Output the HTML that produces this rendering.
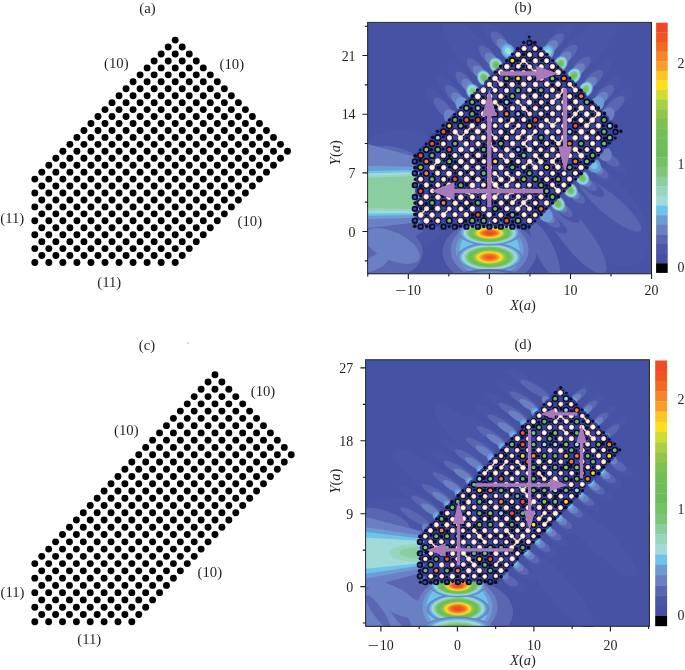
<!DOCTYPE html>
<html lang="en"><head><meta charset="utf-8"><title>Figure</title>
<style>
html,body{margin:0;padding:0;background:#fff;}
body{width:685px;height:670px;overflow:hidden;font-family:"Liberation Serif","Times New Roman",serif;}
svg{display:block;}
</style></head><body>
<svg width="685" height="670" viewBox="0 0 685 670" font-family="'Liberation Serif', 'Times New Roman', serif" fill="#231f20">
<defs>
<filter id="b1" x="-20%" y="-20%" width="140%" height="140%"><feGaussianBlur stdDeviation="0.7"/></filter>
<filter id="b2" x="-20%" y="-20%" width="140%" height="140%"><feGaussianBlur stdDeviation="1.6"/></filter>
<clipPath id="cb"><rect x="368" y="23" width="283.5" height="250.8"/></clipPath>
<clipPath id="cd"><rect x="366" y="360" width="283.4" height="266.3"/></clipPath>
</defs>
<rect width="685" height="670" fill="#fff"/>
<g fill="#000"><circle cx="175.2" cy="40.1" r="3.45"/><circle cx="168.18" cy="47.05" r="3.45"/><circle cx="182.22" cy="47.05" r="3.45"/><circle cx="161.16" cy="54" r="3.45"/><circle cx="175.2" cy="54" r="3.45"/><circle cx="189.24" cy="54" r="3.45"/><circle cx="154.14" cy="60.95" r="3.45"/><circle cx="168.18" cy="60.95" r="3.45"/><circle cx="182.22" cy="60.95" r="3.45"/><circle cx="196.26" cy="60.95" r="3.45"/><circle cx="147.12" cy="67.9" r="3.45"/><circle cx="161.16" cy="67.9" r="3.45"/><circle cx="175.2" cy="67.9" r="3.45"/><circle cx="189.24" cy="67.9" r="3.45"/><circle cx="203.28" cy="67.9" r="3.45"/><circle cx="140.1" cy="74.85" r="3.45"/><circle cx="154.14" cy="74.85" r="3.45"/><circle cx="168.18" cy="74.85" r="3.45"/><circle cx="182.22" cy="74.85" r="3.45"/><circle cx="196.26" cy="74.85" r="3.45"/><circle cx="210.3" cy="74.85" r="3.45"/><circle cx="133.08" cy="81.8" r="3.45"/><circle cx="147.12" cy="81.8" r="3.45"/><circle cx="161.16" cy="81.8" r="3.45"/><circle cx="175.2" cy="81.8" r="3.45"/><circle cx="189.24" cy="81.8" r="3.45"/><circle cx="203.28" cy="81.8" r="3.45"/><circle cx="217.32" cy="81.8" r="3.45"/><circle cx="126.06" cy="88.75" r="3.45"/><circle cx="140.1" cy="88.75" r="3.45"/><circle cx="154.14" cy="88.75" r="3.45"/><circle cx="168.18" cy="88.75" r="3.45"/><circle cx="182.22" cy="88.75" r="3.45"/><circle cx="196.26" cy="88.75" r="3.45"/><circle cx="210.3" cy="88.75" r="3.45"/><circle cx="224.34" cy="88.75" r="3.45"/><circle cx="119.04" cy="95.7" r="3.45"/><circle cx="133.08" cy="95.7" r="3.45"/><circle cx="147.12" cy="95.7" r="3.45"/><circle cx="161.16" cy="95.7" r="3.45"/><circle cx="175.2" cy="95.7" r="3.45"/><circle cx="189.24" cy="95.7" r="3.45"/><circle cx="203.28" cy="95.7" r="3.45"/><circle cx="217.32" cy="95.7" r="3.45"/><circle cx="231.36" cy="95.7" r="3.45"/><circle cx="112.02" cy="102.65" r="3.45"/><circle cx="126.06" cy="102.65" r="3.45"/><circle cx="140.1" cy="102.65" r="3.45"/><circle cx="154.14" cy="102.65" r="3.45"/><circle cx="168.18" cy="102.65" r="3.45"/><circle cx="182.22" cy="102.65" r="3.45"/><circle cx="196.26" cy="102.65" r="3.45"/><circle cx="210.3" cy="102.65" r="3.45"/><circle cx="224.34" cy="102.65" r="3.45"/><circle cx="238.38" cy="102.65" r="3.45"/><circle cx="105" cy="109.6" r="3.45"/><circle cx="119.04" cy="109.6" r="3.45"/><circle cx="133.08" cy="109.6" r="3.45"/><circle cx="147.12" cy="109.6" r="3.45"/><circle cx="161.16" cy="109.6" r="3.45"/><circle cx="175.2" cy="109.6" r="3.45"/><circle cx="189.24" cy="109.6" r="3.45"/><circle cx="203.28" cy="109.6" r="3.45"/><circle cx="217.32" cy="109.6" r="3.45"/><circle cx="231.36" cy="109.6" r="3.45"/><circle cx="245.4" cy="109.6" r="3.45"/><circle cx="97.98" cy="116.55" r="3.45"/><circle cx="112.02" cy="116.55" r="3.45"/><circle cx="126.06" cy="116.55" r="3.45"/><circle cx="140.1" cy="116.55" r="3.45"/><circle cx="154.14" cy="116.55" r="3.45"/><circle cx="168.18" cy="116.55" r="3.45"/><circle cx="182.22" cy="116.55" r="3.45"/><circle cx="196.26" cy="116.55" r="3.45"/><circle cx="210.3" cy="116.55" r="3.45"/><circle cx="224.34" cy="116.55" r="3.45"/><circle cx="238.38" cy="116.55" r="3.45"/><circle cx="252.42" cy="116.55" r="3.45"/><circle cx="90.96" cy="123.5" r="3.45"/><circle cx="105" cy="123.5" r="3.45"/><circle cx="119.04" cy="123.5" r="3.45"/><circle cx="133.08" cy="123.5" r="3.45"/><circle cx="147.12" cy="123.5" r="3.45"/><circle cx="161.16" cy="123.5" r="3.45"/><circle cx="175.2" cy="123.5" r="3.45"/><circle cx="189.24" cy="123.5" r="3.45"/><circle cx="203.28" cy="123.5" r="3.45"/><circle cx="217.32" cy="123.5" r="3.45"/><circle cx="231.36" cy="123.5" r="3.45"/><circle cx="245.4" cy="123.5" r="3.45"/><circle cx="259.44" cy="123.5" r="3.45"/><circle cx="83.94" cy="130.45" r="3.45"/><circle cx="97.98" cy="130.45" r="3.45"/><circle cx="112.02" cy="130.45" r="3.45"/><circle cx="126.06" cy="130.45" r="3.45"/><circle cx="140.1" cy="130.45" r="3.45"/><circle cx="154.14" cy="130.45" r="3.45"/><circle cx="168.18" cy="130.45" r="3.45"/><circle cx="182.22" cy="130.45" r="3.45"/><circle cx="196.26" cy="130.45" r="3.45"/><circle cx="210.3" cy="130.45" r="3.45"/><circle cx="224.34" cy="130.45" r="3.45"/><circle cx="238.38" cy="130.45" r="3.45"/><circle cx="252.42" cy="130.45" r="3.45"/><circle cx="266.46" cy="130.45" r="3.45"/><circle cx="76.92" cy="137.4" r="3.45"/><circle cx="90.96" cy="137.4" r="3.45"/><circle cx="105" cy="137.4" r="3.45"/><circle cx="119.04" cy="137.4" r="3.45"/><circle cx="133.08" cy="137.4" r="3.45"/><circle cx="147.12" cy="137.4" r="3.45"/><circle cx="161.16" cy="137.4" r="3.45"/><circle cx="175.2" cy="137.4" r="3.45"/><circle cx="189.24" cy="137.4" r="3.45"/><circle cx="203.28" cy="137.4" r="3.45"/><circle cx="217.32" cy="137.4" r="3.45"/><circle cx="231.36" cy="137.4" r="3.45"/><circle cx="245.4" cy="137.4" r="3.45"/><circle cx="259.44" cy="137.4" r="3.45"/><circle cx="273.48" cy="137.4" r="3.45"/><circle cx="69.9" cy="144.35" r="3.45"/><circle cx="83.94" cy="144.35" r="3.45"/><circle cx="97.98" cy="144.35" r="3.45"/><circle cx="112.02" cy="144.35" r="3.45"/><circle cx="126.06" cy="144.35" r="3.45"/><circle cx="140.1" cy="144.35" r="3.45"/><circle cx="154.14" cy="144.35" r="3.45"/><circle cx="168.18" cy="144.35" r="3.45"/><circle cx="182.22" cy="144.35" r="3.45"/><circle cx="196.26" cy="144.35" r="3.45"/><circle cx="210.3" cy="144.35" r="3.45"/><circle cx="224.34" cy="144.35" r="3.45"/><circle cx="238.38" cy="144.35" r="3.45"/><circle cx="252.42" cy="144.35" r="3.45"/><circle cx="266.46" cy="144.35" r="3.45"/><circle cx="280.5" cy="144.35" r="3.45"/><circle cx="62.88" cy="151.3" r="3.45"/><circle cx="76.92" cy="151.3" r="3.45"/><circle cx="90.96" cy="151.3" r="3.45"/><circle cx="105" cy="151.3" r="3.45"/><circle cx="119.04" cy="151.3" r="3.45"/><circle cx="133.08" cy="151.3" r="3.45"/><circle cx="147.12" cy="151.3" r="3.45"/><circle cx="161.16" cy="151.3" r="3.45"/><circle cx="175.2" cy="151.3" r="3.45"/><circle cx="189.24" cy="151.3" r="3.45"/><circle cx="203.28" cy="151.3" r="3.45"/><circle cx="217.32" cy="151.3" r="3.45"/><circle cx="231.36" cy="151.3" r="3.45"/><circle cx="245.4" cy="151.3" r="3.45"/><circle cx="259.44" cy="151.3" r="3.45"/><circle cx="273.48" cy="151.3" r="3.45"/><circle cx="287.52" cy="151.3" r="3.45"/><circle cx="55.86" cy="158.25" r="3.45"/><circle cx="69.9" cy="158.25" r="3.45"/><circle cx="83.94" cy="158.25" r="3.45"/><circle cx="97.98" cy="158.25" r="3.45"/><circle cx="112.02" cy="158.25" r="3.45"/><circle cx="126.06" cy="158.25" r="3.45"/><circle cx="140.1" cy="158.25" r="3.45"/><circle cx="154.14" cy="158.25" r="3.45"/><circle cx="168.18" cy="158.25" r="3.45"/><circle cx="182.22" cy="158.25" r="3.45"/><circle cx="196.26" cy="158.25" r="3.45"/><circle cx="210.3" cy="158.25" r="3.45"/><circle cx="224.34" cy="158.25" r="3.45"/><circle cx="238.38" cy="158.25" r="3.45"/><circle cx="252.42" cy="158.25" r="3.45"/><circle cx="266.46" cy="158.25" r="3.45"/><circle cx="280.5" cy="158.25" r="3.45"/><circle cx="48.84" cy="165.2" r="3.45"/><circle cx="62.88" cy="165.2" r="3.45"/><circle cx="76.92" cy="165.2" r="3.45"/><circle cx="90.96" cy="165.2" r="3.45"/><circle cx="105" cy="165.2" r="3.45"/><circle cx="119.04" cy="165.2" r="3.45"/><circle cx="133.08" cy="165.2" r="3.45"/><circle cx="147.12" cy="165.2" r="3.45"/><circle cx="161.16" cy="165.2" r="3.45"/><circle cx="175.2" cy="165.2" r="3.45"/><circle cx="189.24" cy="165.2" r="3.45"/><circle cx="203.28" cy="165.2" r="3.45"/><circle cx="217.32" cy="165.2" r="3.45"/><circle cx="231.36" cy="165.2" r="3.45"/><circle cx="245.4" cy="165.2" r="3.45"/><circle cx="259.44" cy="165.2" r="3.45"/><circle cx="273.48" cy="165.2" r="3.45"/><circle cx="41.82" cy="172.15" r="3.45"/><circle cx="55.86" cy="172.15" r="3.45"/><circle cx="69.9" cy="172.15" r="3.45"/><circle cx="83.94" cy="172.15" r="3.45"/><circle cx="97.98" cy="172.15" r="3.45"/><circle cx="112.02" cy="172.15" r="3.45"/><circle cx="126.06" cy="172.15" r="3.45"/><circle cx="140.1" cy="172.15" r="3.45"/><circle cx="154.14" cy="172.15" r="3.45"/><circle cx="168.18" cy="172.15" r="3.45"/><circle cx="182.22" cy="172.15" r="3.45"/><circle cx="196.26" cy="172.15" r="3.45"/><circle cx="210.3" cy="172.15" r="3.45"/><circle cx="224.34" cy="172.15" r="3.45"/><circle cx="238.38" cy="172.15" r="3.45"/><circle cx="252.42" cy="172.15" r="3.45"/><circle cx="266.46" cy="172.15" r="3.45"/><circle cx="34.8" cy="179.1" r="3.45"/><circle cx="48.84" cy="179.1" r="3.45"/><circle cx="62.88" cy="179.1" r="3.45"/><circle cx="76.92" cy="179.1" r="3.45"/><circle cx="90.96" cy="179.1" r="3.45"/><circle cx="105" cy="179.1" r="3.45"/><circle cx="119.04" cy="179.1" r="3.45"/><circle cx="133.08" cy="179.1" r="3.45"/><circle cx="147.12" cy="179.1" r="3.45"/><circle cx="161.16" cy="179.1" r="3.45"/><circle cx="175.2" cy="179.1" r="3.45"/><circle cx="189.24" cy="179.1" r="3.45"/><circle cx="203.28" cy="179.1" r="3.45"/><circle cx="217.32" cy="179.1" r="3.45"/><circle cx="231.36" cy="179.1" r="3.45"/><circle cx="245.4" cy="179.1" r="3.45"/><circle cx="259.44" cy="179.1" r="3.45"/><circle cx="41.82" cy="186.05" r="3.45"/><circle cx="55.86" cy="186.05" r="3.45"/><circle cx="69.9" cy="186.05" r="3.45"/><circle cx="83.94" cy="186.05" r="3.45"/><circle cx="97.98" cy="186.05" r="3.45"/><circle cx="112.02" cy="186.05" r="3.45"/><circle cx="126.06" cy="186.05" r="3.45"/><circle cx="140.1" cy="186.05" r="3.45"/><circle cx="154.14" cy="186.05" r="3.45"/><circle cx="168.18" cy="186.05" r="3.45"/><circle cx="182.22" cy="186.05" r="3.45"/><circle cx="196.26" cy="186.05" r="3.45"/><circle cx="210.3" cy="186.05" r="3.45"/><circle cx="224.34" cy="186.05" r="3.45"/><circle cx="238.38" cy="186.05" r="3.45"/><circle cx="252.42" cy="186.05" r="3.45"/><circle cx="34.8" cy="193" r="3.45"/><circle cx="48.84" cy="193" r="3.45"/><circle cx="62.88" cy="193" r="3.45"/><circle cx="76.92" cy="193" r="3.45"/><circle cx="90.96" cy="193" r="3.45"/><circle cx="105" cy="193" r="3.45"/><circle cx="119.04" cy="193" r="3.45"/><circle cx="133.08" cy="193" r="3.45"/><circle cx="147.12" cy="193" r="3.45"/><circle cx="161.16" cy="193" r="3.45"/><circle cx="175.2" cy="193" r="3.45"/><circle cx="189.24" cy="193" r="3.45"/><circle cx="203.28" cy="193" r="3.45"/><circle cx="217.32" cy="193" r="3.45"/><circle cx="231.36" cy="193" r="3.45"/><circle cx="245.4" cy="193" r="3.45"/><circle cx="41.82" cy="199.95" r="3.45"/><circle cx="55.86" cy="199.95" r="3.45"/><circle cx="69.9" cy="199.95" r="3.45"/><circle cx="83.94" cy="199.95" r="3.45"/><circle cx="97.98" cy="199.95" r="3.45"/><circle cx="112.02" cy="199.95" r="3.45"/><circle cx="126.06" cy="199.95" r="3.45"/><circle cx="140.1" cy="199.95" r="3.45"/><circle cx="154.14" cy="199.95" r="3.45"/><circle cx="168.18" cy="199.95" r="3.45"/><circle cx="182.22" cy="199.95" r="3.45"/><circle cx="196.26" cy="199.95" r="3.45"/><circle cx="210.3" cy="199.95" r="3.45"/><circle cx="224.34" cy="199.95" r="3.45"/><circle cx="238.38" cy="199.95" r="3.45"/><circle cx="34.8" cy="206.9" r="3.45"/><circle cx="48.84" cy="206.9" r="3.45"/><circle cx="62.88" cy="206.9" r="3.45"/><circle cx="76.92" cy="206.9" r="3.45"/><circle cx="90.96" cy="206.9" r="3.45"/><circle cx="105" cy="206.9" r="3.45"/><circle cx="119.04" cy="206.9" r="3.45"/><circle cx="133.08" cy="206.9" r="3.45"/><circle cx="147.12" cy="206.9" r="3.45"/><circle cx="161.16" cy="206.9" r="3.45"/><circle cx="175.2" cy="206.9" r="3.45"/><circle cx="189.24" cy="206.9" r="3.45"/><circle cx="203.28" cy="206.9" r="3.45"/><circle cx="217.32" cy="206.9" r="3.45"/><circle cx="231.36" cy="206.9" r="3.45"/><circle cx="41.82" cy="213.85" r="3.45"/><circle cx="55.86" cy="213.85" r="3.45"/><circle cx="69.9" cy="213.85" r="3.45"/><circle cx="83.94" cy="213.85" r="3.45"/><circle cx="97.98" cy="213.85" r="3.45"/><circle cx="112.02" cy="213.85" r="3.45"/><circle cx="126.06" cy="213.85" r="3.45"/><circle cx="140.1" cy="213.85" r="3.45"/><circle cx="154.14" cy="213.85" r="3.45"/><circle cx="168.18" cy="213.85" r="3.45"/><circle cx="182.22" cy="213.85" r="3.45"/><circle cx="196.26" cy="213.85" r="3.45"/><circle cx="210.3" cy="213.85" r="3.45"/><circle cx="224.34" cy="213.85" r="3.45"/><circle cx="34.8" cy="220.8" r="3.45"/><circle cx="48.84" cy="220.8" r="3.45"/><circle cx="62.88" cy="220.8" r="3.45"/><circle cx="76.92" cy="220.8" r="3.45"/><circle cx="90.96" cy="220.8" r="3.45"/><circle cx="105" cy="220.8" r="3.45"/><circle cx="119.04" cy="220.8" r="3.45"/><circle cx="133.08" cy="220.8" r="3.45"/><circle cx="147.12" cy="220.8" r="3.45"/><circle cx="161.16" cy="220.8" r="3.45"/><circle cx="175.2" cy="220.8" r="3.45"/><circle cx="189.24" cy="220.8" r="3.45"/><circle cx="203.28" cy="220.8" r="3.45"/><circle cx="217.32" cy="220.8" r="3.45"/><circle cx="41.82" cy="227.75" r="3.45"/><circle cx="55.86" cy="227.75" r="3.45"/><circle cx="69.9" cy="227.75" r="3.45"/><circle cx="83.94" cy="227.75" r="3.45"/><circle cx="97.98" cy="227.75" r="3.45"/><circle cx="112.02" cy="227.75" r="3.45"/><circle cx="126.06" cy="227.75" r="3.45"/><circle cx="140.1" cy="227.75" r="3.45"/><circle cx="154.14" cy="227.75" r="3.45"/><circle cx="168.18" cy="227.75" r="3.45"/><circle cx="182.22" cy="227.75" r="3.45"/><circle cx="196.26" cy="227.75" r="3.45"/><circle cx="210.3" cy="227.75" r="3.45"/><circle cx="34.8" cy="234.7" r="3.45"/><circle cx="48.84" cy="234.7" r="3.45"/><circle cx="62.88" cy="234.7" r="3.45"/><circle cx="76.92" cy="234.7" r="3.45"/><circle cx="90.96" cy="234.7" r="3.45"/><circle cx="105" cy="234.7" r="3.45"/><circle cx="119.04" cy="234.7" r="3.45"/><circle cx="133.08" cy="234.7" r="3.45"/><circle cx="147.12" cy="234.7" r="3.45"/><circle cx="161.16" cy="234.7" r="3.45"/><circle cx="175.2" cy="234.7" r="3.45"/><circle cx="189.24" cy="234.7" r="3.45"/><circle cx="203.28" cy="234.7" r="3.45"/><circle cx="41.82" cy="241.65" r="3.45"/><circle cx="55.86" cy="241.65" r="3.45"/><circle cx="69.9" cy="241.65" r="3.45"/><circle cx="83.94" cy="241.65" r="3.45"/><circle cx="97.98" cy="241.65" r="3.45"/><circle cx="112.02" cy="241.65" r="3.45"/><circle cx="126.06" cy="241.65" r="3.45"/><circle cx="140.1" cy="241.65" r="3.45"/><circle cx="154.14" cy="241.65" r="3.45"/><circle cx="168.18" cy="241.65" r="3.45"/><circle cx="182.22" cy="241.65" r="3.45"/><circle cx="196.26" cy="241.65" r="3.45"/><circle cx="34.8" cy="248.6" r="3.45"/><circle cx="48.84" cy="248.6" r="3.45"/><circle cx="62.88" cy="248.6" r="3.45"/><circle cx="76.92" cy="248.6" r="3.45"/><circle cx="90.96" cy="248.6" r="3.45"/><circle cx="105" cy="248.6" r="3.45"/><circle cx="119.04" cy="248.6" r="3.45"/><circle cx="133.08" cy="248.6" r="3.45"/><circle cx="147.12" cy="248.6" r="3.45"/><circle cx="161.16" cy="248.6" r="3.45"/><circle cx="175.2" cy="248.6" r="3.45"/><circle cx="189.24" cy="248.6" r="3.45"/><circle cx="41.82" cy="255.55" r="3.45"/><circle cx="55.86" cy="255.55" r="3.45"/><circle cx="69.9" cy="255.55" r="3.45"/><circle cx="83.94" cy="255.55" r="3.45"/><circle cx="97.98" cy="255.55" r="3.45"/><circle cx="112.02" cy="255.55" r="3.45"/><circle cx="126.06" cy="255.55" r="3.45"/><circle cx="140.1" cy="255.55" r="3.45"/><circle cx="154.14" cy="255.55" r="3.45"/><circle cx="168.18" cy="255.55" r="3.45"/><circle cx="182.22" cy="255.55" r="3.45"/><circle cx="34.8" cy="262.5" r="3.45"/><circle cx="48.84" cy="262.5" r="3.45"/><circle cx="62.88" cy="262.5" r="3.45"/><circle cx="76.92" cy="262.5" r="3.45"/><circle cx="90.96" cy="262.5" r="3.45"/><circle cx="105" cy="262.5" r="3.45"/><circle cx="119.04" cy="262.5" r="3.45"/><circle cx="133.08" cy="262.5" r="3.45"/><circle cx="147.12" cy="262.5" r="3.45"/><circle cx="161.16" cy="262.5" r="3.45"/><circle cx="175.2" cy="262.5" r="3.45"/></g>
<text x="147.5" y="13.3" font-size="14.7" text-anchor="middle">(a)</text>
<text x="116.3" y="68.3" font-size="14.7" text-anchor="middle">(10)</text>
<text x="231.8" y="68.6" font-size="14.7" text-anchor="middle">(10)</text>
<text x="249.8" y="226.2" font-size="14.7" text-anchor="middle">(10)</text>
<text x="12.3" y="222.8" font-size="14.7" text-anchor="middle">(11)</text>
<text x="109.3" y="286.8" font-size="14.7" text-anchor="middle">(11)</text>
<g fill="#000"><circle cx="214.98" cy="374.8" r="3.45"/><circle cx="208.05" cy="382.06" r="3.45"/><circle cx="221.91" cy="382.06" r="3.45"/><circle cx="201.12" cy="389.32" r="3.45"/><circle cx="214.98" cy="389.32" r="3.45"/><circle cx="228.84" cy="389.32" r="3.45"/><circle cx="194.19" cy="396.59" r="3.45"/><circle cx="208.05" cy="396.59" r="3.45"/><circle cx="221.91" cy="396.59" r="3.45"/><circle cx="235.77" cy="396.59" r="3.45"/><circle cx="187.26" cy="403.85" r="3.45"/><circle cx="201.12" cy="403.85" r="3.45"/><circle cx="214.98" cy="403.85" r="3.45"/><circle cx="228.84" cy="403.85" r="3.45"/><circle cx="242.7" cy="403.85" r="3.45"/><circle cx="180.33" cy="411.11" r="3.45"/><circle cx="194.19" cy="411.11" r="3.45"/><circle cx="208.05" cy="411.11" r="3.45"/><circle cx="221.91" cy="411.11" r="3.45"/><circle cx="235.77" cy="411.11" r="3.45"/><circle cx="249.63" cy="411.11" r="3.45"/><circle cx="173.4" cy="418.37" r="3.45"/><circle cx="187.26" cy="418.37" r="3.45"/><circle cx="201.12" cy="418.37" r="3.45"/><circle cx="214.98" cy="418.37" r="3.45"/><circle cx="228.84" cy="418.37" r="3.45"/><circle cx="242.7" cy="418.37" r="3.45"/><circle cx="256.56" cy="418.37" r="3.45"/><circle cx="166.47" cy="425.63" r="3.45"/><circle cx="180.33" cy="425.63" r="3.45"/><circle cx="194.19" cy="425.63" r="3.45"/><circle cx="208.05" cy="425.63" r="3.45"/><circle cx="221.91" cy="425.63" r="3.45"/><circle cx="235.77" cy="425.63" r="3.45"/><circle cx="249.63" cy="425.63" r="3.45"/><circle cx="263.49" cy="425.63" r="3.45"/><circle cx="159.54" cy="432.9" r="3.45"/><circle cx="173.4" cy="432.9" r="3.45"/><circle cx="187.26" cy="432.9" r="3.45"/><circle cx="201.12" cy="432.9" r="3.45"/><circle cx="214.98" cy="432.9" r="3.45"/><circle cx="228.84" cy="432.9" r="3.45"/><circle cx="242.7" cy="432.9" r="3.45"/><circle cx="256.56" cy="432.9" r="3.45"/><circle cx="270.42" cy="432.9" r="3.45"/><circle cx="152.61" cy="440.16" r="3.45"/><circle cx="166.47" cy="440.16" r="3.45"/><circle cx="180.33" cy="440.16" r="3.45"/><circle cx="194.19" cy="440.16" r="3.45"/><circle cx="208.05" cy="440.16" r="3.45"/><circle cx="221.91" cy="440.16" r="3.45"/><circle cx="235.77" cy="440.16" r="3.45"/><circle cx="249.63" cy="440.16" r="3.45"/><circle cx="263.49" cy="440.16" r="3.45"/><circle cx="277.35" cy="440.16" r="3.45"/><circle cx="145.68" cy="447.42" r="3.45"/><circle cx="159.54" cy="447.42" r="3.45"/><circle cx="173.4" cy="447.42" r="3.45"/><circle cx="187.26" cy="447.42" r="3.45"/><circle cx="201.12" cy="447.42" r="3.45"/><circle cx="214.98" cy="447.42" r="3.45"/><circle cx="228.84" cy="447.42" r="3.45"/><circle cx="242.7" cy="447.42" r="3.45"/><circle cx="256.56" cy="447.42" r="3.45"/><circle cx="270.42" cy="447.42" r="3.45"/><circle cx="284.28" cy="447.42" r="3.45"/><circle cx="138.75" cy="454.68" r="3.45"/><circle cx="152.61" cy="454.68" r="3.45"/><circle cx="166.47" cy="454.68" r="3.45"/><circle cx="180.33" cy="454.68" r="3.45"/><circle cx="194.19" cy="454.68" r="3.45"/><circle cx="208.05" cy="454.68" r="3.45"/><circle cx="221.91" cy="454.68" r="3.45"/><circle cx="235.77" cy="454.68" r="3.45"/><circle cx="249.63" cy="454.68" r="3.45"/><circle cx="263.49" cy="454.68" r="3.45"/><circle cx="277.35" cy="454.68" r="3.45"/><circle cx="291.21" cy="454.68" r="3.45"/><circle cx="131.82" cy="461.94" r="3.45"/><circle cx="145.68" cy="461.94" r="3.45"/><circle cx="159.54" cy="461.94" r="3.45"/><circle cx="173.4" cy="461.94" r="3.45"/><circle cx="187.26" cy="461.94" r="3.45"/><circle cx="201.12" cy="461.94" r="3.45"/><circle cx="214.98" cy="461.94" r="3.45"/><circle cx="228.84" cy="461.94" r="3.45"/><circle cx="242.7" cy="461.94" r="3.45"/><circle cx="256.56" cy="461.94" r="3.45"/><circle cx="270.42" cy="461.94" r="3.45"/><circle cx="284.28" cy="461.94" r="3.45"/><circle cx="124.89" cy="469.21" r="3.45"/><circle cx="138.75" cy="469.21" r="3.45"/><circle cx="152.61" cy="469.21" r="3.45"/><circle cx="166.47" cy="469.21" r="3.45"/><circle cx="180.33" cy="469.21" r="3.45"/><circle cx="194.19" cy="469.21" r="3.45"/><circle cx="208.05" cy="469.21" r="3.45"/><circle cx="221.91" cy="469.21" r="3.45"/><circle cx="235.77" cy="469.21" r="3.45"/><circle cx="249.63" cy="469.21" r="3.45"/><circle cx="263.49" cy="469.21" r="3.45"/><circle cx="277.35" cy="469.21" r="3.45"/><circle cx="117.96" cy="476.47" r="3.45"/><circle cx="131.82" cy="476.47" r="3.45"/><circle cx="145.68" cy="476.47" r="3.45"/><circle cx="159.54" cy="476.47" r="3.45"/><circle cx="173.4" cy="476.47" r="3.45"/><circle cx="187.26" cy="476.47" r="3.45"/><circle cx="201.12" cy="476.47" r="3.45"/><circle cx="214.98" cy="476.47" r="3.45"/><circle cx="228.84" cy="476.47" r="3.45"/><circle cx="242.7" cy="476.47" r="3.45"/><circle cx="256.56" cy="476.47" r="3.45"/><circle cx="270.42" cy="476.47" r="3.45"/><circle cx="111.03" cy="483.73" r="3.45"/><circle cx="124.89" cy="483.73" r="3.45"/><circle cx="138.75" cy="483.73" r="3.45"/><circle cx="152.61" cy="483.73" r="3.45"/><circle cx="166.47" cy="483.73" r="3.45"/><circle cx="180.33" cy="483.73" r="3.45"/><circle cx="194.19" cy="483.73" r="3.45"/><circle cx="208.05" cy="483.73" r="3.45"/><circle cx="221.91" cy="483.73" r="3.45"/><circle cx="235.77" cy="483.73" r="3.45"/><circle cx="249.63" cy="483.73" r="3.45"/><circle cx="263.49" cy="483.73" r="3.45"/><circle cx="104.1" cy="490.99" r="3.45"/><circle cx="117.96" cy="490.99" r="3.45"/><circle cx="131.82" cy="490.99" r="3.45"/><circle cx="145.68" cy="490.99" r="3.45"/><circle cx="159.54" cy="490.99" r="3.45"/><circle cx="173.4" cy="490.99" r="3.45"/><circle cx="187.26" cy="490.99" r="3.45"/><circle cx="201.12" cy="490.99" r="3.45"/><circle cx="214.98" cy="490.99" r="3.45"/><circle cx="228.84" cy="490.99" r="3.45"/><circle cx="242.7" cy="490.99" r="3.45"/><circle cx="256.56" cy="490.99" r="3.45"/><circle cx="97.17" cy="498.25" r="3.45"/><circle cx="111.03" cy="498.25" r="3.45"/><circle cx="124.89" cy="498.25" r="3.45"/><circle cx="138.75" cy="498.25" r="3.45"/><circle cx="152.61" cy="498.25" r="3.45"/><circle cx="166.47" cy="498.25" r="3.45"/><circle cx="180.33" cy="498.25" r="3.45"/><circle cx="194.19" cy="498.25" r="3.45"/><circle cx="208.05" cy="498.25" r="3.45"/><circle cx="221.91" cy="498.25" r="3.45"/><circle cx="235.77" cy="498.25" r="3.45"/><circle cx="249.63" cy="498.25" r="3.45"/><circle cx="90.24" cy="505.52" r="3.45"/><circle cx="104.1" cy="505.52" r="3.45"/><circle cx="117.96" cy="505.52" r="3.45"/><circle cx="131.82" cy="505.52" r="3.45"/><circle cx="145.68" cy="505.52" r="3.45"/><circle cx="159.54" cy="505.52" r="3.45"/><circle cx="173.4" cy="505.52" r="3.45"/><circle cx="187.26" cy="505.52" r="3.45"/><circle cx="201.12" cy="505.52" r="3.45"/><circle cx="214.98" cy="505.52" r="3.45"/><circle cx="228.84" cy="505.52" r="3.45"/><circle cx="242.7" cy="505.52" r="3.45"/><circle cx="83.31" cy="512.78" r="3.45"/><circle cx="97.17" cy="512.78" r="3.45"/><circle cx="111.03" cy="512.78" r="3.45"/><circle cx="124.89" cy="512.78" r="3.45"/><circle cx="138.75" cy="512.78" r="3.45"/><circle cx="152.61" cy="512.78" r="3.45"/><circle cx="166.47" cy="512.78" r="3.45"/><circle cx="180.33" cy="512.78" r="3.45"/><circle cx="194.19" cy="512.78" r="3.45"/><circle cx="208.05" cy="512.78" r="3.45"/><circle cx="221.91" cy="512.78" r="3.45"/><circle cx="235.77" cy="512.78" r="3.45"/><circle cx="76.38" cy="520.04" r="3.45"/><circle cx="90.24" cy="520.04" r="3.45"/><circle cx="104.1" cy="520.04" r="3.45"/><circle cx="117.96" cy="520.04" r="3.45"/><circle cx="131.82" cy="520.04" r="3.45"/><circle cx="145.68" cy="520.04" r="3.45"/><circle cx="159.54" cy="520.04" r="3.45"/><circle cx="173.4" cy="520.04" r="3.45"/><circle cx="187.26" cy="520.04" r="3.45"/><circle cx="201.12" cy="520.04" r="3.45"/><circle cx="214.98" cy="520.04" r="3.45"/><circle cx="228.84" cy="520.04" r="3.45"/><circle cx="69.45" cy="527.3" r="3.45"/><circle cx="83.31" cy="527.3" r="3.45"/><circle cx="97.17" cy="527.3" r="3.45"/><circle cx="111.03" cy="527.3" r="3.45"/><circle cx="124.89" cy="527.3" r="3.45"/><circle cx="138.75" cy="527.3" r="3.45"/><circle cx="152.61" cy="527.3" r="3.45"/><circle cx="166.47" cy="527.3" r="3.45"/><circle cx="180.33" cy="527.3" r="3.45"/><circle cx="194.19" cy="527.3" r="3.45"/><circle cx="208.05" cy="527.3" r="3.45"/><circle cx="221.91" cy="527.3" r="3.45"/><circle cx="62.52" cy="534.56" r="3.45"/><circle cx="76.38" cy="534.56" r="3.45"/><circle cx="90.24" cy="534.56" r="3.45"/><circle cx="104.1" cy="534.56" r="3.45"/><circle cx="117.96" cy="534.56" r="3.45"/><circle cx="131.82" cy="534.56" r="3.45"/><circle cx="145.68" cy="534.56" r="3.45"/><circle cx="159.54" cy="534.56" r="3.45"/><circle cx="173.4" cy="534.56" r="3.45"/><circle cx="187.26" cy="534.56" r="3.45"/><circle cx="201.12" cy="534.56" r="3.45"/><circle cx="214.98" cy="534.56" r="3.45"/><circle cx="55.59" cy="541.83" r="3.45"/><circle cx="69.45" cy="541.83" r="3.45"/><circle cx="83.31" cy="541.83" r="3.45"/><circle cx="97.17" cy="541.83" r="3.45"/><circle cx="111.03" cy="541.83" r="3.45"/><circle cx="124.89" cy="541.83" r="3.45"/><circle cx="138.75" cy="541.83" r="3.45"/><circle cx="152.61" cy="541.83" r="3.45"/><circle cx="166.47" cy="541.83" r="3.45"/><circle cx="180.33" cy="541.83" r="3.45"/><circle cx="194.19" cy="541.83" r="3.45"/><circle cx="208.05" cy="541.83" r="3.45"/><circle cx="48.66" cy="549.09" r="3.45"/><circle cx="62.52" cy="549.09" r="3.45"/><circle cx="76.38" cy="549.09" r="3.45"/><circle cx="90.24" cy="549.09" r="3.45"/><circle cx="104.1" cy="549.09" r="3.45"/><circle cx="117.96" cy="549.09" r="3.45"/><circle cx="131.82" cy="549.09" r="3.45"/><circle cx="145.68" cy="549.09" r="3.45"/><circle cx="159.54" cy="549.09" r="3.45"/><circle cx="173.4" cy="549.09" r="3.45"/><circle cx="187.26" cy="549.09" r="3.45"/><circle cx="201.12" cy="549.09" r="3.45"/><circle cx="41.73" cy="556.35" r="3.45"/><circle cx="55.59" cy="556.35" r="3.45"/><circle cx="69.45" cy="556.35" r="3.45"/><circle cx="83.31" cy="556.35" r="3.45"/><circle cx="97.17" cy="556.35" r="3.45"/><circle cx="111.03" cy="556.35" r="3.45"/><circle cx="124.89" cy="556.35" r="3.45"/><circle cx="138.75" cy="556.35" r="3.45"/><circle cx="152.61" cy="556.35" r="3.45"/><circle cx="166.47" cy="556.35" r="3.45"/><circle cx="180.33" cy="556.35" r="3.45"/><circle cx="194.19" cy="556.35" r="3.45"/><circle cx="34.8" cy="563.61" r="3.45"/><circle cx="48.66" cy="563.61" r="3.45"/><circle cx="62.52" cy="563.61" r="3.45"/><circle cx="76.38" cy="563.61" r="3.45"/><circle cx="90.24" cy="563.61" r="3.45"/><circle cx="104.1" cy="563.61" r="3.45"/><circle cx="117.96" cy="563.61" r="3.45"/><circle cx="131.82" cy="563.61" r="3.45"/><circle cx="145.68" cy="563.61" r="3.45"/><circle cx="159.54" cy="563.61" r="3.45"/><circle cx="173.4" cy="563.61" r="3.45"/><circle cx="187.26" cy="563.61" r="3.45"/><circle cx="41.73" cy="570.87" r="3.45"/><circle cx="55.59" cy="570.87" r="3.45"/><circle cx="69.45" cy="570.87" r="3.45"/><circle cx="83.31" cy="570.87" r="3.45"/><circle cx="97.17" cy="570.87" r="3.45"/><circle cx="111.03" cy="570.87" r="3.45"/><circle cx="124.89" cy="570.87" r="3.45"/><circle cx="138.75" cy="570.87" r="3.45"/><circle cx="152.61" cy="570.87" r="3.45"/><circle cx="166.47" cy="570.87" r="3.45"/><circle cx="180.33" cy="570.87" r="3.45"/><circle cx="34.8" cy="578.14" r="3.45"/><circle cx="48.66" cy="578.14" r="3.45"/><circle cx="62.52" cy="578.14" r="3.45"/><circle cx="76.38" cy="578.14" r="3.45"/><circle cx="90.24" cy="578.14" r="3.45"/><circle cx="104.1" cy="578.14" r="3.45"/><circle cx="117.96" cy="578.14" r="3.45"/><circle cx="131.82" cy="578.14" r="3.45"/><circle cx="145.68" cy="578.14" r="3.45"/><circle cx="159.54" cy="578.14" r="3.45"/><circle cx="173.4" cy="578.14" r="3.45"/><circle cx="41.73" cy="585.4" r="3.45"/><circle cx="55.59" cy="585.4" r="3.45"/><circle cx="69.45" cy="585.4" r="3.45"/><circle cx="83.31" cy="585.4" r="3.45"/><circle cx="97.17" cy="585.4" r="3.45"/><circle cx="111.03" cy="585.4" r="3.45"/><circle cx="124.89" cy="585.4" r="3.45"/><circle cx="138.75" cy="585.4" r="3.45"/><circle cx="152.61" cy="585.4" r="3.45"/><circle cx="166.47" cy="585.4" r="3.45"/><circle cx="34.8" cy="592.66" r="3.45"/><circle cx="48.66" cy="592.66" r="3.45"/><circle cx="62.52" cy="592.66" r="3.45"/><circle cx="76.38" cy="592.66" r="3.45"/><circle cx="90.24" cy="592.66" r="3.45"/><circle cx="104.1" cy="592.66" r="3.45"/><circle cx="117.96" cy="592.66" r="3.45"/><circle cx="131.82" cy="592.66" r="3.45"/><circle cx="145.68" cy="592.66" r="3.45"/><circle cx="159.54" cy="592.66" r="3.45"/><circle cx="41.73" cy="599.92" r="3.45"/><circle cx="55.59" cy="599.92" r="3.45"/><circle cx="69.45" cy="599.92" r="3.45"/><circle cx="83.31" cy="599.92" r="3.45"/><circle cx="97.17" cy="599.92" r="3.45"/><circle cx="111.03" cy="599.92" r="3.45"/><circle cx="124.89" cy="599.92" r="3.45"/><circle cx="138.75" cy="599.92" r="3.45"/><circle cx="152.61" cy="599.92" r="3.45"/><circle cx="34.8" cy="607.18" r="3.45"/><circle cx="48.66" cy="607.18" r="3.45"/><circle cx="62.52" cy="607.18" r="3.45"/><circle cx="76.38" cy="607.18" r="3.45"/><circle cx="90.24" cy="607.18" r="3.45"/><circle cx="104.1" cy="607.18" r="3.45"/><circle cx="117.96" cy="607.18" r="3.45"/><circle cx="131.82" cy="607.18" r="3.45"/><circle cx="145.68" cy="607.18" r="3.45"/><circle cx="41.73" cy="614.45" r="3.45"/><circle cx="55.59" cy="614.45" r="3.45"/><circle cx="69.45" cy="614.45" r="3.45"/><circle cx="83.31" cy="614.45" r="3.45"/><circle cx="97.17" cy="614.45" r="3.45"/><circle cx="111.03" cy="614.45" r="3.45"/><circle cx="124.89" cy="614.45" r="3.45"/><circle cx="138.75" cy="614.45" r="3.45"/><circle cx="34.8" cy="621.71" r="3.45"/><circle cx="48.66" cy="621.71" r="3.45"/><circle cx="62.52" cy="621.71" r="3.45"/><circle cx="76.38" cy="621.71" r="3.45"/><circle cx="90.24" cy="621.71" r="3.45"/><circle cx="104.1" cy="621.71" r="3.45"/><circle cx="117.96" cy="621.71" r="3.45"/><circle cx="131.82" cy="621.71" r="3.45"/></g>
<text x="147" y="350.1" font-size="14.7" text-anchor="middle">(c)</text>
<text x="263" y="395.8" font-size="14.7" text-anchor="middle">(10)</text>
<text x="126.3" y="434.8" font-size="14.7" text-anchor="middle">(10)</text>
<text x="209.8" y="576.5" font-size="14.7" text-anchor="middle">(10)</text>
<text x="12.5" y="596.8" font-size="14.7" text-anchor="middle">(11)</text>
<text x="89.3" y="643.8" font-size="14.7" text-anchor="middle">(11)</text>
<circle cx="188" cy="343" r="0.6" fill="#555"/>
<g clip-path="url(#cb)">
<rect x="366" y="21" width="288" height="255" fill="#4652A3"/>
<g filter="url(#b1)">
<ellipse cx="400" cy="190" rx="62" ry="60" fill="#4A57A8"/>
<ellipse cx="385" cy="196" rx="52" ry="50" fill="#5A66B2"/>
<ellipse cx="383" cy="252" rx="40" ry="27" fill="#5A66B2"/>
<ellipse cx="392" cy="246" rx="30" ry="14" fill="#6A80C2" transform="rotate(25 392 246)"/>
<ellipse cx="376" cy="262" rx="16" ry="7" fill="#6A80C2" transform="rotate(-30 376 262)"/>
<ellipse cx="489.6" cy="252" rx="47" ry="32" fill="#5A66B2"/>
<ellipse cx="600" cy="215" rx="36" ry="62" fill="#4A57A8" transform="rotate(-42 600 215)"/>
<ellipse cx="575" cy="235" rx="14" ry="48" fill="#5A66B2" transform="rotate(-38 575 235)"/>
<ellipse cx="610" cy="205" rx="10" ry="40" fill="#5A66B2" transform="rotate(-50 610 205)"/>
<ellipse cx="545" cy="250" rx="9" ry="30" fill="#5A66B2" transform="rotate(-25 545 250)"/>
<ellipse cx="470" cy="50" rx="14" ry="40" fill="#4A57A8" transform="rotate(-40 470 50)"/>
<ellipse cx="590" cy="45" rx="14" ry="40" fill="#4A57A8" transform="rotate(40 590 45)"/>
<ellipse cx="489.6" cy="250" rx="39" ry="29" fill="#6A80C2"/>
<ellipse cx="489.6" cy="250" rx="34" ry="27" fill="#6D9BD4"/>
<ellipse cx="489.6" cy="250" rx="30" ry="25" fill="#6CC4EC"/>
<polygon points="360,142 420,158 420,222 360,229" fill="#6A80C2"/>
<polygon points="360,165.5 420,167 420,217.5 360,219.5" fill="#6D9BD4"/>
<polygon points="360,171 420,170 420,215 360,216" fill="#6CC4EC"/>
<polygon points="360,173.5 420,172 420,213 360,213.5" fill="#A2DAD8"/>
<polygon points="360,176 420,174 420,211 360,210.5" fill="#98D5BE"/>
<polygon points="360,178 420,176 420,209 360,208" fill="#8ACDA0"/>
<ellipse cx="489.6" cy="257.2" rx="33" ry="14.5" fill="#6A80C2"/><ellipse cx="489.6" cy="257.2" rx="30.9" ry="13.58" fill="#6D9BD4"/><ellipse cx="489.6" cy="257.2" rx="29.08" ry="12.78" fill="#6CC4EC"/><ellipse cx="489.6" cy="257.2" rx="27.44" ry="12.06" fill="#A2DAD8"/><ellipse cx="489.6" cy="257.2" rx="25.93" ry="11.39" fill="#98D5BE"/><ellipse cx="489.6" cy="257.2" rx="24.53" ry="10.78" fill="#8ACDA0"/><ellipse cx="489.6" cy="257.2" rx="23.2" ry="10.2" fill="#7CC57A"/><ellipse cx="489.6" cy="257.2" rx="21.94" ry="9.64" fill="#72C162"/><ellipse cx="489.6" cy="257.2" rx="20.71" ry="9.1" fill="#6ABD5A"/><ellipse cx="489.6" cy="257.2" rx="19.51" ry="8.57" fill="#6DBE58"/><ellipse cx="489.6" cy="257.2" rx="18.34" ry="8.06" fill="#74BF54"/><ellipse cx="489.6" cy="257.2" rx="17.17" ry="7.54" fill="#7FC14E"/><ellipse cx="489.6" cy="257.2" rx="16" ry="7.03" fill="#8FC548"/><ellipse cx="489.6" cy="257.2" rx="14.82" ry="6.51" fill="#A9CF43"/><ellipse cx="489.6" cy="257.2" rx="13.61" ry="5.98" fill="#CEDC36"/><ellipse cx="489.6" cy="257.2" rx="12.36" ry="5.43" fill="#FFDF20"/><ellipse cx="489.6" cy="257.2" rx="11.04" ry="4.85" fill="#FDC525"/><ellipse cx="489.6" cy="257.2" rx="9.62" ry="4.23" fill="#F89E28"/><ellipse cx="489.6" cy="257.2" rx="8.04" ry="3.53" fill="#F5852A"/><ellipse cx="489.6" cy="257.2" rx="6.16" ry="2.71" fill="#F26A22"/><ellipse cx="489.6" cy="257.2" rx="3.52" ry="1.55" fill="#F05423"/>
<ellipse cx="489.6" cy="233" rx="31" ry="12.5" fill="#6A80C2"/><ellipse cx="489.6" cy="233" rx="29.07" ry="11.72" fill="#6D9BD4"/><ellipse cx="489.6" cy="233" rx="27.4" ry="11.05" fill="#6CC4EC"/><ellipse cx="489.6" cy="233" rx="25.9" ry="10.44" fill="#A2DAD8"/><ellipse cx="489.6" cy="233" rx="24.52" ry="9.89" fill="#98D5BE"/><ellipse cx="489.6" cy="233" rx="23.24" ry="9.37" fill="#8ACDA0"/><ellipse cx="489.6" cy="233" rx="22.04" ry="8.89" fill="#7CC57A"/><ellipse cx="489.6" cy="233" rx="20.89" ry="8.42" fill="#72C162"/><ellipse cx="489.6" cy="233" rx="19.77" ry="7.97" fill="#6ABD5A"/><ellipse cx="489.6" cy="233" rx="18.7" ry="7.54" fill="#6DBE58"/><ellipse cx="489.6" cy="233" rx="17.64" ry="7.11" fill="#74BF54"/><ellipse cx="489.6" cy="233" rx="16.59" ry="6.69" fill="#7FC14E"/><ellipse cx="489.6" cy="233" rx="15.55" ry="6.27" fill="#8FC548"/><ellipse cx="489.6" cy="233" rx="14.5" ry="5.85" fill="#A9CF43"/><ellipse cx="489.6" cy="233" rx="13.44" ry="5.42" fill="#CEDC36"/><ellipse cx="489.6" cy="233" rx="12.36" ry="4.98" fill="#FFDF20"/><ellipse cx="489.6" cy="233" rx="11.23" ry="4.53" fill="#FDC525"/><ellipse cx="489.6" cy="233" rx="10.04" ry="4.05" fill="#F89E28"/><ellipse cx="489.6" cy="233" rx="8.75" ry="3.53" fill="#F5852A"/><ellipse cx="489.6" cy="233" rx="7.32" ry="2.95" fill="#F26A22"/><ellipse cx="489.6" cy="233" rx="5.61" ry="2.26" fill="#F05423"/><ellipse cx="489.6" cy="233" rx="3.21" ry="1.29" fill="#EF4A24"/>
<ellipse cx="489.6" cy="283" rx="40" ry="14" fill="#5A66B2"/><ellipse cx="489.6" cy="283" rx="34.03" ry="11.91" fill="#6A80C2"/><ellipse cx="489.6" cy="283" rx="28.55" ry="9.99" fill="#6D9BD4"/><ellipse cx="489.6" cy="283" rx="23.13" ry="8.1" fill="#6CC4EC"/><ellipse cx="489.6" cy="283" rx="17.27" ry="6.04" fill="#A2DAD8"/><ellipse cx="489.6" cy="283" rx="9.65" ry="3.38" fill="#98D5BE"/>
<ellipse cx="496.1" cy="36.9" rx="6.5" ry="19" fill="#4A57A8" transform="rotate(-41.6 496.1 36.9)"/><ellipse cx="500.1" cy="41.7" rx="5.52" ry="12.92" fill="#5A66B2" transform="rotate(-41.6 500.1 41.7)"/><ellipse cx="503.1" cy="45.3" rx="4.88" ry="7.98" fill="#6A80C2" transform="rotate(-41.6 503.1 45.3)"/><ellipse cx="508.1" cy="51.3" rx="6.67" ry="8.58" fill="#6D9BD4" transform="rotate(-32 508.1 51.3)"/><ellipse cx="508.1" cy="51.3" rx="4.94" ry="6.37" fill="#6CC4EC" transform="rotate(-32 508.1 51.3)"/><ellipse cx="508.1" cy="51.3" rx="2.75" ry="3.54" fill="#A2DAD8" transform="rotate(-32 508.1 51.3)"/>
<ellipse cx="484.2" cy="51" rx="6.5" ry="19" fill="#4A57A8" transform="rotate(-41.6 484.2 51)"/><ellipse cx="488.2" cy="55.8" rx="5.52" ry="12.92" fill="#5A66B2" transform="rotate(-41.6 488.2 55.8)"/><ellipse cx="491.2" cy="59.4" rx="4.88" ry="7.98" fill="#6A80C2" transform="rotate(-41.6 491.2 59.4)"/><ellipse cx="496.2" cy="65.4" rx="6.67" ry="8.58" fill="#6D9BD4" transform="rotate(-32 496.2 65.4)"/><ellipse cx="496.2" cy="65.4" rx="5.97" ry="7.68" fill="#6CC4EC" transform="rotate(-32 496.2 65.4)"/><ellipse cx="496.2" cy="65.4" rx="5.3" ry="6.83" fill="#A2DAD8" transform="rotate(-32 496.2 65.4)"/><ellipse cx="496.2" cy="65.4" rx="4.65" ry="5.99" fill="#98D5BE" transform="rotate(-32 496.2 65.4)"/><ellipse cx="496.2" cy="65.4" rx="3.99" ry="5.14" fill="#8ACDA0" transform="rotate(-32 496.2 65.4)"/><ellipse cx="496.2" cy="65.4" rx="3.29" ry="4.23" fill="#7CC57A" transform="rotate(-32 496.2 65.4)"/><ellipse cx="496.2" cy="65.4" rx="2.49" ry="3.2" fill="#72C162" transform="rotate(-32 496.2 65.4)"/><ellipse cx="496.2" cy="65.4" rx="1.41" ry="1.81" fill="#6ABD5A" transform="rotate(-32 496.2 65.4)"/>
<ellipse cx="472.2" cy="63.7" rx="6.5" ry="19" fill="#4A57A8" transform="rotate(-41.6 472.2 63.7)"/><ellipse cx="476.2" cy="68.5" rx="5.52" ry="12.92" fill="#5A66B2" transform="rotate(-41.6 476.2 68.5)"/><ellipse cx="479.2" cy="72.1" rx="4.88" ry="7.98" fill="#6A80C2" transform="rotate(-41.6 479.2 72.1)"/><ellipse cx="484.2" cy="78.1" rx="6.67" ry="8.58" fill="#6D9BD4" transform="rotate(-32 484.2 78.1)"/><ellipse cx="484.2" cy="78.1" rx="5.97" ry="7.68" fill="#6CC4EC" transform="rotate(-32 484.2 78.1)"/><ellipse cx="484.2" cy="78.1" rx="5.3" ry="6.83" fill="#A2DAD8" transform="rotate(-32 484.2 78.1)"/><ellipse cx="484.2" cy="78.1" rx="4.65" ry="5.99" fill="#98D5BE" transform="rotate(-32 484.2 78.1)"/><ellipse cx="484.2" cy="78.1" rx="3.99" ry="5.14" fill="#8ACDA0" transform="rotate(-32 484.2 78.1)"/><ellipse cx="484.2" cy="78.1" rx="3.29" ry="4.23" fill="#7CC57A" transform="rotate(-32 484.2 78.1)"/><ellipse cx="484.2" cy="78.1" rx="2.49" ry="3.2" fill="#72C162" transform="rotate(-32 484.2 78.1)"/><ellipse cx="484.2" cy="78.1" rx="1.41" ry="1.81" fill="#6ABD5A" transform="rotate(-32 484.2 78.1)"/>
<ellipse cx="461" cy="77.2" rx="6.5" ry="19" fill="#4A57A8" transform="rotate(-41.6 461 77.2)"/><ellipse cx="465" cy="82" rx="5.52" ry="12.92" fill="#5A66B2" transform="rotate(-41.6 465 82)"/><ellipse cx="468" cy="85.6" rx="4.88" ry="7.98" fill="#6A80C2" transform="rotate(-41.6 468 85.6)"/><ellipse cx="473" cy="91.6" rx="6.67" ry="8.58" fill="#6D9BD4" transform="rotate(-32 473 91.6)"/><ellipse cx="473" cy="91.6" rx="5.79" ry="7.45" fill="#6CC4EC" transform="rotate(-32 473 91.6)"/><ellipse cx="473" cy="91.6" rx="4.93" ry="6.34" fill="#A2DAD8" transform="rotate(-32 473 91.6)"/><ellipse cx="473" cy="91.6" rx="4.04" ry="5.19" fill="#98D5BE" transform="rotate(-32 473 91.6)"/><ellipse cx="473" cy="91.6" rx="3.04" ry="3.91" fill="#8ACDA0" transform="rotate(-32 473 91.6)"/><ellipse cx="473" cy="91.6" rx="1.71" ry="2.2" fill="#7CC57A" transform="rotate(-32 473 91.6)"/>
<ellipse cx="450.6" cy="90.6" rx="6.5" ry="19" fill="#4A57A8" transform="rotate(-41.6 450.6 90.6)"/><ellipse cx="454.6" cy="95.4" rx="5.52" ry="12.92" fill="#5A66B2" transform="rotate(-41.6 454.6 95.4)"/><ellipse cx="457.6" cy="99" rx="4.88" ry="7.98" fill="#6A80C2" transform="rotate(-41.6 457.6 99)"/><ellipse cx="462.6" cy="105" rx="6.67" ry="8.58" fill="#6D9BD4" transform="rotate(-32 462.6 105)"/>
<ellipse cx="439" cy="103" rx="6.5" ry="19" fill="#4A57A8" transform="rotate(-41.6 439 103)"/><ellipse cx="443" cy="107.8" rx="5.52" ry="12.92" fill="#5A66B2" transform="rotate(-41.6 443 107.8)"/><ellipse cx="451" cy="117.4" rx="6.67" ry="8.58" fill="#6A80C2" transform="rotate(-32 451 117.4)"/>
<ellipse cx="557.7" cy="38.4" rx="6.5" ry="19" fill="#4A57A8" transform="rotate(45.5 557.7 38.4)"/><ellipse cx="554.1" cy="43.2" rx="5.52" ry="12.92" fill="#5A66B2" transform="rotate(45.5 554.1 43.2)"/><ellipse cx="551.4" cy="46.8" rx="4.88" ry="7.98" fill="#6A80C2" transform="rotate(45.5 551.4 46.8)"/><ellipse cx="546.9" cy="52.8" rx="6.67" ry="8.58" fill="#6D9BD4" transform="rotate(35 546.9 52.8)"/><ellipse cx="546.9" cy="52.8" rx="4.94" ry="6.37" fill="#6CC4EC" transform="rotate(35 546.9 52.8)"/><ellipse cx="546.9" cy="52.8" rx="2.75" ry="3.54" fill="#A2DAD8" transform="rotate(35 546.9 52.8)"/>
<ellipse cx="571.1" cy="49.6" rx="6.5" ry="19" fill="#4A57A8" transform="rotate(45.5 571.1 49.6)"/><ellipse cx="567.5" cy="54.4" rx="5.52" ry="12.92" fill="#5A66B2" transform="rotate(45.5 567.5 54.4)"/><ellipse cx="564.8" cy="58" rx="4.88" ry="7.98" fill="#6A80C2" transform="rotate(45.5 564.8 58)"/><ellipse cx="560.3" cy="64" rx="6.67" ry="8.58" fill="#6D9BD4" transform="rotate(35 560.3 64)"/><ellipse cx="560.3" cy="64" rx="5.97" ry="7.68" fill="#6CC4EC" transform="rotate(35 560.3 64)"/><ellipse cx="560.3" cy="64" rx="5.3" ry="6.83" fill="#A2DAD8" transform="rotate(35 560.3 64)"/><ellipse cx="560.3" cy="64" rx="4.65" ry="5.99" fill="#98D5BE" transform="rotate(35 560.3 64)"/><ellipse cx="560.3" cy="64" rx="3.99" ry="5.14" fill="#8ACDA0" transform="rotate(35 560.3 64)"/><ellipse cx="560.3" cy="64" rx="3.29" ry="4.23" fill="#7CC57A" transform="rotate(35 560.3 64)"/><ellipse cx="560.3" cy="64" rx="2.49" ry="3.2" fill="#72C162" transform="rotate(35 560.3 64)"/><ellipse cx="560.3" cy="64" rx="1.41" ry="1.81" fill="#6ABD5A" transform="rotate(35 560.3 64)"/>
<ellipse cx="584.5" cy="61.5" rx="6.5" ry="19" fill="#4A57A8" transform="rotate(45.5 584.5 61.5)"/><ellipse cx="580.9" cy="66.3" rx="5.52" ry="12.92" fill="#5A66B2" transform="rotate(45.5 580.9 66.3)"/><ellipse cx="578.2" cy="69.9" rx="4.88" ry="7.98" fill="#6A80C2" transform="rotate(45.5 578.2 69.9)"/><ellipse cx="573.7" cy="75.9" rx="6.67" ry="8.58" fill="#6D9BD4" transform="rotate(35 573.7 75.9)"/><ellipse cx="573.7" cy="75.9" rx="5.97" ry="7.68" fill="#6CC4EC" transform="rotate(35 573.7 75.9)"/><ellipse cx="573.7" cy="75.9" rx="5.3" ry="6.83" fill="#A2DAD8" transform="rotate(35 573.7 75.9)"/><ellipse cx="573.7" cy="75.9" rx="4.65" ry="5.99" fill="#98D5BE" transform="rotate(35 573.7 75.9)"/><ellipse cx="573.7" cy="75.9" rx="3.99" ry="5.14" fill="#8ACDA0" transform="rotate(35 573.7 75.9)"/><ellipse cx="573.7" cy="75.9" rx="3.29" ry="4.23" fill="#7CC57A" transform="rotate(35 573.7 75.9)"/><ellipse cx="573.7" cy="75.9" rx="2.49" ry="3.2" fill="#72C162" transform="rotate(35 573.7 75.9)"/><ellipse cx="573.7" cy="75.9" rx="1.41" ry="1.81" fill="#6ABD5A" transform="rotate(35 573.7 75.9)"/>
<ellipse cx="596.5" cy="74.9" rx="6.5" ry="19" fill="#4A57A8" transform="rotate(45.5 596.5 74.9)"/><ellipse cx="592.9" cy="79.7" rx="5.52" ry="12.92" fill="#5A66B2" transform="rotate(45.5 592.9 79.7)"/><ellipse cx="590.2" cy="83.3" rx="4.88" ry="7.98" fill="#6A80C2" transform="rotate(45.5 590.2 83.3)"/><ellipse cx="585.7" cy="89.3" rx="6.67" ry="8.58" fill="#6D9BD4" transform="rotate(35 585.7 89.3)"/><ellipse cx="585.7" cy="89.3" rx="5.89" ry="7.58" fill="#6CC4EC" transform="rotate(35 585.7 89.3)"/><ellipse cx="585.7" cy="89.3" rx="5.15" ry="6.62" fill="#A2DAD8" transform="rotate(35 585.7 89.3)"/><ellipse cx="585.7" cy="89.3" rx="4.4" ry="5.66" fill="#98D5BE" transform="rotate(35 585.7 89.3)"/><ellipse cx="585.7" cy="89.3" rx="3.62" ry="4.65" fill="#8ACDA0" transform="rotate(35 585.7 89.3)"/><ellipse cx="585.7" cy="89.3" rx="2.73" ry="3.51" fill="#7CC57A" transform="rotate(35 585.7 89.3)"/><ellipse cx="585.7" cy="89.3" rx="1.54" ry="1.98" fill="#72C162" transform="rotate(35 585.7 89.3)"/>
<ellipse cx="607.7" cy="89.9" rx="6.5" ry="19" fill="#4A57A8" transform="rotate(45.5 607.7 89.9)"/><ellipse cx="604.1" cy="94.7" rx="5.52" ry="12.92" fill="#5A66B2" transform="rotate(45.5 604.1 94.7)"/><ellipse cx="601.4" cy="98.3" rx="4.88" ry="7.98" fill="#6A80C2" transform="rotate(45.5 601.4 98.3)"/><ellipse cx="596.9" cy="104.3" rx="6.67" ry="8.58" fill="#6D9BD4" transform="rotate(35 596.9 104.3)"/>
<ellipse cx="618" cy="101" rx="6.5" ry="19" fill="#4A57A8" transform="rotate(45.5 618 101)"/><ellipse cx="614.4" cy="105.8" rx="5.52" ry="12.92" fill="#5A66B2" transform="rotate(45.5 614.4 105.8)"/><ellipse cx="607.2" cy="115.4" rx="6.67" ry="8.58" fill="#6A80C2" transform="rotate(35 607.2 115.4)"/>
<ellipse cx="614.5" cy="163.5" rx="5.5" ry="14" fill="#4A57A8" transform="rotate(-54.6 614.5 163.5)"/><ellipse cx="611.1" cy="160.1" rx="4.67" ry="9.52" fill="#5A66B2" transform="rotate(-54.6 611.1 160.1)"/><ellipse cx="604.3" cy="153.3" rx="6.67" ry="8.58" fill="#6A80C2" transform="rotate(-42 604.3 153.3)"/>
<ellipse cx="603.7" cy="175.2" rx="5.5" ry="14" fill="#4A57A8" transform="rotate(-54.6 603.7 175.2)"/><ellipse cx="600.3" cy="171.8" rx="4.67" ry="9.52" fill="#5A66B2" transform="rotate(-54.6 600.3 171.8)"/><ellipse cx="597.75" cy="169.25" rx="4.12" ry="5.88" fill="#6A80C2" transform="rotate(-54.6 597.75 169.25)"/><ellipse cx="593.5" cy="165" rx="6.67" ry="8.58" fill="#6D9BD4" transform="rotate(-42 593.5 165)"/><ellipse cx="593.5" cy="165" rx="3.68" ry="4.74" fill="#6CC4EC" transform="rotate(-42 593.5 165)"/>
<ellipse cx="592.1" cy="187.8" rx="5.5" ry="14" fill="#4A57A8" transform="rotate(-54.6 592.1 187.8)"/><ellipse cx="588.7" cy="184.4" rx="4.67" ry="9.52" fill="#5A66B2" transform="rotate(-54.6 588.7 184.4)"/><ellipse cx="586.15" cy="181.85" rx="4.12" ry="5.88" fill="#6A80C2" transform="rotate(-54.6 586.15 181.85)"/><ellipse cx="581.9" cy="177.6" rx="6.67" ry="8.58" fill="#6D9BD4" transform="rotate(-42 581.9 177.6)"/><ellipse cx="581.9" cy="177.6" rx="5.97" ry="7.68" fill="#6CC4EC" transform="rotate(-42 581.9 177.6)"/><ellipse cx="581.9" cy="177.6" rx="5.3" ry="6.83" fill="#A2DAD8" transform="rotate(-42 581.9 177.6)"/><ellipse cx="581.9" cy="177.6" rx="4.65" ry="5.99" fill="#98D5BE" transform="rotate(-42 581.9 177.6)"/><ellipse cx="581.9" cy="177.6" rx="3.99" ry="5.14" fill="#8ACDA0" transform="rotate(-42 581.9 177.6)"/><ellipse cx="581.9" cy="177.6" rx="3.29" ry="4.23" fill="#7CC57A" transform="rotate(-42 581.9 177.6)"/><ellipse cx="581.9" cy="177.6" rx="2.49" ry="3.2" fill="#72C162" transform="rotate(-42 581.9 177.6)"/><ellipse cx="581.9" cy="177.6" rx="1.41" ry="1.81" fill="#6ABD5A" transform="rotate(-42 581.9 177.6)"/>
<ellipse cx="580.4" cy="200.3" rx="5.5" ry="14" fill="#4A57A8" transform="rotate(-54.6 580.4 200.3)"/><ellipse cx="577" cy="196.9" rx="4.67" ry="9.52" fill="#5A66B2" transform="rotate(-54.6 577 196.9)"/><ellipse cx="574.45" cy="194.35" rx="4.12" ry="5.88" fill="#6A80C2" transform="rotate(-54.6 574.45 194.35)"/><ellipse cx="570.2" cy="190.1" rx="6.67" ry="8.58" fill="#6D9BD4" transform="rotate(-42 570.2 190.1)"/><ellipse cx="570.2" cy="190.1" rx="5.97" ry="7.68" fill="#6CC4EC" transform="rotate(-42 570.2 190.1)"/><ellipse cx="570.2" cy="190.1" rx="5.3" ry="6.83" fill="#A2DAD8" transform="rotate(-42 570.2 190.1)"/><ellipse cx="570.2" cy="190.1" rx="4.65" ry="5.99" fill="#98D5BE" transform="rotate(-42 570.2 190.1)"/><ellipse cx="570.2" cy="190.1" rx="3.99" ry="5.14" fill="#8ACDA0" transform="rotate(-42 570.2 190.1)"/><ellipse cx="570.2" cy="190.1" rx="3.29" ry="4.23" fill="#7CC57A" transform="rotate(-42 570.2 190.1)"/><ellipse cx="570.2" cy="190.1" rx="2.49" ry="3.2" fill="#72C162" transform="rotate(-42 570.2 190.1)"/><ellipse cx="570.2" cy="190.1" rx="1.41" ry="1.81" fill="#6ABD5A" transform="rotate(-42 570.2 190.1)"/>
<ellipse cx="567.9" cy="213.7" rx="5.5" ry="14" fill="#4A57A8" transform="rotate(-54.6 567.9 213.7)"/><ellipse cx="564.5" cy="210.3" rx="4.67" ry="9.52" fill="#5A66B2" transform="rotate(-54.6 564.5 210.3)"/><ellipse cx="561.95" cy="207.75" rx="4.12" ry="5.88" fill="#6A80C2" transform="rotate(-54.6 561.95 207.75)"/><ellipse cx="557.7" cy="203.5" rx="6.67" ry="8.58" fill="#6D9BD4" transform="rotate(-42 557.7 203.5)"/><ellipse cx="557.7" cy="203.5" rx="5.97" ry="7.68" fill="#6CC4EC" transform="rotate(-42 557.7 203.5)"/><ellipse cx="557.7" cy="203.5" rx="5.3" ry="6.83" fill="#A2DAD8" transform="rotate(-42 557.7 203.5)"/><ellipse cx="557.7" cy="203.5" rx="4.65" ry="5.99" fill="#98D5BE" transform="rotate(-42 557.7 203.5)"/><ellipse cx="557.7" cy="203.5" rx="3.99" ry="5.14" fill="#8ACDA0" transform="rotate(-42 557.7 203.5)"/><ellipse cx="557.7" cy="203.5" rx="3.29" ry="4.23" fill="#7CC57A" transform="rotate(-42 557.7 203.5)"/><ellipse cx="557.7" cy="203.5" rx="2.49" ry="3.2" fill="#72C162" transform="rotate(-42 557.7 203.5)"/><ellipse cx="557.7" cy="203.5" rx="1.41" ry="1.81" fill="#6ABD5A" transform="rotate(-42 557.7 203.5)"/>
<ellipse cx="555.4" cy="224.5" rx="5.5" ry="14" fill="#4A57A8" transform="rotate(-54.6 555.4 224.5)"/><ellipse cx="552" cy="221.1" rx="4.67" ry="9.52" fill="#5A66B2" transform="rotate(-54.6 552 221.1)"/><ellipse cx="549.45" cy="218.55" rx="4.12" ry="5.88" fill="#6A80C2" transform="rotate(-54.6 549.45 218.55)"/><ellipse cx="545.2" cy="214.3" rx="6.67" ry="8.58" fill="#6D9BD4" transform="rotate(-42 545.2 214.3)"/>
</g>
<g filter="url(#b1)">
<g fill="#3842a6"><circle cx="523.8" cy="48.74" r="5.6"/><circle cx="535.27" cy="48.74" r="5.6"/><circle cx="518.07" cy="54.67" r="5.6"/><circle cx="529.53" cy="54.67" r="5.6"/><circle cx="541" cy="54.67" r="5.6"/><circle cx="512.33" cy="60.6" r="5.6"/><circle cx="523.8" cy="60.6" r="5.6"/><circle cx="535.27" cy="60.6" r="5.6"/><circle cx="546.73" cy="60.6" r="5.6"/><circle cx="506.6" cy="66.53" r="5.6"/><circle cx="518.07" cy="66.53" r="5.6"/><circle cx="529.53" cy="66.53" r="5.6"/><circle cx="541" cy="66.53" r="5.6"/><circle cx="552.46" cy="66.53" r="5.6"/><circle cx="500.87" cy="72.46" r="5.6"/><circle cx="512.33" cy="72.46" r="5.6"/><circle cx="523.8" cy="72.46" r="5.6"/><circle cx="535.27" cy="72.46" r="5.6"/><circle cx="546.73" cy="72.46" r="5.6"/><circle cx="558.2" cy="72.46" r="5.6"/><circle cx="495.13" cy="78.39" r="5.6"/><circle cx="506.6" cy="78.39" r="5.6"/><circle cx="518.07" cy="78.39" r="5.6"/><circle cx="529.53" cy="78.39" r="5.6"/><circle cx="541" cy="78.39" r="5.6"/><circle cx="552.46" cy="78.39" r="5.6"/><circle cx="563.93" cy="78.39" r="5.6"/><circle cx="489.4" cy="84.32" r="5.6"/><circle cx="500.87" cy="84.32" r="5.6"/><circle cx="512.33" cy="84.32" r="5.6"/><circle cx="523.8" cy="84.32" r="5.6"/><circle cx="535.27" cy="84.32" r="5.6"/><circle cx="546.73" cy="84.32" r="5.6"/><circle cx="558.2" cy="84.32" r="5.6"/><circle cx="569.66" cy="84.32" r="5.6"/><circle cx="483.67" cy="90.25" r="5.6"/><circle cx="495.13" cy="90.25" r="5.6"/><circle cx="506.6" cy="90.25" r="5.6"/><circle cx="518.07" cy="90.25" r="5.6"/><circle cx="529.53" cy="90.25" r="5.6"/><circle cx="541" cy="90.25" r="5.6"/><circle cx="552.46" cy="90.25" r="5.6"/><circle cx="563.93" cy="90.25" r="5.6"/><circle cx="575.4" cy="90.25" r="5.6"/><circle cx="477.94" cy="96.18" r="5.6"/><circle cx="489.4" cy="96.18" r="5.6"/><circle cx="500.87" cy="96.18" r="5.6"/><circle cx="512.33" cy="96.18" r="5.6"/><circle cx="523.8" cy="96.18" r="5.6"/><circle cx="535.27" cy="96.18" r="5.6"/><circle cx="546.73" cy="96.18" r="5.6"/><circle cx="558.2" cy="96.18" r="5.6"/><circle cx="569.66" cy="96.18" r="5.6"/><circle cx="581.13" cy="96.18" r="5.6"/><circle cx="472.2" cy="102.11" r="5.6"/><circle cx="483.67" cy="102.11" r="5.6"/><circle cx="495.13" cy="102.11" r="5.6"/><circle cx="506.6" cy="102.11" r="5.6"/><circle cx="518.07" cy="102.11" r="5.6"/><circle cx="529.53" cy="102.11" r="5.6"/><circle cx="541" cy="102.11" r="5.6"/><circle cx="552.46" cy="102.11" r="5.6"/><circle cx="563.93" cy="102.11" r="5.6"/><circle cx="575.4" cy="102.11" r="5.6"/><circle cx="586.86" cy="102.11" r="5.6"/><circle cx="466.47" cy="108.04" r="5.6"/><circle cx="477.94" cy="108.04" r="5.6"/><circle cx="489.4" cy="108.04" r="5.6"/><circle cx="500.87" cy="108.04" r="5.6"/><circle cx="512.33" cy="108.04" r="5.6"/><circle cx="523.8" cy="108.04" r="5.6"/><circle cx="535.27" cy="108.04" r="5.6"/><circle cx="546.73" cy="108.04" r="5.6"/><circle cx="558.2" cy="108.04" r="5.6"/><circle cx="569.66" cy="108.04" r="5.6"/><circle cx="581.13" cy="108.04" r="5.6"/><circle cx="592.6" cy="108.04" r="5.6"/><circle cx="460.74" cy="113.97" r="5.6"/><circle cx="472.2" cy="113.97" r="5.6"/><circle cx="483.67" cy="113.97" r="5.6"/><circle cx="495.13" cy="113.97" r="5.6"/><circle cx="506.6" cy="113.97" r="5.6"/><circle cx="518.07" cy="113.97" r="5.6"/><circle cx="529.53" cy="113.97" r="5.6"/><circle cx="541" cy="113.97" r="5.6"/><circle cx="552.46" cy="113.97" r="5.6"/><circle cx="563.93" cy="113.97" r="5.6"/><circle cx="575.4" cy="113.97" r="5.6"/><circle cx="586.86" cy="113.97" r="5.6"/><circle cx="598.33" cy="113.97" r="5.6"/><circle cx="455" cy="119.9" r="5.6"/><circle cx="466.47" cy="119.9" r="5.6"/><circle cx="477.94" cy="119.9" r="5.6"/><circle cx="489.4" cy="119.9" r="5.6"/><circle cx="500.87" cy="119.9" r="5.6"/><circle cx="512.33" cy="119.9" r="5.6"/><circle cx="523.8" cy="119.9" r="5.6"/><circle cx="535.27" cy="119.9" r="5.6"/><circle cx="546.73" cy="119.9" r="5.6"/><circle cx="558.2" cy="119.9" r="5.6"/><circle cx="569.66" cy="119.9" r="5.6"/><circle cx="581.13" cy="119.9" r="5.6"/><circle cx="592.6" cy="119.9" r="5.6"/><circle cx="604.06" cy="119.9" r="5.6"/><circle cx="449.27" cy="125.83" r="5.6"/><circle cx="460.74" cy="125.83" r="5.6"/><circle cx="472.2" cy="125.83" r="5.6"/><circle cx="483.67" cy="125.83" r="5.6"/><circle cx="495.13" cy="125.83" r="5.6"/><circle cx="506.6" cy="125.83" r="5.6"/><circle cx="518.07" cy="125.83" r="5.6"/><circle cx="529.53" cy="125.83" r="5.6"/><circle cx="541" cy="125.83" r="5.6"/><circle cx="552.46" cy="125.83" r="5.6"/><circle cx="563.93" cy="125.83" r="5.6"/><circle cx="575.4" cy="125.83" r="5.6"/><circle cx="586.86" cy="125.83" r="5.6"/><circle cx="598.33" cy="125.83" r="5.6"/><circle cx="609.79" cy="125.83" r="5.6"/><circle cx="443.54" cy="131.76" r="5.6"/><circle cx="455" cy="131.76" r="5.6"/><circle cx="466.47" cy="131.76" r="5.6"/><circle cx="477.94" cy="131.76" r="5.6"/><circle cx="489.4" cy="131.76" r="5.6"/><circle cx="500.87" cy="131.76" r="5.6"/><circle cx="512.33" cy="131.76" r="5.6"/><circle cx="523.8" cy="131.76" r="5.6"/><circle cx="535.27" cy="131.76" r="5.6"/><circle cx="546.73" cy="131.76" r="5.6"/><circle cx="558.2" cy="131.76" r="5.6"/><circle cx="569.66" cy="131.76" r="5.6"/><circle cx="581.13" cy="131.76" r="5.6"/><circle cx="592.6" cy="131.76" r="5.6"/><circle cx="604.06" cy="131.76" r="5.6"/><circle cx="437.8" cy="137.69" r="5.6"/><circle cx="449.27" cy="137.69" r="5.6"/><circle cx="460.74" cy="137.69" r="5.6"/><circle cx="472.2" cy="137.69" r="5.6"/><circle cx="483.67" cy="137.69" r="5.6"/><circle cx="495.13" cy="137.69" r="5.6"/><circle cx="506.6" cy="137.69" r="5.6"/><circle cx="518.07" cy="137.69" r="5.6"/><circle cx="529.53" cy="137.69" r="5.6"/><circle cx="541" cy="137.69" r="5.6"/><circle cx="552.46" cy="137.69" r="5.6"/><circle cx="563.93" cy="137.69" r="5.6"/><circle cx="575.4" cy="137.69" r="5.6"/><circle cx="586.86" cy="137.69" r="5.6"/><circle cx="598.33" cy="137.69" r="5.6"/><circle cx="609.79" cy="137.69" r="5.6"/><circle cx="432.07" cy="143.62" r="5.6"/><circle cx="443.54" cy="143.62" r="5.6"/><circle cx="455" cy="143.62" r="5.6"/><circle cx="466.47" cy="143.62" r="5.6"/><circle cx="477.94" cy="143.62" r="5.6"/><circle cx="489.4" cy="143.62" r="5.6"/><circle cx="500.87" cy="143.62" r="5.6"/><circle cx="512.33" cy="143.62" r="5.6"/><circle cx="523.8" cy="143.62" r="5.6"/><circle cx="535.27" cy="143.62" r="5.6"/><circle cx="546.73" cy="143.62" r="5.6"/><circle cx="558.2" cy="143.62" r="5.6"/><circle cx="569.66" cy="143.62" r="5.6"/><circle cx="581.13" cy="143.62" r="5.6"/><circle cx="592.6" cy="143.62" r="5.6"/><circle cx="604.06" cy="143.62" r="5.6"/><circle cx="426.34" cy="149.55" r="5.6"/><circle cx="437.8" cy="149.55" r="5.6"/><circle cx="449.27" cy="149.55" r="5.6"/><circle cx="460.74" cy="149.55" r="5.6"/><circle cx="472.2" cy="149.55" r="5.6"/><circle cx="483.67" cy="149.55" r="5.6"/><circle cx="495.13" cy="149.55" r="5.6"/><circle cx="506.6" cy="149.55" r="5.6"/><circle cx="518.07" cy="149.55" r="5.6"/><circle cx="529.53" cy="149.55" r="5.6"/><circle cx="541" cy="149.55" r="5.6"/><circle cx="552.46" cy="149.55" r="5.6"/><circle cx="563.93" cy="149.55" r="5.6"/><circle cx="575.4" cy="149.55" r="5.6"/><circle cx="586.86" cy="149.55" r="5.6"/><circle cx="598.33" cy="149.55" r="5.6"/><circle cx="420.61" cy="155.48" r="5.6"/><circle cx="432.07" cy="155.48" r="5.6"/><circle cx="443.54" cy="155.48" r="5.6"/><circle cx="455" cy="155.48" r="5.6"/><circle cx="466.47" cy="155.48" r="5.6"/><circle cx="477.94" cy="155.48" r="5.6"/><circle cx="489.4" cy="155.48" r="5.6"/><circle cx="500.87" cy="155.48" r="5.6"/><circle cx="512.33" cy="155.48" r="5.6"/><circle cx="523.8" cy="155.48" r="5.6"/><circle cx="535.27" cy="155.48" r="5.6"/><circle cx="546.73" cy="155.48" r="5.6"/><circle cx="558.2" cy="155.48" r="5.6"/><circle cx="569.66" cy="155.48" r="5.6"/><circle cx="581.13" cy="155.48" r="5.6"/><circle cx="592.6" cy="155.48" r="5.6"/><circle cx="426.34" cy="161.41" r="5.6"/><circle cx="437.8" cy="161.41" r="5.6"/><circle cx="449.27" cy="161.41" r="5.6"/><circle cx="460.74" cy="161.41" r="5.6"/><circle cx="472.2" cy="161.41" r="5.6"/><circle cx="483.67" cy="161.41" r="5.6"/><circle cx="495.13" cy="161.41" r="5.6"/><circle cx="506.6" cy="161.41" r="5.6"/><circle cx="518.07" cy="161.41" r="5.6"/><circle cx="529.53" cy="161.41" r="5.6"/><circle cx="541" cy="161.41" r="5.6"/><circle cx="552.46" cy="161.41" r="5.6"/><circle cx="563.93" cy="161.41" r="5.6"/><circle cx="575.4" cy="161.41" r="5.6"/><circle cx="586.86" cy="161.41" r="5.6"/><circle cx="420.61" cy="167.34" r="5.6"/><circle cx="432.07" cy="167.34" r="5.6"/><circle cx="443.54" cy="167.34" r="5.6"/><circle cx="455" cy="167.34" r="5.6"/><circle cx="466.47" cy="167.34" r="5.6"/><circle cx="477.94" cy="167.34" r="5.6"/><circle cx="489.4" cy="167.34" r="5.6"/><circle cx="500.87" cy="167.34" r="5.6"/><circle cx="512.33" cy="167.34" r="5.6"/><circle cx="523.8" cy="167.34" r="5.6"/><circle cx="535.27" cy="167.34" r="5.6"/><circle cx="546.73" cy="167.34" r="5.6"/><circle cx="558.2" cy="167.34" r="5.6"/><circle cx="569.66" cy="167.34" r="5.6"/><circle cx="581.13" cy="167.34" r="5.6"/><circle cx="426.34" cy="173.27" r="5.6"/><circle cx="437.8" cy="173.27" r="5.6"/><circle cx="449.27" cy="173.27" r="5.6"/><circle cx="460.74" cy="173.27" r="5.6"/><circle cx="472.2" cy="173.27" r="5.6"/><circle cx="483.67" cy="173.27" r="5.6"/><circle cx="495.13" cy="173.27" r="5.6"/><circle cx="506.6" cy="173.27" r="5.6"/><circle cx="518.07" cy="173.27" r="5.6"/><circle cx="529.53" cy="173.27" r="5.6"/><circle cx="541" cy="173.27" r="5.6"/><circle cx="552.46" cy="173.27" r="5.6"/><circle cx="563.93" cy="173.27" r="5.6"/><circle cx="575.4" cy="173.27" r="5.6"/><circle cx="420.61" cy="179.2" r="5.6"/><circle cx="432.07" cy="179.2" r="5.6"/><circle cx="443.54" cy="179.2" r="5.6"/><circle cx="455" cy="179.2" r="5.6"/><circle cx="466.47" cy="179.2" r="5.6"/><circle cx="477.94" cy="179.2" r="5.6"/><circle cx="489.4" cy="179.2" r="5.6"/><circle cx="500.87" cy="179.2" r="5.6"/><circle cx="512.33" cy="179.2" r="5.6"/><circle cx="523.8" cy="179.2" r="5.6"/><circle cx="535.27" cy="179.2" r="5.6"/><circle cx="546.73" cy="179.2" r="5.6"/><circle cx="558.2" cy="179.2" r="5.6"/><circle cx="569.66" cy="179.2" r="5.6"/><circle cx="426.34" cy="185.13" r="5.6"/><circle cx="437.8" cy="185.13" r="5.6"/><circle cx="449.27" cy="185.13" r="5.6"/><circle cx="460.74" cy="185.13" r="5.6"/><circle cx="472.2" cy="185.13" r="5.6"/><circle cx="483.67" cy="185.13" r="5.6"/><circle cx="495.13" cy="185.13" r="5.6"/><circle cx="506.6" cy="185.13" r="5.6"/><circle cx="518.07" cy="185.13" r="5.6"/><circle cx="529.53" cy="185.13" r="5.6"/><circle cx="541" cy="185.13" r="5.6"/><circle cx="552.46" cy="185.13" r="5.6"/><circle cx="563.93" cy="185.13" r="5.6"/><circle cx="420.61" cy="191.06" r="5.6"/><circle cx="432.07" cy="191.06" r="5.6"/><circle cx="443.54" cy="191.06" r="5.6"/><circle cx="455" cy="191.06" r="5.6"/><circle cx="466.47" cy="191.06" r="5.6"/><circle cx="477.94" cy="191.06" r="5.6"/><circle cx="489.4" cy="191.06" r="5.6"/><circle cx="500.87" cy="191.06" r="5.6"/><circle cx="512.33" cy="191.06" r="5.6"/><circle cx="523.8" cy="191.06" r="5.6"/><circle cx="535.27" cy="191.06" r="5.6"/><circle cx="546.73" cy="191.06" r="5.6"/><circle cx="558.2" cy="191.06" r="5.6"/><circle cx="426.34" cy="196.99" r="5.6"/><circle cx="437.8" cy="196.99" r="5.6"/><circle cx="449.27" cy="196.99" r="5.6"/><circle cx="460.74" cy="196.99" r="5.6"/><circle cx="472.2" cy="196.99" r="5.6"/><circle cx="483.67" cy="196.99" r="5.6"/><circle cx="495.13" cy="196.99" r="5.6"/><circle cx="506.6" cy="196.99" r="5.6"/><circle cx="518.07" cy="196.99" r="5.6"/><circle cx="529.53" cy="196.99" r="5.6"/><circle cx="541" cy="196.99" r="5.6"/><circle cx="552.46" cy="196.99" r="5.6"/><circle cx="420.61" cy="202.92" r="5.6"/><circle cx="432.07" cy="202.92" r="5.6"/><circle cx="443.54" cy="202.92" r="5.6"/><circle cx="455" cy="202.92" r="5.6"/><circle cx="466.47" cy="202.92" r="5.6"/><circle cx="477.94" cy="202.92" r="5.6"/><circle cx="489.4" cy="202.92" r="5.6"/><circle cx="500.87" cy="202.92" r="5.6"/><circle cx="512.33" cy="202.92" r="5.6"/><circle cx="523.8" cy="202.92" r="5.6"/><circle cx="535.27" cy="202.92" r="5.6"/><circle cx="546.73" cy="202.92" r="5.6"/><circle cx="426.34" cy="208.85" r="5.6"/><circle cx="437.8" cy="208.85" r="5.6"/><circle cx="449.27" cy="208.85" r="5.6"/><circle cx="460.74" cy="208.85" r="5.6"/><circle cx="472.2" cy="208.85" r="5.6"/><circle cx="483.67" cy="208.85" r="5.6"/><circle cx="495.13" cy="208.85" r="5.6"/><circle cx="506.6" cy="208.85" r="5.6"/><circle cx="518.07" cy="208.85" r="5.6"/><circle cx="529.53" cy="208.85" r="5.6"/><circle cx="541" cy="208.85" r="5.6"/><circle cx="420.61" cy="214.78" r="5.6"/><circle cx="432.07" cy="214.78" r="5.6"/><circle cx="443.54" cy="214.78" r="5.6"/><circle cx="455" cy="214.78" r="5.6"/><circle cx="466.47" cy="214.78" r="5.6"/><circle cx="477.94" cy="214.78" r="5.6"/><circle cx="489.4" cy="214.78" r="5.6"/><circle cx="500.87" cy="214.78" r="5.6"/><circle cx="512.33" cy="214.78" r="5.6"/><circle cx="523.8" cy="214.78" r="5.6"/><circle cx="535.27" cy="214.78" r="5.6"/><circle cx="426.34" cy="220.71" r="5.6"/><circle cx="437.8" cy="220.71" r="5.6"/><circle cx="449.27" cy="220.71" r="5.6"/><circle cx="460.74" cy="220.71" r="5.6"/><circle cx="472.2" cy="220.71" r="5.6"/><circle cx="483.67" cy="220.71" r="5.6"/><circle cx="495.13" cy="220.71" r="5.6"/><circle cx="506.6" cy="220.71" r="5.6"/><circle cx="518.07" cy="220.71" r="5.6"/><circle cx="529.53" cy="220.71" r="5.6"/></g><g fill="#0b0d26"><circle cx="529.18" cy="37.03" r="1.44"/><circle cx="523.67" cy="42.37" r="1.7"/><circle cx="529.53" cy="42.81" r="3.2"/><circle cx="534.86" cy="42.73" r="1.9"/><circle cx="517.79" cy="48.87" r="1.97"/><circle cx="540.68" cy="48.82" r="1.78"/><circle cx="512.38" cy="54.23" r="1.44"/><circle cx="546.99" cy="54.32" r="1.69"/><circle cx="506.77" cy="60.86" r="1.74"/><circle cx="552.88" cy="60.6" r="1.5"/><circle cx="500.65" cy="66.17" r="1.66"/><circle cx="557.89" cy="67.01" r="1.66"/><circle cx="495.24" cy="72.06" r="1.74"/><circle cx="563.93" cy="72.6" r="1.77"/><circle cx="489.66" cy="78.09" r="1.54"/><circle cx="569.91" cy="77.97" r="1.5"/><circle cx="575.67" cy="84.7" r="1.43"/><circle cx="477.48" cy="89.85" r="1.67"/><circle cx="580.97" cy="90.21" r="1.82"/><circle cx="472.22" cy="95.98" r="1.98"/><circle cx="466.19" cy="101.84" r="1.52"/><circle cx="592.14" cy="102.25" r="1.98"/><circle cx="460.69" cy="107.59" r="1.41"/><circle cx="598.17" cy="107.94" r="1.96"/><circle cx="454.52" cy="114.21" r="1.55"/><circle cx="604.41" cy="113.56" r="1.94"/><circle cx="449.42" cy="119.83" r="1.59"/><circle cx="443.09" cy="125.39" r="1.64"/><circle cx="616.01" cy="126.21" r="1.99"/><circle cx="437.39" cy="131.36" r="1.7"/><circle cx="615.53" cy="131.76" r="3.2"/><circle cx="620.92" cy="131.27" r="1.73"/><circle cx="432.48" cy="137.28" r="1.77"/><circle cx="615.38" cy="137.95" r="1.5"/><circle cx="426.11" cy="143.94" r="1.49"/><circle cx="609.3" cy="143.18" r="1.42"/><circle cx="420.27" cy="149.96" r="1.46"/><circle cx="415.13" cy="155.89" r="1.86"/><circle cx="598.49" cy="155.18" r="1.49"/><circle cx="414.87" cy="161.41" r="3.2"/><circle cx="592.66" cy="161.14" r="1.98"/><circle cx="415.01" cy="167.66" r="1.89"/><circle cx="586.84" cy="167.37" r="1.86"/><circle cx="414.87" cy="173.27" r="3.2"/><circle cx="581.08" cy="173.51" r="1.95"/><circle cx="415.12" cy="179.39" r="1.49"/><circle cx="575.69" cy="179.16" r="1.45"/><circle cx="414.87" cy="185.13" r="3.2"/><circle cx="569.54" cy="185.07" r="1.88"/><circle cx="564.26" cy="191.09" r="1.51"/><circle cx="414.87" cy="196.99" r="3.2"/><circle cx="558.16" cy="196.89" r="1.97"/><circle cx="415.01" cy="203.11" r="1.76"/><circle cx="552.51" cy="203.03" r="1.68"/><circle cx="414.87" cy="208.85" r="3.2"/><circle cx="546.42" cy="208.65" r="1.49"/><circle cx="414.95" cy="214.37" r="1.95"/><circle cx="541.17" cy="214.48" r="1.7"/><circle cx="414.87" cy="220.71" r="3.2"/><circle cx="534.79" cy="221.08" r="1.45"/><circle cx="414.75" cy="226.15" r="1.93"/><circle cx="420.61" cy="226.64" r="3.2"/><circle cx="426.71" cy="226.48" r="1.79"/><circle cx="432.07" cy="226.64" r="3.2"/><circle cx="443.54" cy="226.64" r="3.2"/><circle cx="449.12" cy="226.58" r="1.57"/><circle cx="455" cy="226.64" r="3.2"/><circle cx="460.37" cy="226.34" r="1.73"/><circle cx="466.47" cy="226.64" r="3.2"/><circle cx="472.5" cy="226.38" r="1.62"/><circle cx="477.94" cy="226.64" r="3.2"/><circle cx="483.75" cy="226.44" r="1.69"/><circle cx="489.4" cy="226.64" r="3.2"/><circle cx="495.58" cy="227.14" r="1.76"/><circle cx="500.87" cy="226.64" r="3.2"/><circle cx="506.51" cy="226.65" r="1.48"/><circle cx="512.33" cy="226.64" r="3.2"/><circle cx="518.42" cy="226.88" r="1.86"/><circle cx="523.8" cy="226.64" r="3.2"/><circle cx="529.05" cy="226.85" r="1.82"/><circle cx="523.8" cy="48.74" r="3.6"/><circle cx="535.27" cy="48.74" r="3.6"/><circle cx="518.07" cy="54.67" r="3.6"/><circle cx="523.71" cy="54.27" r="1.86"/><circle cx="529.53" cy="54.67" r="3.6"/><circle cx="541" cy="54.67" r="3.6"/><circle cx="512.33" cy="60.6" r="3.6"/><circle cx="517.77" cy="60.59" r="1.86"/><circle cx="523.8" cy="60.6" r="3.6"/><circle cx="530" cy="60.22" r="1.7"/><circle cx="535.27" cy="60.6" r="3.6"/><circle cx="541.88" cy="60.31" r="1.73"/><circle cx="546.73" cy="60.6" r="3.6"/><circle cx="506.6" cy="66.53" r="3.6"/><circle cx="511.8" cy="65.7" r="1.41"/><circle cx="518.07" cy="66.53" r="3.6"/><circle cx="523.09" cy="66.6" r="1.73"/><circle cx="529.53" cy="66.53" r="3.6"/><circle cx="541" cy="66.53" r="3.6"/><circle cx="552.46" cy="66.53" r="3.6"/><circle cx="500.87" cy="72.46" r="3.6"/><circle cx="506.35" cy="72.73" r="1.97"/><circle cx="512.33" cy="72.46" r="3.6"/><circle cx="523.8" cy="72.46" r="3.6"/><circle cx="535.27" cy="72.46" r="3.6"/><circle cx="546.73" cy="72.46" r="3.6"/><circle cx="552.75" cy="71.64" r="1.89"/><circle cx="558.2" cy="72.46" r="3.6"/><circle cx="495.13" cy="78.39" r="3.6"/><circle cx="506.6" cy="78.39" r="3.6"/><circle cx="511.72" cy="78.6" r="1.54"/><circle cx="518.07" cy="78.39" r="3.6"/><circle cx="529.53" cy="78.39" r="3.6"/><circle cx="535.51" cy="79.19" r="1.89"/><circle cx="541" cy="78.39" r="3.6"/><circle cx="552.46" cy="78.39" r="3.6"/><circle cx="557.56" cy="78.97" r="1.53"/><circle cx="563.93" cy="78.39" r="3.6"/><circle cx="489.4" cy="84.32" r="3.6"/><circle cx="500.87" cy="84.32" r="3.6"/><circle cx="505.64" cy="84.92" r="1.81"/><circle cx="512.33" cy="84.32" r="3.6"/><circle cx="518.81" cy="83.38" r="1.45"/><circle cx="523.8" cy="84.32" r="3.6"/><circle cx="535.27" cy="84.32" r="3.6"/><circle cx="546.73" cy="84.32" r="3.6"/><circle cx="552.49" cy="85.07" r="1.84"/><circle cx="558.2" cy="84.32" r="3.6"/><circle cx="569.66" cy="84.32" r="3.6"/><circle cx="483.67" cy="90.25" r="3.6"/><circle cx="495.13" cy="90.25" r="3.6"/><circle cx="506.6" cy="90.25" r="3.6"/><circle cx="518.07" cy="90.25" r="3.6"/><circle cx="529.53" cy="90.25" r="3.6"/><circle cx="534.41" cy="90.59" r="1.85"/><circle cx="541" cy="90.25" r="3.6"/><circle cx="552.46" cy="90.25" r="3.6"/><circle cx="558.69" cy="89.44" r="1.92"/><circle cx="563.93" cy="90.25" r="3.6"/><circle cx="575.4" cy="90.25" r="3.6"/><circle cx="477.94" cy="96.18" r="3.6"/><circle cx="483.21" cy="96.99" r="1.43"/><circle cx="489.4" cy="96.18" r="3.6"/><circle cx="500.87" cy="96.18" r="3.6"/><circle cx="506.16" cy="96.78" r="1.43"/><circle cx="512.33" cy="96.18" r="3.6"/><circle cx="523.8" cy="96.18" r="3.6"/><circle cx="530.26" cy="96.09" r="1.54"/><circle cx="535.27" cy="96.18" r="3.6"/><circle cx="540.48" cy="95.4" r="1.41"/><circle cx="546.73" cy="96.18" r="3.6"/><circle cx="558.2" cy="96.18" r="3.6"/><circle cx="563.43" cy="95.21" r="1.81"/><circle cx="569.66" cy="96.18" r="3.6"/><circle cx="576.03" cy="96.04" r="1.65"/><circle cx="581.13" cy="96.18" r="3.6"/><circle cx="472.2" cy="102.11" r="3.6"/><circle cx="477.63" cy="101.22" r="1.39"/><circle cx="483.67" cy="102.11" r="3.6"/><circle cx="490.08" cy="102.85" r="1.77"/><circle cx="495.13" cy="102.11" r="3.6"/><circle cx="500.76" cy="101.64" r="1.97"/><circle cx="506.6" cy="102.11" r="3.6"/><circle cx="511.4" cy="102.87" r="1.45"/><circle cx="518.07" cy="102.11" r="3.6"/><circle cx="529.53" cy="102.11" r="3.6"/><circle cx="535.44" cy="101.9" r="1.51"/><circle cx="541" cy="102.11" r="3.6"/><circle cx="547.52" cy="102.68" r="1.72"/><circle cx="552.46" cy="102.11" r="3.6"/><circle cx="563.93" cy="102.11" r="3.6"/><circle cx="570.07" cy="102.12" r="1.94"/><circle cx="575.4" cy="102.11" r="3.6"/><circle cx="586.86" cy="102.11" r="3.6"/><circle cx="466.47" cy="108.04" r="3.6"/><circle cx="471.21" cy="108.64" r="1.82"/><circle cx="477.94" cy="108.04" r="3.6"/><circle cx="483.72" cy="108.53" r="1.63"/><circle cx="489.4" cy="108.04" r="3.6"/><circle cx="495.65" cy="107.5" r="1.75"/><circle cx="500.87" cy="108.04" r="3.6"/><circle cx="505.69" cy="108.31" r="1.44"/><circle cx="512.33" cy="108.04" r="3.6"/><circle cx="523.8" cy="108.04" r="3.6"/><circle cx="528.97" cy="108.02" r="1.8"/><circle cx="535.27" cy="108.04" r="3.6"/><circle cx="540.62" cy="107.21" r="1.63"/><circle cx="546.73" cy="108.04" r="3.6"/><circle cx="558.2" cy="108.04" r="3.6"/><circle cx="564.43" cy="107.56" r="1.55"/><circle cx="569.66" cy="108.04" r="3.6"/><circle cx="575.39" cy="108.79" r="1.58"/><circle cx="581.13" cy="108.04" r="3.6"/><circle cx="592.6" cy="108.04" r="3.6"/><circle cx="460.74" cy="113.97" r="3.6"/><circle cx="472.2" cy="113.97" r="3.6"/><circle cx="477.04" cy="114.29" r="1.74"/><circle cx="483.67" cy="113.97" r="3.6"/><circle cx="495.13" cy="113.97" r="3.6"/><circle cx="506.6" cy="113.97" r="3.6"/><circle cx="518.07" cy="113.97" r="3.6"/><circle cx="522.96" cy="114.84" r="1.59"/><circle cx="529.53" cy="113.97" r="3.6"/><circle cx="541" cy="113.97" r="3.6"/><circle cx="547.21" cy="114.28" r="1.58"/><circle cx="552.46" cy="113.97" r="3.6"/><circle cx="563.93" cy="113.97" r="3.6"/><circle cx="569.33" cy="114.49" r="1.6"/><circle cx="575.4" cy="113.97" r="3.6"/><circle cx="580.87" cy="114.59" r="1.44"/><circle cx="586.86" cy="113.97" r="3.6"/><circle cx="592.14" cy="114.47" r="1.65"/><circle cx="598.33" cy="113.97" r="3.6"/><circle cx="455" cy="119.9" r="3.6"/><circle cx="460.59" cy="120.43" r="1.86"/><circle cx="466.47" cy="119.9" r="3.6"/><circle cx="471.99" cy="120.75" r="1.88"/><circle cx="477.94" cy="119.9" r="3.6"/><circle cx="482.89" cy="119.21" r="1.67"/><circle cx="489.4" cy="119.9" r="3.6"/><circle cx="500.87" cy="119.9" r="3.6"/><circle cx="507.44" cy="120.19" r="1.51"/><circle cx="512.33" cy="119.9" r="3.6"/><circle cx="517.21" cy="119.95" r="1.71"/><circle cx="523.8" cy="119.9" r="3.6"/><circle cx="529.45" cy="120.82" r="1.75"/><circle cx="535.27" cy="119.9" r="3.6"/><circle cx="541.09" cy="118.96" r="1.59"/><circle cx="546.73" cy="119.9" r="3.6"/><circle cx="558.2" cy="119.9" r="3.6"/><circle cx="564.32" cy="120.34" r="1.55"/><circle cx="569.66" cy="119.9" r="3.6"/><circle cx="575.39" cy="119.3" r="1.84"/><circle cx="581.13" cy="119.9" r="3.6"/><circle cx="587.11" cy="120.12" r="1.93"/><circle cx="592.6" cy="119.9" r="3.6"/><circle cx="604.06" cy="119.9" r="3.6"/><circle cx="449.27" cy="125.83" r="3.6"/><circle cx="460.74" cy="125.83" r="3.6"/><circle cx="465.84" cy="126.7" r="1.82"/><circle cx="472.2" cy="125.83" r="3.6"/><circle cx="477.27" cy="124.84" r="1.5"/><circle cx="483.67" cy="125.83" r="3.6"/><circle cx="489.12" cy="126.47" r="1.88"/><circle cx="495.13" cy="125.83" r="3.6"/><circle cx="506.6" cy="125.83" r="3.6"/><circle cx="512.96" cy="126.36" r="1.33"/><circle cx="518.07" cy="125.83" r="3.6"/><circle cx="529.53" cy="125.83" r="3.6"/><circle cx="534.94" cy="126.74" r="1.33"/><circle cx="541" cy="125.83" r="3.6"/><circle cx="552.46" cy="125.83" r="3.6"/><circle cx="563.93" cy="125.83" r="3.6"/><circle cx="575.4" cy="125.83" r="3.6"/><circle cx="581.12" cy="124.85" r="1.95"/><circle cx="586.86" cy="125.83" r="3.6"/><circle cx="598.33" cy="125.83" r="3.6"/><circle cx="603.38" cy="125.65" r="1.75"/><circle cx="609.79" cy="125.83" r="3.6"/><circle cx="443.54" cy="131.76" r="3.6"/><circle cx="448.54" cy="131.68" r="1.92"/><circle cx="455" cy="131.76" r="3.6"/><circle cx="466.47" cy="131.76" r="3.6"/><circle cx="472.08" cy="131.13" r="1.46"/><circle cx="477.94" cy="131.76" r="3.6"/><circle cx="483.16" cy="131.81" r="1.75"/><circle cx="489.4" cy="131.76" r="3.6"/><circle cx="500.87" cy="131.76" r="3.6"/><circle cx="505.7" cy="131.96" r="1.88"/><circle cx="512.33" cy="131.76" r="3.6"/><circle cx="523.8" cy="131.76" r="3.6"/><circle cx="535.27" cy="131.76" r="3.6"/><circle cx="546.73" cy="131.76" r="3.6"/><circle cx="558.2" cy="131.76" r="3.6"/><circle cx="563.92" cy="131.73" r="1.59"/><circle cx="569.66" cy="131.76" r="3.6"/><circle cx="575.46" cy="132.07" r="1.58"/><circle cx="581.13" cy="131.76" r="3.6"/><circle cx="587.35" cy="132.53" r="1.59"/><circle cx="592.6" cy="131.76" r="3.6"/><circle cx="598.14" cy="132.64" r="1.6"/><circle cx="604.06" cy="131.76" r="3.6"/><circle cx="437.8" cy="137.69" r="3.6"/><circle cx="443.23" cy="137.01" r="1.42"/><circle cx="449.27" cy="137.69" r="3.6"/><circle cx="460.74" cy="137.69" r="3.6"/><circle cx="466.69" cy="137.96" r="1.36"/><circle cx="472.2" cy="137.69" r="3.6"/><circle cx="483.67" cy="137.69" r="3.6"/><circle cx="488.49" cy="138.57" r="1.41"/><circle cx="495.13" cy="137.69" r="3.6"/><circle cx="501.64" cy="138.37" r="1.77"/><circle cx="506.6" cy="137.69" r="3.6"/><circle cx="518.07" cy="137.69" r="3.6"/><circle cx="523.53" cy="137.7" r="1.43"/><circle cx="529.53" cy="137.69" r="3.6"/><circle cx="541" cy="137.69" r="3.6"/><circle cx="552.46" cy="137.69" r="3.6"/><circle cx="563.93" cy="137.69" r="3.6"/><circle cx="575.4" cy="137.69" r="3.6"/><circle cx="586.86" cy="137.69" r="3.6"/><circle cx="598.33" cy="137.69" r="3.6"/><circle cx="604.68" cy="138.28" r="1.78"/><circle cx="609.79" cy="137.69" r="3.6"/><circle cx="432.07" cy="143.62" r="3.6"/><circle cx="437.33" cy="143.63" r="1.52"/><circle cx="443.54" cy="143.62" r="3.6"/><circle cx="455" cy="143.62" r="3.6"/><circle cx="466.47" cy="143.62" r="3.6"/><circle cx="477.94" cy="143.62" r="3.6"/><circle cx="483.74" cy="144.33" r="1.82"/><circle cx="489.4" cy="143.62" r="3.6"/><circle cx="494.3" cy="143.08" r="1.73"/><circle cx="500.87" cy="143.62" r="3.6"/><circle cx="512.33" cy="143.62" r="3.6"/><circle cx="523.8" cy="143.62" r="3.6"/><circle cx="535.27" cy="143.62" r="3.6"/><circle cx="541.31" cy="142.66" r="1.3"/><circle cx="546.73" cy="143.62" r="3.6"/><circle cx="552.64" cy="143.03" r="1.74"/><circle cx="558.2" cy="143.62" r="3.6"/><circle cx="563.12" cy="143.9" r="1.91"/><circle cx="569.66" cy="143.62" r="3.6"/><circle cx="581.13" cy="143.62" r="3.6"/><circle cx="592.6" cy="143.62" r="3.6"/><circle cx="604.06" cy="143.62" r="3.6"/><circle cx="426.34" cy="149.55" r="3.6"/><circle cx="431.47" cy="149.77" r="1.65"/><circle cx="437.8" cy="149.55" r="3.6"/><circle cx="443.16" cy="149.15" r="1.33"/><circle cx="449.27" cy="149.55" r="3.6"/><circle cx="460.74" cy="149.55" r="3.6"/><circle cx="472.2" cy="149.55" r="3.6"/><circle cx="477.61" cy="150.05" r="1.79"/><circle cx="483.67" cy="149.55" r="3.6"/><circle cx="489.51" cy="149.42" r="1.85"/><circle cx="495.13" cy="149.55" r="3.6"/><circle cx="501.63" cy="148.58" r="1.48"/><circle cx="506.6" cy="149.55" r="3.6"/><circle cx="513.09" cy="149.21" r="1.47"/><circle cx="518.07" cy="149.55" r="3.6"/><circle cx="524.48" cy="149.95" r="1.9"/><circle cx="529.53" cy="149.55" r="3.6"/><circle cx="535.51" cy="148.71" r="1.94"/><circle cx="541" cy="149.55" r="3.6"/><circle cx="546.02" cy="148.61" r="1.33"/><circle cx="552.46" cy="149.55" r="3.6"/><circle cx="558.38" cy="149.28" r="1.87"/><circle cx="563.93" cy="149.55" r="3.6"/><circle cx="575.4" cy="149.55" r="3.6"/><circle cx="580.2" cy="150.45" r="1.94"/><circle cx="586.86" cy="149.55" r="3.6"/><circle cx="591.86" cy="150.13" r="1.75"/><circle cx="598.33" cy="149.55" r="3.6"/><circle cx="420.61" cy="155.48" r="3.6"/><circle cx="432.07" cy="155.48" r="3.6"/><circle cx="443.54" cy="155.48" r="3.6"/><circle cx="449.4" cy="155.91" r="1.88"/><circle cx="455" cy="155.48" r="3.6"/><circle cx="461.24" cy="154.59" r="1.54"/><circle cx="466.47" cy="155.48" r="3.6"/><circle cx="473.12" cy="155.51" r="1.7"/><circle cx="477.94" cy="155.48" r="3.6"/><circle cx="484.55" cy="156.01" r="1.64"/><circle cx="489.4" cy="155.48" r="3.6"/><circle cx="500.87" cy="155.48" r="3.6"/><circle cx="512.33" cy="155.48" r="3.6"/><circle cx="518.87" cy="155.48" r="1.57"/><circle cx="523.8" cy="155.48" r="3.6"/><circle cx="535.27" cy="155.48" r="3.6"/><circle cx="541.16" cy="155.52" r="1.91"/><circle cx="546.73" cy="155.48" r="3.6"/><circle cx="558.2" cy="155.48" r="3.6"/><circle cx="569.66" cy="155.48" r="3.6"/><circle cx="581.13" cy="155.48" r="3.6"/><circle cx="586.34" cy="156.39" r="1.48"/><circle cx="592.6" cy="155.48" r="3.6"/><circle cx="420.15" cy="160.63" r="1.94"/><circle cx="426.34" cy="161.41" r="3.6"/><circle cx="431.1" cy="162.12" r="1.61"/><circle cx="437.8" cy="161.41" r="3.6"/><circle cx="444.01" cy="160.42" r="1.47"/><circle cx="449.27" cy="161.41" r="3.6"/><circle cx="455.3" cy="162.1" r="1.77"/><circle cx="460.74" cy="161.41" r="3.6"/><circle cx="465.83" cy="160.66" r="1.6"/><circle cx="472.2" cy="161.41" r="3.6"/><circle cx="478.36" cy="160.72" r="1.89"/><circle cx="483.67" cy="161.41" r="3.6"/><circle cx="495.13" cy="161.41" r="3.6"/><circle cx="506.6" cy="161.41" r="3.6"/><circle cx="511.66" cy="161.97" r="1.96"/><circle cx="518.07" cy="161.41" r="3.6"/><circle cx="529.53" cy="161.41" r="3.6"/><circle cx="536.16" cy="160.83" r="1.78"/><circle cx="541" cy="161.41" r="3.6"/><circle cx="545.85" cy="160.96" r="1.58"/><circle cx="552.46" cy="161.41" r="3.6"/><circle cx="557.73" cy="160.86" r="1.82"/><circle cx="563.93" cy="161.41" r="3.6"/><circle cx="575.4" cy="161.41" r="3.6"/><circle cx="580.46" cy="162.27" r="1.35"/><circle cx="586.86" cy="161.41" r="3.6"/><circle cx="420.61" cy="167.34" r="3.6"/><circle cx="432.07" cy="167.34" r="3.6"/><circle cx="438.21" cy="167.71" r="1.99"/><circle cx="443.54" cy="167.34" r="3.6"/><circle cx="449.58" cy="166.98" r="1.64"/><circle cx="455" cy="167.34" r="3.6"/><circle cx="460.51" cy="166.51" r="1.7"/><circle cx="466.47" cy="167.34" r="3.6"/><circle cx="472.52" cy="166.76" r="1.35"/><circle cx="477.94" cy="167.34" r="3.6"/><circle cx="483.57" cy="167.91" r="1.45"/><circle cx="489.4" cy="167.34" r="3.6"/><circle cx="500.87" cy="167.34" r="3.6"/><circle cx="506.59" cy="166.77" r="1.36"/><circle cx="512.33" cy="167.34" r="3.6"/><circle cx="517.6" cy="166.81" r="1.4"/><circle cx="523.8" cy="167.34" r="3.6"/><circle cx="529.53" cy="167.42" r="1.9"/><circle cx="535.27" cy="167.34" r="3.6"/><circle cx="546.73" cy="167.34" r="3.6"/><circle cx="553.46" cy="167.69" r="1.43"/><circle cx="558.2" cy="167.34" r="3.6"/><circle cx="569.66" cy="167.34" r="3.6"/><circle cx="575.37" cy="168.14" r="1.32"/><circle cx="581.13" cy="167.34" r="3.6"/><circle cx="420.71" cy="173.92" r="1.51"/><circle cx="426.34" cy="173.27" r="3.6"/><circle cx="433.04" cy="174.02" r="1.54"/><circle cx="437.8" cy="173.27" r="3.6"/><circle cx="449.27" cy="173.27" r="3.6"/><circle cx="455.11" cy="173.08" r="1.7"/><circle cx="460.74" cy="173.27" r="3.6"/><circle cx="467" cy="172.39" r="1.65"/><circle cx="472.2" cy="173.27" r="3.6"/><circle cx="483.67" cy="173.27" r="3.6"/><circle cx="489.74" cy="173.19" r="1.83"/><circle cx="495.13" cy="173.27" r="3.6"/><circle cx="506.6" cy="173.27" r="3.6"/><circle cx="511.85" cy="172.87" r="1.6"/><circle cx="518.07" cy="173.27" r="3.6"/><circle cx="523.94" cy="172.35" r="1.38"/><circle cx="529.53" cy="173.27" r="3.6"/><circle cx="541" cy="173.27" r="3.6"/><circle cx="552.46" cy="173.27" r="3.6"/><circle cx="558.14" cy="174.06" r="1.74"/><circle cx="563.93" cy="173.27" r="3.6"/><circle cx="575.4" cy="173.27" r="3.6"/><circle cx="420.61" cy="179.2" r="3.6"/><circle cx="432.07" cy="179.2" r="3.6"/><circle cx="443.54" cy="179.2" r="3.6"/><circle cx="448.89" cy="179.66" r="1.42"/><circle cx="455" cy="179.2" r="3.6"/><circle cx="466.47" cy="179.2" r="3.6"/><circle cx="473.14" cy="178.43" r="1.97"/><circle cx="477.94" cy="179.2" r="3.6"/><circle cx="483.21" cy="179.71" r="1.53"/><circle cx="489.4" cy="179.2" r="3.6"/><circle cx="495.87" cy="179.65" r="1.31"/><circle cx="500.87" cy="179.2" r="3.6"/><circle cx="506.38" cy="178.95" r="1.84"/><circle cx="512.33" cy="179.2" r="3.6"/><circle cx="517.38" cy="180.04" r="1.83"/><circle cx="523.8" cy="179.2" r="3.6"/><circle cx="535.27" cy="179.2" r="3.6"/><circle cx="541.95" cy="179.79" r="1.68"/><circle cx="546.73" cy="179.2" r="3.6"/><circle cx="552.23" cy="179.78" r="1.81"/><circle cx="558.2" cy="179.2" r="3.6"/><circle cx="569.66" cy="179.2" r="3.6"/><circle cx="420.77" cy="185.92" r="1.92"/><circle cx="426.34" cy="185.13" r="3.6"/><circle cx="431.43" cy="185.53" r="1.55"/><circle cx="437.8" cy="185.13" r="3.6"/><circle cx="444.53" cy="184.88" r="1.37"/><circle cx="449.27" cy="185.13" r="3.6"/><circle cx="455.04" cy="184.17" r="1.32"/><circle cx="460.74" cy="185.13" r="3.6"/><circle cx="466.6" cy="184.65" r="1.85"/><circle cx="472.2" cy="185.13" r="3.6"/><circle cx="483.67" cy="185.13" r="3.6"/><circle cx="488.5" cy="185.24" r="1.91"/><circle cx="495.13" cy="185.13" r="3.6"/><circle cx="500.66" cy="184.37" r="1.97"/><circle cx="506.6" cy="185.13" r="3.6"/><circle cx="518.07" cy="185.13" r="3.6"/><circle cx="529.53" cy="185.13" r="3.6"/><circle cx="541" cy="185.13" r="3.6"/><circle cx="546.76" cy="185.61" r="1.83"/><circle cx="552.46" cy="185.13" r="3.6"/><circle cx="558.69" cy="185.31" r="1.61"/><circle cx="563.93" cy="185.13" r="3.6"/><circle cx="420.61" cy="191.06" r="3.6"/><circle cx="432.07" cy="191.06" r="3.6"/><circle cx="443.54" cy="191.06" r="3.6"/><circle cx="455" cy="191.06" r="3.6"/><circle cx="466.47" cy="191.06" r="3.6"/><circle cx="472.46" cy="190.35" r="1.46"/><circle cx="477.94" cy="191.06" r="3.6"/><circle cx="489.4" cy="191.06" r="3.6"/><circle cx="500.87" cy="191.06" r="3.6"/><circle cx="512.33" cy="191.06" r="3.6"/><circle cx="523.8" cy="191.06" r="3.6"/><circle cx="529.26" cy="192.04" r="2"/><circle cx="535.27" cy="191.06" r="3.6"/><circle cx="540.83" cy="190.38" r="1.88"/><circle cx="546.73" cy="191.06" r="3.6"/><circle cx="558.2" cy="191.06" r="3.6"/><circle cx="420.75" cy="196.27" r="1.43"/><circle cx="426.34" cy="196.99" r="3.6"/><circle cx="432.29" cy="196.98" r="1.49"/><circle cx="437.8" cy="196.99" r="3.6"/><circle cx="442.94" cy="196.12" r="1.81"/><circle cx="449.27" cy="196.99" r="3.6"/><circle cx="455.69" cy="197.72" r="1.65"/><circle cx="460.74" cy="196.99" r="3.6"/><circle cx="465.84" cy="197.65" r="1.56"/><circle cx="472.2" cy="196.99" r="3.6"/><circle cx="477.83" cy="197.02" r="1.38"/><circle cx="483.67" cy="196.99" r="3.6"/><circle cx="495.13" cy="196.99" r="3.6"/><circle cx="506.6" cy="196.99" r="3.6"/><circle cx="513.27" cy="196.44" r="1.43"/><circle cx="518.07" cy="196.99" r="3.6"/><circle cx="524.2" cy="196.38" r="1.31"/><circle cx="529.53" cy="196.99" r="3.6"/><circle cx="536.01" cy="197.42" r="1.33"/><circle cx="541" cy="196.99" r="3.6"/><circle cx="546.54" cy="196.26" r="1.71"/><circle cx="552.46" cy="196.99" r="3.6"/><circle cx="420.61" cy="202.92" r="3.6"/><circle cx="426.14" cy="203.6" r="1.8"/><circle cx="432.07" cy="202.92" r="3.6"/><circle cx="443.54" cy="202.92" r="3.6"/><circle cx="455" cy="202.92" r="3.6"/><circle cx="460.58" cy="203.19" r="1.56"/><circle cx="466.47" cy="202.92" r="3.6"/><circle cx="471.48" cy="203.86" r="1.84"/><circle cx="477.94" cy="202.92" r="3.6"/><circle cx="489.4" cy="202.92" r="3.6"/><circle cx="495.42" cy="202.45" r="1.77"/><circle cx="500.87" cy="202.92" r="3.6"/><circle cx="506.64" cy="202.79" r="1.97"/><circle cx="512.33" cy="202.92" r="3.6"/><circle cx="518.98" cy="202.95" r="1.49"/><circle cx="523.8" cy="202.92" r="3.6"/><circle cx="529.12" cy="202.73" r="1.5"/><circle cx="535.27" cy="202.92" r="3.6"/><circle cx="546.73" cy="202.92" r="3.6"/><circle cx="420.63" cy="208.62" r="1.71"/><circle cx="426.34" cy="208.85" r="3.6"/><circle cx="432.05" cy="208.42" r="1.99"/><circle cx="437.8" cy="208.85" r="3.6"/><circle cx="449.27" cy="208.85" r="3.6"/><circle cx="460.74" cy="208.85" r="3.6"/><circle cx="466.14" cy="208.55" r="1.77"/><circle cx="472.2" cy="208.85" r="3.6"/><circle cx="483.67" cy="208.85" r="3.6"/><circle cx="495.13" cy="208.85" r="3.6"/><circle cx="500.07" cy="208.67" r="1.68"/><circle cx="506.6" cy="208.85" r="3.6"/><circle cx="518.07" cy="208.85" r="3.6"/><circle cx="529.53" cy="208.85" r="3.6"/><circle cx="535.56" cy="207.86" r="1.82"/><circle cx="541" cy="208.85" r="3.6"/><circle cx="420.61" cy="214.78" r="3.6"/><circle cx="426.19" cy="215.6" r="1.31"/><circle cx="432.07" cy="214.78" r="3.6"/><circle cx="443.54" cy="214.78" r="3.6"/><circle cx="455" cy="214.78" r="3.6"/><circle cx="466.47" cy="214.78" r="3.6"/><circle cx="472.33" cy="214.93" r="1.92"/><circle cx="477.94" cy="214.78" r="3.6"/><circle cx="484.2" cy="215.58" r="1.71"/><circle cx="489.4" cy="214.78" r="3.6"/><circle cx="494.29" cy="214.4" r="1.42"/><circle cx="500.87" cy="214.78" r="3.6"/><circle cx="507.54" cy="215.04" r="1.67"/><circle cx="512.33" cy="214.78" r="3.6"/><circle cx="517.44" cy="214.14" r="1.74"/><circle cx="523.8" cy="214.78" r="3.6"/><circle cx="529.36" cy="215.36" r="1.51"/><circle cx="535.27" cy="214.78" r="3.6"/><circle cx="426.34" cy="220.71" r="3.6"/><circle cx="431.39" cy="221.23" r="1.37"/><circle cx="437.8" cy="220.71" r="3.6"/><circle cx="449.27" cy="220.71" r="3.6"/><circle cx="460.74" cy="220.71" r="3.6"/><circle cx="465.54" cy="220.97" r="1.9"/><circle cx="472.2" cy="220.71" r="3.6"/><circle cx="477.84" cy="220.48" r="1.34"/><circle cx="483.67" cy="220.71" r="3.6"/><circle cx="495.13" cy="220.71" r="3.6"/><circle cx="501.04" cy="220.06" r="1.3"/><circle cx="506.6" cy="220.71" r="3.6"/><circle cx="512.54" cy="221.63" r="1.65"/><circle cx="518.07" cy="220.71" r="3.6"/><circle cx="529.53" cy="220.71" r="3.6"/></g><g fill="#3f4aa6"><circle cx="529.16" cy="42.76" r="1.5"/><circle cx="615.45" cy="132.07" r="1.5"/><circle cx="414.59" cy="161.25" r="1.5"/><circle cx="414.64" cy="173.22" r="1.5"/><circle cx="415.12" cy="185.35" r="1.5"/><circle cx="414.82" cy="197.32" r="1.5"/><circle cx="414.72" cy="208.64" r="1.5"/><circle cx="414.92" cy="220.52" r="1.5"/><circle cx="420.52" cy="226.53" r="1.5"/><circle cx="432.44" cy="226.58" r="1.5"/><circle cx="443.58" cy="226.55" r="1.5"/><circle cx="454.62" cy="226.88" r="1.5"/><circle cx="466.7" cy="226.68" r="1.5"/><circle cx="477.71" cy="226.56" r="1.5"/><circle cx="489.17" cy="226.93" r="1.5"/><circle cx="500.82" cy="227.03" r="1.5"/><circle cx="512.53" cy="226.78" r="1.5"/><circle cx="523.42" cy="226.81" r="1.5"/></g><g><circle cx="512.33" cy="60.6" r="1.9" fill="#FFDF20"/><circle cx="506.6" cy="78.39" r="1.9" fill="#8FC548"/><circle cx="518.07" cy="78.39" r="1.9" fill="#FFDF20"/><circle cx="552.46" cy="78.39" r="1.9" fill="#7CC57A"/><circle cx="563.93" cy="78.39" r="1.9" fill="#F5852A"/><circle cx="518.07" cy="90.25" r="1.9" fill="#7CC57A"/><circle cx="541" cy="90.25" r="1.9" fill="#72C162"/><circle cx="512.33" cy="96.18" r="1.9" fill="#8FC548"/><circle cx="581.13" cy="96.18" r="1.9" fill="#F5852A"/><circle cx="472.2" cy="102.11" r="1.9" fill="#72C162"/><circle cx="506.6" cy="102.11" r="1.9" fill="#A2DAD8"/><circle cx="586.86" cy="102.11" r="1.9" fill="#7CC57A"/><circle cx="466.47" cy="108.04" r="1.9" fill="#7CC57A"/><circle cx="477.94" cy="108.04" r="1.9" fill="#A2DAD8"/><circle cx="489.4" cy="108.04" r="1.9" fill="#8FC548"/><circle cx="472.2" cy="113.97" r="1.9" fill="#6ABD5A"/><circle cx="495.13" cy="113.97" r="1.9" fill="#F5852A"/><circle cx="506.6" cy="113.97" r="1.9" fill="#F5852A"/><circle cx="518.07" cy="113.97" r="1.9" fill="#A2DAD8"/><circle cx="455" cy="119.9" r="1.9" fill="#6ABD5A"/><circle cx="466.47" cy="119.9" r="1.9" fill="#F05423"/><circle cx="477.94" cy="119.9" r="1.9" fill="#F05423"/><circle cx="535.27" cy="119.9" r="1.9" fill="#F05423"/><circle cx="604.06" cy="119.9" r="1.9" fill="#6ABD5A"/><circle cx="449.27" cy="125.83" r="1.9" fill="#FFDF20"/><circle cx="460.74" cy="125.83" r="1.9" fill="#72C162"/><circle cx="529.53" cy="125.83" r="1.9" fill="#FFDF20"/><circle cx="575.4" cy="125.83" r="1.9" fill="#F05423"/><circle cx="609.79" cy="125.83" r="1.9" fill="#A2DAD8"/><circle cx="443.54" cy="131.76" r="1.9" fill="#F05423"/><circle cx="569.66" cy="131.76" r="1.9" fill="#A2DAD8"/><circle cx="604.06" cy="131.76" r="1.9" fill="#6ABD5A"/><circle cx="437.8" cy="137.69" r="1.9" fill="#A2DAD8"/><circle cx="541" cy="137.69" r="1.9" fill="#72C162"/><circle cx="609.79" cy="137.69" r="1.9" fill="#7CC57A"/><circle cx="432.07" cy="143.62" r="1.9" fill="#F05423"/><circle cx="455" cy="143.62" r="1.9" fill="#72C162"/><circle cx="500.87" cy="143.62" r="1.9" fill="#8FC548"/><circle cx="569.66" cy="143.62" r="1.9" fill="#F5852A"/><circle cx="581.13" cy="143.62" r="1.9" fill="#6ABD5A"/><circle cx="604.06" cy="143.62" r="1.9" fill="#7CC57A"/><circle cx="426.34" cy="149.55" r="1.9" fill="#7CC57A"/><circle cx="437.8" cy="149.55" r="1.9" fill="#6ABD5A"/><circle cx="449.27" cy="149.55" r="1.9" fill="#F05423"/><circle cx="483.67" cy="149.55" r="1.9" fill="#6ABD5A"/><circle cx="518.07" cy="149.55" r="1.9" fill="#A2DAD8"/><circle cx="563.93" cy="149.55" r="1.9" fill="#6ABD5A"/><circle cx="420.61" cy="155.48" r="1.9" fill="#F05423"/><circle cx="432.07" cy="155.48" r="1.9" fill="#6ABD5A"/><circle cx="489.4" cy="155.48" r="1.9" fill="#A2DAD8"/><circle cx="523.8" cy="155.48" r="1.9" fill="#7CC57A"/><circle cx="592.6" cy="155.48" r="1.9" fill="#6ABD5A"/><circle cx="426.34" cy="161.41" r="1.9" fill="#F5852A"/><circle cx="449.27" cy="161.41" r="1.9" fill="#6ABD5A"/><circle cx="495.13" cy="161.41" r="1.9" fill="#FFDF20"/><circle cx="563.93" cy="161.41" r="1.9" fill="#A2DAD8"/><circle cx="575.4" cy="161.41" r="1.9" fill="#F5852A"/><circle cx="586.86" cy="161.41" r="1.9" fill="#7CC57A"/><circle cx="420.61" cy="167.34" r="1.9" fill="#8FC548"/><circle cx="512.33" cy="167.34" r="1.9" fill="#6ABD5A"/><circle cx="546.73" cy="167.34" r="1.9" fill="#FFDF20"/><circle cx="569.66" cy="167.34" r="1.9" fill="#6ABD5A"/><circle cx="426.34" cy="173.27" r="1.9" fill="#F5852A"/><circle cx="483.67" cy="173.27" r="1.9" fill="#6ABD5A"/><circle cx="529.53" cy="173.27" r="1.9" fill="#6ABD5A"/><circle cx="432.07" cy="179.2" r="1.9" fill="#6ABD5A"/><circle cx="455" cy="179.2" r="1.9" fill="#F05423"/><circle cx="523.8" cy="179.2" r="1.9" fill="#8FC548"/><circle cx="535.27" cy="179.2" r="1.9" fill="#6ABD5A"/><circle cx="558.2" cy="179.2" r="1.9" fill="#8FC548"/><circle cx="460.74" cy="185.13" r="1.9" fill="#6ABD5A"/><circle cx="541" cy="185.13" r="1.9" fill="#6ABD5A"/><circle cx="420.61" cy="191.06" r="1.9" fill="#F05423"/><circle cx="443.54" cy="191.06" r="1.9" fill="#72C162"/><circle cx="455" cy="191.06" r="1.9" fill="#F5852A"/><circle cx="535.27" cy="191.06" r="1.9" fill="#6ABD5A"/><circle cx="546.73" cy="191.06" r="1.9" fill="#72C162"/><circle cx="552.46" cy="196.99" r="1.9" fill="#72C162"/><circle cx="432.07" cy="202.92" r="1.9" fill="#6ABD5A"/><circle cx="443.54" cy="202.92" r="1.9" fill="#F5852A"/><circle cx="477.94" cy="202.92" r="1.9" fill="#6ABD5A"/><circle cx="489.4" cy="202.92" r="1.9" fill="#6ABD5A"/><circle cx="495.13" cy="208.85" r="1.9" fill="#72C162"/><circle cx="541" cy="208.85" r="1.9" fill="#F5852A"/><circle cx="477.94" cy="214.78" r="1.9" fill="#F05423"/><circle cx="512.33" cy="214.78" r="1.9" fill="#7CC57A"/><circle cx="449.27" cy="220.71" r="1.9" fill="#6ABD5A"/><circle cx="472.2" cy="220.71" r="1.9" fill="#6ABD5A"/><circle cx="483.67" cy="220.71" r="1.9" fill="#6ABD5A"/><circle cx="506.6" cy="220.71" r="1.9" fill="#F05423"/><circle cx="518.07" cy="220.71" r="1.9" fill="#7CC57A"/></g><path d="M420.61 214.78L426.34 208.85M432.07 167.34L437.8 161.41M443.54 214.78L449.27 208.85M455 131.76L460.74 137.69M460.74 137.69L466.47 131.76M466.47 131.76L472.2 125.83M466.47 191.06L472.2 196.99M483.67 196.99L489.4 191.06M489.4 84.32L495.13 90.25M489.4 131.76L495.13 137.69M489.4 143.62L495.13 149.55M489.4 179.2L495.13 185.13M495.13 78.39L500.87 84.32M495.13 102.11L500.87 108.04M495.13 173.27L500.87 179.2M495.13 185.13L500.87 191.06M495.13 196.99L500.87 191.06M500.87 155.48L506.6 161.41M506.6 125.83L512.33 119.9M506.6 173.27L512.33 179.2M506.6 185.13L512.33 179.2M506.6 196.99L512.33 191.06M512.33 131.76L518.07 125.83M512.33 202.92L518.07 196.99M518.07 66.53L523.8 60.6M518.07 102.11L523.8 108.04M518.07 137.69L523.8 131.76M518.07 208.85L523.8 202.92M523.8 60.6L529.53 66.53M523.8 108.04L529.53 113.97M523.8 143.62L529.53 149.55M523.8 143.62L529.53 137.69M523.8 167.34L529.53 161.41M523.8 202.92L529.53 208.85M523.8 202.92L529.53 196.99M529.53 66.53L535.27 72.46M529.53 137.69L535.27 131.76M529.53 161.41L535.27 167.34M535.27 72.46L541 78.39M535.27 155.48L541 161.41M546.73 119.9L552.46 125.83M552.46 102.11L558.2 96.18M552.46 125.83L558.2 119.9M552.46 137.69L558.2 143.62M552.46 161.41L558.2 167.34M552.46 161.41L558.2 155.48M552.46 185.13L558.2 191.06M558.2 96.18L563.93 90.25M558.2 143.62L563.93 137.69M569.66 84.32L575.4 90.25M569.66 119.9L575.4 113.97M575.4 113.97L581.13 108.04M575.4 149.55L581.13 155.48M586.86 125.83L592.6 119.9M592.6 108.04L598.33 113.97M592.6 119.9L598.33 113.97" stroke="#f7d9bd" stroke-width="1.5" fill="none"/><g fill="#fff" stroke="#f5bd90" stroke-width="0.9"><circle cx="524.09" cy="48.47" r="2.27"/><circle cx="535.04" cy="48.63" r="2.13"/><circle cx="518.02" cy="54.56" r="2.42"/><circle cx="529.58" cy="54.69" r="2.18"/><circle cx="541.29" cy="54.44" r="2.21"/><circle cx="523.66" cy="60.72" r="2.1"/><circle cx="535.4" cy="60.83" r="2.3"/><circle cx="546.6" cy="60.74" r="2.17"/><circle cx="506.89" cy="66.64" r="2.44"/><circle cx="518.27" cy="66.34" r="2.06"/><circle cx="529.75" cy="66.8" r="2.12"/><circle cx="541.22" cy="66.8" r="2.3"/><circle cx="552.4" cy="66.52" r="2.27"/><circle cx="500.94" cy="72.2" r="2.57"/><circle cx="512.1" cy="72.45" r="2.31"/><circle cx="523.59" cy="72.61" r="2.22"/><circle cx="535.28" cy="72.28" r="2.43"/><circle cx="546.98" cy="72.61" r="2.43"/><circle cx="558.11" cy="72.29" r="2.55"/><circle cx="494.95" cy="78.39" r="2.49"/><circle cx="529.37" cy="78.21" r="2.17"/><circle cx="541.18" cy="78.14" r="2.41"/><circle cx="489.38" cy="84.41" r="2.37"/><circle cx="501.13" cy="84.11" r="2.31"/><circle cx="512.12" cy="84.61" r="2.46"/><circle cx="523.7" cy="84.35" r="2.47"/><circle cx="535.5" cy="84.42" r="2.46"/><circle cx="546.96" cy="84.1" r="2.5"/><circle cx="557.99" cy="84.1" r="2.48"/><circle cx="569.77" cy="84.34" r="2.08"/><circle cx="483.41" cy="90.15" r="2.54"/><circle cx="495" cy="90.25" r="2.16"/><circle cx="506.61" cy="90.48" r="2.19"/><circle cx="529.5" cy="89.99" r="2.12"/><circle cx="552.32" cy="90.03" r="2.25"/><circle cx="563.77" cy="90.37" r="2.42"/><circle cx="575.31" cy="90.01" r="2.28"/><circle cx="477.77" cy="96.41" r="2.56"/><circle cx="489.61" cy="96.29" r="2.5"/><circle cx="500.88" cy="96.18" r="2.35"/><circle cx="523.55" cy="96.39" r="2.49"/><circle cx="535.13" cy="95.96" r="2.56"/><circle cx="546.62" cy="96.06" r="2.16"/><circle cx="558" cy="96.09" r="2.33"/><circle cx="569.65" cy="96.44" r="2.15"/><circle cx="483.52" cy="101.91" r="2.46"/><circle cx="495.01" cy="102.09" r="2.18"/><circle cx="517.82" cy="101.98" r="2.23"/><circle cx="529.29" cy="102.3" r="2.48"/><circle cx="541.27" cy="102.32" r="2.1"/><circle cx="552.46" cy="101.98" r="2.45"/><circle cx="564.06" cy="102.12" r="2.5"/><circle cx="575.58" cy="101.82" r="2.36"/><circle cx="500.61" cy="108.29" r="2.52"/><circle cx="512.42" cy="108.16" r="2.23"/><circle cx="523.79" cy="108.32" r="2.32"/><circle cx="535.43" cy="108.34" r="2.31"/><circle cx="546.74" cy="108.34" r="2.09"/><circle cx="558.46" cy="107.78" r="2.55"/><circle cx="569.53" cy="107.81" r="2.4"/><circle cx="581.24" cy="107.98" r="2.57"/><circle cx="592.37" cy="107.94" r="2.26"/><circle cx="460.96" cy="113.72" r="2.26"/><circle cx="483.63" cy="113.86" r="2.58"/><circle cx="529.75" cy="113.96" r="2.13"/><circle cx="540.95" cy="113.84" r="2.14"/><circle cx="552.57" cy="113.74" r="2.32"/><circle cx="564.12" cy="114" r="2.33"/><circle cx="575.2" cy="114" r="2.18"/><circle cx="586.79" cy="114.12" r="2.53"/><circle cx="598.44" cy="113.99" r="2.25"/><circle cx="489.54" cy="119.99" r="2.57"/><circle cx="500.59" cy="120.07" r="2.35"/><circle cx="512.42" cy="120.02" r="2.19"/><circle cx="523.86" cy="119.61" r="2.17"/><circle cx="546.55" cy="120.13" r="2.08"/><circle cx="558.15" cy="119.82" r="2.18"/><circle cx="569.54" cy="120.11" r="2.05"/><circle cx="580.99" cy="120.13" r="2.31"/><circle cx="592.33" cy="119.96" r="2.55"/><circle cx="472.13" cy="125.75" r="2.42"/><circle cx="483.44" cy="126.11" r="2.58"/><circle cx="495.12" cy="125.75" r="2.08"/><circle cx="506.84" cy="125.55" r="2.25"/><circle cx="518.32" cy="125.68" r="2.08"/><circle cx="541.25" cy="125.71" r="2.43"/><circle cx="552.73" cy="125.57" r="2.49"/><circle cx="563.91" cy="126" r="2.44"/><circle cx="586.65" cy="125.67" r="2.43"/><circle cx="598.39" cy="125.84" r="2.48"/><circle cx="455.17" cy="131.92" r="2.35"/><circle cx="466.33" cy="131.61" r="2.2"/><circle cx="477.75" cy="131.5" r="2.55"/><circle cx="489.12" cy="131.46" r="2.31"/><circle cx="500.79" cy="131.99" r="2.3"/><circle cx="512.34" cy="131.57" r="2.09"/><circle cx="523.5" cy="131.84" r="2.42"/><circle cx="535.17" cy="131.49" r="2.07"/><circle cx="546.98" cy="131.95" r="2.45"/><circle cx="558.27" cy="131.51" r="2.25"/><circle cx="581.23" cy="131.71" r="2.59"/><circle cx="592.78" cy="131.85" r="2.47"/><circle cx="449.42" cy="137.87" r="2.26"/><circle cx="460.46" cy="137.94" r="2.51"/><circle cx="472.44" cy="137.77" r="2.43"/><circle cx="483.49" cy="137.67" r="2.39"/><circle cx="495.42" cy="137.88" r="2.13"/><circle cx="506.53" cy="137.66" r="2.23"/><circle cx="517.95" cy="137.54" r="2.41"/><circle cx="529.51" cy="137.66" r="2.59"/><circle cx="552.38" cy="137.61" r="2.09"/><circle cx="563.66" cy="137.47" r="2.41"/><circle cx="575.14" cy="137.84" r="2.45"/><circle cx="586.58" cy="137.43" r="2.48"/><circle cx="598.11" cy="137.92" r="2.11"/><circle cx="443.33" cy="143.88" r="2.15"/><circle cx="466.2" cy="143.83" r="2.47"/><circle cx="478.05" cy="143.86" r="2.34"/><circle cx="489.32" cy="143.41" r="2.26"/><circle cx="512.62" cy="143.67" r="2.4"/><circle cx="523.52" cy="143.41" r="2.05"/><circle cx="535.5" cy="143.4" r="2.33"/><circle cx="546.65" cy="143.45" r="2.11"/><circle cx="558.46" cy="143.47" r="2.12"/><circle cx="592.68" cy="143.59" r="2.24"/><circle cx="460.88" cy="149.53" r="2.51"/><circle cx="471.97" cy="149.39" r="2.17"/><circle cx="495.22" cy="149.83" r="2.2"/><circle cx="506.87" cy="149.7" r="2.46"/><circle cx="529.58" cy="149.43" r="2.45"/><circle cx="540.76" cy="149.81" r="2.06"/><circle cx="552.58" cy="149.69" r="2.4"/><circle cx="575.33" cy="149.4" r="2.44"/><circle cx="587.01" cy="149.63" r="2.1"/><circle cx="598.19" cy="149.46" r="2.24"/><circle cx="443.3" cy="155.46" r="2.34"/><circle cx="454.97" cy="155.49" r="2.21"/><circle cx="466.67" cy="155.76" r="2.43"/><circle cx="478.2" cy="155.32" r="2.5"/><circle cx="500.81" cy="155.42" r="2.25"/><circle cx="512.05" cy="155.3" r="2.54"/><circle cx="535.38" cy="155.54" r="2.38"/><circle cx="546.63" cy="155.46" r="2.35"/><circle cx="558.1" cy="155.57" r="2.18"/><circle cx="569.82" cy="155.68" r="2.2"/><circle cx="581.26" cy="155.54" r="2.59"/><circle cx="437.68" cy="161.12" r="2.59"/><circle cx="460.82" cy="161.46" r="2.53"/><circle cx="472.44" cy="161.26" r="2.44"/><circle cx="483.88" cy="161.42" r="2.06"/><circle cx="506.89" cy="161.13" r="2.32"/><circle cx="518.11" cy="161.43" r="2.11"/><circle cx="529.73" cy="161.42" r="2.4"/><circle cx="540.77" cy="161.7" r="2.47"/><circle cx="552.42" cy="161.53" r="2.28"/><circle cx="432.05" cy="167.51" r="2.48"/><circle cx="443.72" cy="167.52" r="2.31"/><circle cx="455.24" cy="167.13" r="2.1"/><circle cx="466.49" cy="167.25" r="2.57"/><circle cx="477.98" cy="167.55" r="2.38"/><circle cx="489.47" cy="167.45" r="2.34"/><circle cx="500.9" cy="167.42" r="2.55"/><circle cx="523.78" cy="167.13" r="2.08"/><circle cx="535.25" cy="167.38" r="2.51"/><circle cx="557.91" cy="167.07" r="2.41"/><circle cx="581.03" cy="167.56" r="2.39"/><circle cx="437.58" cy="173.09" r="2.32"/><circle cx="449.02" cy="173.57" r="2.59"/><circle cx="460.46" cy="173.46" r="2.11"/><circle cx="471.99" cy="173.37" r="2.26"/><circle cx="494.86" cy="173.43" r="2.15"/><circle cx="506.79" cy="173.44" r="2.25"/><circle cx="518.15" cy="173.53" r="2.29"/><circle cx="541.11" cy="173.33" r="2.09"/><circle cx="552.63" cy="173.3" r="2.14"/><circle cx="564.03" cy="173.56" r="2.06"/><circle cx="575.38" cy="173.14" r="2.12"/><circle cx="420.64" cy="179.2" r="2.21"/><circle cx="443.63" cy="179.39" r="2.06"/><circle cx="466.61" cy="179.18" r="2.57"/><circle cx="477.92" cy="179.37" r="2.49"/><circle cx="489.49" cy="179.38" r="2.39"/><circle cx="500.92" cy="179.49" r="2.51"/><circle cx="512.45" cy="179.09" r="2.3"/><circle cx="546.75" cy="179.22" r="2.32"/><circle cx="569.49" cy="179.05" r="2.31"/><circle cx="426.39" cy="184.94" r="2.31"/><circle cx="437.82" cy="184.92" r="2.27"/><circle cx="449.06" cy="185.19" r="2.48"/><circle cx="472.36" cy="185.32" r="2.57"/><circle cx="483.49" cy="184.94" r="2.07"/><circle cx="495.38" cy="184.87" r="2.57"/><circle cx="506.69" cy="185.4" r="2.36"/><circle cx="517.86" cy="185.41" r="2.3"/><circle cx="529.39" cy="185.04" r="2.07"/><circle cx="552.36" cy="184.83" r="2.11"/><circle cx="563.85" cy="185.06" r="2.31"/><circle cx="432.33" cy="190.89" r="2.07"/><circle cx="466.37" cy="191.25" r="2.3"/><circle cx="477.97" cy="190.85" r="2.44"/><circle cx="489.2" cy="190.92" r="2.28"/><circle cx="500.86" cy="190.95" r="2.14"/><circle cx="512.07" cy="191.3" r="2.59"/><circle cx="523.67" cy="190.91" r="2.31"/><circle cx="558.1" cy="190.84" r="2.49"/><circle cx="426.16" cy="196.74" r="2.44"/><circle cx="437.93" cy="197.18" r="2.39"/><circle cx="449" cy="197.18" r="2.45"/><circle cx="460.72" cy="197.21" r="2.55"/><circle cx="472.26" cy="196.69" r="2.25"/><circle cx="483.89" cy="196.88" r="2.5"/><circle cx="494.87" cy="197.21" r="2.46"/><circle cx="506.62" cy="197.01" r="2.33"/><circle cx="518.26" cy="196.71" r="2.19"/><circle cx="529.55" cy="197.11" r="2.37"/><circle cx="541" cy="196.86" r="2.32"/><circle cx="420.89" cy="202.65" r="2.07"/><circle cx="455.28" cy="203.18" r="2.33"/><circle cx="466.43" cy="202.92" r="2.09"/><circle cx="501.12" cy="202.99" r="2.35"/><circle cx="512.42" cy="202.69" r="2.22"/><circle cx="523.59" cy="202.69" r="2.34"/><circle cx="535.29" cy="203.12" r="2.1"/><circle cx="546.55" cy="203.05" r="2.41"/><circle cx="426.56" cy="208.69" r="2.24"/><circle cx="437.6" cy="208.59" r="2.47"/><circle cx="449.2" cy="208.81" r="2.08"/><circle cx="461.01" cy="208.99" r="2.17"/><circle cx="472.4" cy="208.86" r="2.52"/><circle cx="483.65" cy="209.02" r="2.47"/><circle cx="506.9" cy="208.64" r="2.27"/><circle cx="517.83" cy="209.06" r="2.39"/><circle cx="529.44" cy="208.87" r="2.24"/><circle cx="420.81" cy="215.06" r="2.51"/><circle cx="432.07" cy="215.03" r="2.36"/><circle cx="443.55" cy="214.79" r="2.6"/><circle cx="455.06" cy="214.69" r="2.25"/><circle cx="466.23" cy="214.7" r="2.34"/><circle cx="489.16" cy="214.7" r="2.46"/><circle cx="500.77" cy="215.04" r="2.21"/><circle cx="524.1" cy="214.86" r="2.24"/><circle cx="535.15" cy="214.99" r="2.05"/><circle cx="426.38" cy="220.66" r="2.6"/><circle cx="437.82" cy="220.9" r="2.14"/><circle cx="460.52" cy="220.55" r="2.37"/><circle cx="494.98" cy="220.54" r="2.08"/><circle cx="529.48" cy="220.65" r="2.37"/></g>
</g>
<g fill="#A87ABB">
<polygon points="491.45,207 491.45,116 496.5,116 489.3,89.5 482.1,116 487.15,116 487.15,207"/>
<polygon points="543,188.65 454.5,188.65 454.5,181.9 431.5,190.9 454.5,199.9 454.5,193.15 543,193.15"/>
<polygon points="500,75.85 536.3,75.85 536.3,81.2 558.3,73.6 536.3,66 536.3,71.35 500,71.35"/>
<polygon points="562.85,88.5 562.85,146.5 558.3,146.5 565,172.5 571.7,146.5 567.15,146.5 567.15,88.5"/>
</g>
</g>
<rect x="367.6" y="22.4" width="283.9" height="251.4" fill="none" stroke="#222" stroke-width="1"/>
<path d="M367.75 273.8v2.8M408.3 273.8v5.2M448.85 273.8v2.8M489.4 273.8v5.2M529.95 273.8v2.8M570.5 273.8v5.2M611.05 273.8v2.8M651.6 273.8v5.2M367.6 260.83h-2.8M367.6 231.5h-5.2M367.6 202.17h-2.8M367.6 172.84h-5.2M367.6 143.51h-2.8M367.6 114.18h-5.2M367.6 84.85h-2.8M367.6 55.52h-5.2M367.6 26.19h-2.8" stroke="#1a1a1a" stroke-width="1.1" fill="none"/>
<text transform="translate(395.17 296.4) scale(1.28 1)" font-size="15.5">−</text><text transform="translate(407.07 294.8) scale(0.9 1)" font-size="15.5">10</text>
<text transform="translate(485.91 294.8) scale(0.9 1)" font-size="15.5">0</text>
<text transform="translate(563.52 294.8) scale(0.9 1)" font-size="15.5">10</text>
<text transform="translate(644.62 294.8) scale(0.9 1)" font-size="15.5">20</text>
<text transform="translate(348.62 236.7) scale(0.9 1)" font-size="15.5">0</text>
<text transform="translate(348.62 178.04) scale(0.9 1)" font-size="15.5">7</text>
<text transform="translate(341.65 119.38) scale(0.9 1)" font-size="15.5">14</text>
<text transform="translate(341.65 60.72) scale(0.9 1)" font-size="15.5">21</text>
<text x="523" y="310.3" font-size="14.5" text-anchor="middle"><tspan font-style="italic">X</tspan>(<tspan font-style="italic">a</tspan>)</text>
<text transform="translate(340.2 152.7) rotate(-90)" font-size="14.5" text-anchor="middle"><tspan font-style="italic">Y</tspan>(<tspan font-style="italic">a</tspan>)</text>
<text x="523" y="12.3" font-size="14.7" text-anchor="middle">(b)</text>
<rect x="656.1" y="22.7" width="11.6" height="9.92" fill="#EF4A24"/><rect x="656.1" y="32.32" width="11.6" height="9.92" fill="#F05423"/><rect x="656.1" y="41.95" width="11.6" height="9.92" fill="#F26A22"/><rect x="656.1" y="51.57" width="11.6" height="9.92" fill="#F5852A"/><rect x="656.1" y="61.19" width="11.6" height="9.92" fill="#F89E28"/><rect x="656.1" y="70.82" width="11.6" height="9.92" fill="#FDC525"/><rect x="656.1" y="80.44" width="11.6" height="9.92" fill="#FFDF20"/><rect x="656.1" y="90.06" width="11.6" height="9.92" fill="#CEDC36"/><rect x="656.1" y="99.68" width="11.6" height="9.92" fill="#A9CF43"/><rect x="656.1" y="109.31" width="11.6" height="9.92" fill="#8FC548"/><rect x="656.1" y="118.93" width="11.6" height="9.92" fill="#7FC14E"/><rect x="656.1" y="128.55" width="11.6" height="9.92" fill="#74BF54"/><rect x="656.1" y="138.18" width="11.6" height="9.92" fill="#6DBE58"/><rect x="656.1" y="147.8" width="11.6" height="9.92" fill="#6ABD5A"/><rect x="656.1" y="157.42" width="11.6" height="9.92" fill="#72C162"/><rect x="656.1" y="167.05" width="11.6" height="9.92" fill="#7CC57A"/><rect x="656.1" y="176.67" width="11.6" height="9.92" fill="#8ACDA0"/><rect x="656.1" y="186.29" width="11.6" height="9.92" fill="#98D5BE"/><rect x="656.1" y="195.92" width="11.6" height="9.92" fill="#A2DAD8"/><rect x="656.1" y="205.54" width="11.6" height="9.92" fill="#6CC4EC"/><rect x="656.1" y="215.16" width="11.6" height="9.92" fill="#6D9BD4"/><rect x="656.1" y="224.78" width="11.6" height="9.92" fill="#6A80C2"/><rect x="656.1" y="234.41" width="11.6" height="9.92" fill="#5A66B2"/><rect x="656.1" y="244.03" width="11.6" height="9.92" fill="#4A57A8"/><rect x="656.1" y="253.65" width="11.6" height="9.92" fill="#4551A2"/><rect x="656.1" y="263.28" width="11.6" height="9.62" fill="#000000"/>
<text transform="translate(677.51 67.9) scale(0.9 1)" font-size="15.5">2</text>
<text transform="translate(677.51 169.2) scale(0.9 1)" font-size="15.5">1</text>
<text transform="translate(677.51 271.7) scale(0.9 1)" font-size="15.5">0</text>
<g clip-path="url(#cd)">
<rect x="364" y="358" width="288" height="271" fill="#4652A3"/>
<g filter="url(#b1)">
<ellipse cx="400" cy="560" rx="72" ry="62" fill="#4A57A8"/>
<ellipse cx="390" cy="578" rx="56" ry="54" fill="#5A66B2"/>
<ellipse cx="457" cy="612" rx="56" ry="34" fill="#5A66B2"/>
<polygon points="360,588 405,594 428,606 436,630 360,630" fill="#6A80C2"/>
<ellipse cx="398" cy="612" rx="6" ry="22" fill="#5A66B2" transform="rotate(-35 398 612)"/>
<ellipse cx="378" cy="612" rx="5" ry="20" fill="#5A66B2" transform="rotate(-35 378 612)"/>
<ellipse cx="395" cy="600" rx="30" ry="12" fill="#6A80C2" transform="rotate(30 395 600)"/>
<ellipse cx="385" cy="520" rx="26" ry="9" fill="#5A66B2" transform="rotate(20 385 520)"/>
<ellipse cx="560" cy="590" rx="12" ry="50" fill="#4A57A8" transform="rotate(-40 560 590)"/>
<ellipse cx="600" cy="540" rx="12" ry="50" fill="#4A57A8" transform="rotate(-45 600 540)"/>
<ellipse cx="470" cy="440" rx="12" ry="50" fill="#4A57A8" transform="rotate(-45 470 440)"/>
<ellipse cx="430" cy="480" rx="12" ry="45" fill="#4A57A8" transform="rotate(-50 430 480)"/>
<ellipse cx="457.5" cy="607" rx="40" ry="30" fill="#6A80C2"/>
<ellipse cx="457.5" cy="607" rx="35" ry="28" fill="#6D9BD4"/>
<ellipse cx="457.5" cy="607" rx="31" ry="26" fill="#6CC4EC"/>
<polygon points="358,515 424,532 424,572 358,590" fill="#6A80C2"/>
<polygon points="358,526 424,536 424,568 358,580" fill="#6D9BD4"/>
<polygon points="358,531 424,539 424,565 358,575" fill="#6CC4EC"/>
<polygon points="358,537 424,541 424,563 358,569.5" fill="#A2DAD8"/>
<ellipse cx="419" cy="553" rx="30" ry="9" fill="#98D5BE"/>
<ellipse cx="419" cy="552.5" rx="19" ry="5.5" fill="#8ACDA0"/>
<ellipse cx="457.8" cy="608.7" rx="31.5" ry="14.5" fill="#6A80C2"/><ellipse cx="457.8" cy="608.7" rx="29.54" ry="13.6" fill="#6D9BD4"/><ellipse cx="457.8" cy="608.7" rx="27.84" ry="12.82" fill="#6CC4EC"/><ellipse cx="457.8" cy="608.7" rx="26.32" ry="12.11" fill="#A2DAD8"/><ellipse cx="457.8" cy="608.7" rx="24.92" ry="11.47" fill="#98D5BE"/><ellipse cx="457.8" cy="608.7" rx="23.62" ry="10.87" fill="#8ACDA0"/><ellipse cx="457.8" cy="608.7" rx="22.39" ry="10.31" fill="#7CC57A"/><ellipse cx="457.8" cy="608.7" rx="21.22" ry="9.77" fill="#72C162"/><ellipse cx="457.8" cy="608.7" rx="20.09" ry="9.25" fill="#6ABD5A"/><ellipse cx="457.8" cy="608.7" rx="19" ry="8.74" fill="#6DBE58"/><ellipse cx="457.8" cy="608.7" rx="17.92" ry="8.25" fill="#74BF54"/><ellipse cx="457.8" cy="608.7" rx="16.86" ry="7.76" fill="#7FC14E"/><ellipse cx="457.8" cy="608.7" rx="15.8" ry="7.27" fill="#8FC548"/><ellipse cx="457.8" cy="608.7" rx="14.74" ry="6.78" fill="#A9CF43"/><ellipse cx="457.8" cy="608.7" rx="13.66" ry="6.29" fill="#CEDC36"/><ellipse cx="457.8" cy="608.7" rx="12.55" ry="5.78" fill="#FFDF20"/><ellipse cx="457.8" cy="608.7" rx="11.41" ry="5.25" fill="#FDC525"/><ellipse cx="457.8" cy="608.7" rx="10.2" ry="4.69" fill="#F89E28"/><ellipse cx="457.8" cy="608.7" rx="8.89" ry="4.09" fill="#F5852A"/><ellipse cx="457.8" cy="608.7" rx="7.43" ry="3.42" fill="#F26A22"/><ellipse cx="457.8" cy="608.7" rx="5.7" ry="2.62" fill="#F05423"/><ellipse cx="457.8" cy="608.7" rx="3.26" ry="1.5" fill="#EF4A24"/>
<ellipse cx="457.8" cy="585.5" rx="28" ry="12" fill="#6A80C2"/><ellipse cx="457.8" cy="585.5" rx="26.26" ry="11.25" fill="#6D9BD4"/><ellipse cx="457.8" cy="585.5" rx="24.75" ry="10.61" fill="#6CC4EC"/><ellipse cx="457.8" cy="585.5" rx="23.39" ry="10.02" fill="#A2DAD8"/><ellipse cx="457.8" cy="585.5" rx="22.15" ry="9.49" fill="#98D5BE"/><ellipse cx="457.8" cy="585.5" rx="20.99" ry="9" fill="#8ACDA0"/><ellipse cx="457.8" cy="585.5" rx="19.9" ry="8.53" fill="#7CC57A"/><ellipse cx="457.8" cy="585.5" rx="18.86" ry="8.08" fill="#72C162"/><ellipse cx="457.8" cy="585.5" rx="17.86" ry="7.65" fill="#6ABD5A"/><ellipse cx="457.8" cy="585.5" rx="16.89" ry="7.24" fill="#6DBE58"/><ellipse cx="457.8" cy="585.5" rx="15.93" ry="6.83" fill="#74BF54"/><ellipse cx="457.8" cy="585.5" rx="14.99" ry="6.42" fill="#7FC14E"/><ellipse cx="457.8" cy="585.5" rx="14.05" ry="6.02" fill="#8FC548"/><ellipse cx="457.8" cy="585.5" rx="13.1" ry="5.61" fill="#A9CF43"/><ellipse cx="457.8" cy="585.5" rx="12.14" ry="5.2" fill="#CEDC36"/><ellipse cx="457.8" cy="585.5" rx="11.16" ry="4.78" fill="#FFDF20"/><ellipse cx="457.8" cy="585.5" rx="10.14" ry="4.35" fill="#FDC525"/><ellipse cx="457.8" cy="585.5" rx="9.07" ry="3.89" fill="#F89E28"/><ellipse cx="457.8" cy="585.5" rx="7.9" ry="3.39" fill="#F5852A"/><ellipse cx="457.8" cy="585.5" rx="6.61" ry="2.83" fill="#F26A22"/><ellipse cx="457.8" cy="585.5" rx="5.07" ry="2.17" fill="#F05423"/><ellipse cx="457.8" cy="585.5" rx="2.9" ry="1.24" fill="#EF4A24"/>
<ellipse cx="457.8" cy="631.5" rx="38" ry="15" fill="#6A80C2"/><ellipse cx="457.8" cy="631.5" rx="34.55" ry="13.64" fill="#6D9BD4"/><ellipse cx="457.8" cy="631.5" rx="31.45" ry="12.42" fill="#6CC4EC"/><ellipse cx="457.8" cy="631.5" rx="28.58" ry="11.28" fill="#A2DAD8"/><ellipse cx="457.8" cy="631.5" rx="25.82" ry="10.19" fill="#98D5BE"/><ellipse cx="457.8" cy="631.5" rx="23.12" ry="9.13" fill="#8ACDA0"/><ellipse cx="457.8" cy="631.5" rx="20.41" ry="8.06" fill="#7CC57A"/><ellipse cx="457.8" cy="631.5" rx="17.6" ry="6.95" fill="#72C162"/><ellipse cx="457.8" cy="631.5" rx="14.57" ry="5.75" fill="#6ABD5A"/><ellipse cx="457.8" cy="631.5" rx="11.07" ry="4.37" fill="#6DBE58"/><ellipse cx="457.8" cy="631.5" rx="6.27" ry="2.48" fill="#74BF54"/>
<ellipse cx="528.8" cy="383.1" rx="4.8" ry="25" fill="#4A57A8" transform="rotate(-58.5 528.8 383.1)"/><ellipse cx="534.8" cy="389.1" rx="4.08" ry="17" fill="#5A66B2" transform="rotate(-58.5 534.8 389.1)"/><ellipse cx="546.8" cy="401.1" rx="4.03" ry="5.94" fill="#6A80C2" transform="rotate(-45 546.8 401.1)"/>
<ellipse cx="517.9" cy="394.7" rx="4.8" ry="25" fill="#4A57A8" transform="rotate(-58.5 517.9 394.7)"/><ellipse cx="523.9" cy="400.7" rx="4.08" ry="17" fill="#5A66B2" transform="rotate(-58.5 523.9 400.7)"/><ellipse cx="528.4" cy="405.2" rx="3.6" ry="10.5" fill="#6A80C2" transform="rotate(-58.5 528.4 405.2)"/><ellipse cx="535.9" cy="412.7" rx="4.03" ry="5.94" fill="#6D9BD4" transform="rotate(-45 535.9 412.7)"/><ellipse cx="535.9" cy="412.7" rx="2.23" ry="3.28" fill="#6CC4EC" transform="rotate(-45 535.9 412.7)"/>
<ellipse cx="507" cy="406.3" rx="4.8" ry="25" fill="#4A57A8" transform="rotate(-58.5 507 406.3)"/><ellipse cx="513" cy="412.3" rx="4.08" ry="17" fill="#5A66B2" transform="rotate(-58.5 513 412.3)"/><ellipse cx="517.5" cy="416.8" rx="3.6" ry="10.5" fill="#6A80C2" transform="rotate(-58.5 517.5 416.8)"/><ellipse cx="525" cy="424.3" rx="4.03" ry="5.94" fill="#6D9BD4" transform="rotate(-45 525 424.3)"/><ellipse cx="525" cy="424.3" rx="2.23" ry="3.28" fill="#6CC4EC" transform="rotate(-45 525 424.3)"/>
<ellipse cx="496.1" cy="417.9" rx="4.8" ry="25" fill="#4A57A8" transform="rotate(-58.5 496.1 417.9)"/><ellipse cx="502.1" cy="423.9" rx="4.08" ry="17" fill="#5A66B2" transform="rotate(-58.5 502.1 423.9)"/><ellipse cx="506.6" cy="428.4" rx="3.6" ry="10.5" fill="#6A80C2" transform="rotate(-58.5 506.6 428.4)"/><ellipse cx="514.1" cy="435.9" rx="4.03" ry="5.94" fill="#6D9BD4" transform="rotate(-45 514.1 435.9)"/><ellipse cx="514.1" cy="435.9" rx="2.23" ry="3.28" fill="#6CC4EC" transform="rotate(-45 514.1 435.9)"/>
<ellipse cx="485.2" cy="429.5" rx="4.8" ry="25" fill="#4A57A8" transform="rotate(-58.5 485.2 429.5)"/><ellipse cx="491.2" cy="435.5" rx="4.08" ry="17" fill="#5A66B2" transform="rotate(-58.5 491.2 435.5)"/><ellipse cx="495.7" cy="440" rx="3.6" ry="10.5" fill="#6A80C2" transform="rotate(-58.5 495.7 440)"/><ellipse cx="503.2" cy="447.5" rx="4.03" ry="5.94" fill="#6D9BD4" transform="rotate(-45 503.2 447.5)"/><ellipse cx="503.2" cy="447.5" rx="2.23" ry="3.28" fill="#6CC4EC" transform="rotate(-45 503.2 447.5)"/>
<ellipse cx="474.3" cy="441.1" rx="4.8" ry="25" fill="#4A57A8" transform="rotate(-58.5 474.3 441.1)"/><ellipse cx="480.3" cy="447.1" rx="4.08" ry="17" fill="#5A66B2" transform="rotate(-58.5 480.3 447.1)"/><ellipse cx="484.8" cy="451.6" rx="3.6" ry="10.5" fill="#6A80C2" transform="rotate(-58.5 484.8 451.6)"/><ellipse cx="492.3" cy="459.1" rx="4.03" ry="5.94" fill="#6D9BD4" transform="rotate(-45 492.3 459.1)"/><ellipse cx="492.3" cy="459.1" rx="2.23" ry="3.28" fill="#6CC4EC" transform="rotate(-45 492.3 459.1)"/>
<ellipse cx="463.4" cy="452.7" rx="4.8" ry="25" fill="#4A57A8" transform="rotate(-58.5 463.4 452.7)"/><ellipse cx="469.4" cy="458.7" rx="4.08" ry="17" fill="#5A66B2" transform="rotate(-58.5 469.4 458.7)"/><ellipse cx="473.9" cy="463.2" rx="3.6" ry="10.5" fill="#6A80C2" transform="rotate(-58.5 473.9 463.2)"/><ellipse cx="481.4" cy="470.7" rx="4.03" ry="5.94" fill="#6D9BD4" transform="rotate(-45 481.4 470.7)"/><ellipse cx="481.4" cy="470.7" rx="2.23" ry="3.28" fill="#6CC4EC" transform="rotate(-45 481.4 470.7)"/>
<ellipse cx="452.5" cy="464.3" rx="4.8" ry="25" fill="#4A57A8" transform="rotate(-58.5 452.5 464.3)"/><ellipse cx="458.5" cy="470.3" rx="4.08" ry="17" fill="#5A66B2" transform="rotate(-58.5 458.5 470.3)"/><ellipse cx="463" cy="474.8" rx="3.6" ry="10.5" fill="#6A80C2" transform="rotate(-58.5 463 474.8)"/><ellipse cx="470.5" cy="482.3" rx="4.03" ry="5.94" fill="#6D9BD4" transform="rotate(-45 470.5 482.3)"/><ellipse cx="470.5" cy="482.3" rx="2.23" ry="3.28" fill="#6CC4EC" transform="rotate(-45 470.5 482.3)"/>
<ellipse cx="441.6" cy="475.9" rx="4.8" ry="25" fill="#4A57A8" transform="rotate(-58.5 441.6 475.9)"/><ellipse cx="447.6" cy="481.9" rx="4.08" ry="17" fill="#5A66B2" transform="rotate(-58.5 447.6 481.9)"/><ellipse cx="452.1" cy="486.4" rx="3.6" ry="10.5" fill="#6A80C2" transform="rotate(-58.5 452.1 486.4)"/><ellipse cx="459.6" cy="493.9" rx="4.03" ry="5.94" fill="#6D9BD4" transform="rotate(-45 459.6 493.9)"/><ellipse cx="459.6" cy="493.9" rx="2.23" ry="3.28" fill="#6CC4EC" transform="rotate(-45 459.6 493.9)"/>
<ellipse cx="430.7" cy="487.5" rx="4.8" ry="25" fill="#4A57A8" transform="rotate(-58.5 430.7 487.5)"/><ellipse cx="436.7" cy="493.5" rx="4.08" ry="17" fill="#5A66B2" transform="rotate(-58.5 436.7 493.5)"/><ellipse cx="441.2" cy="498" rx="3.6" ry="10.5" fill="#6A80C2" transform="rotate(-58.5 441.2 498)"/><ellipse cx="448.7" cy="505.5" rx="4.03" ry="5.94" fill="#6D9BD4" transform="rotate(-45 448.7 505.5)"/><ellipse cx="448.7" cy="505.5" rx="2.23" ry="3.28" fill="#6CC4EC" transform="rotate(-45 448.7 505.5)"/>
<ellipse cx="419.8" cy="499.1" rx="4.8" ry="25" fill="#4A57A8" transform="rotate(-58.5 419.8 499.1)"/><ellipse cx="425.8" cy="505.1" rx="4.08" ry="17" fill="#5A66B2" transform="rotate(-58.5 425.8 505.1)"/><ellipse cx="430.3" cy="509.6" rx="3.6" ry="10.5" fill="#6A80C2" transform="rotate(-58.5 430.3 509.6)"/><ellipse cx="437.8" cy="517.1" rx="4.03" ry="5.94" fill="#6D9BD4" transform="rotate(-45 437.8 517.1)"/><ellipse cx="437.8" cy="517.1" rx="2.23" ry="3.28" fill="#6CC4EC" transform="rotate(-45 437.8 517.1)"/>
<ellipse cx="408.9" cy="510.7" rx="4.8" ry="25" fill="#4A57A8" transform="rotate(-58.5 408.9 510.7)"/><ellipse cx="414.9" cy="516.7" rx="4.08" ry="17" fill="#5A66B2" transform="rotate(-58.5 414.9 516.7)"/><ellipse cx="426.9" cy="528.7" rx="4.03" ry="5.94" fill="#6A80C2" transform="rotate(-45 426.9 528.7)"/>
<ellipse cx="581.8" cy="391.6" rx="4.5" ry="14" fill="#4A57A8" transform="rotate(52 581.8 391.6)"/><ellipse cx="578.6" cy="395.2" rx="3.82" ry="9.52" fill="#5A66B2" transform="rotate(52 578.6 395.2)"/><ellipse cx="576.2" cy="397.9" rx="3.38" ry="5.88" fill="#6A80C2" transform="rotate(52 576.2 397.9)"/><ellipse cx="572.2" cy="402.4" rx="4.03" ry="5.94" fill="#6D9BD4" transform="rotate(40 572.2 402.4)"/><ellipse cx="572.2" cy="402.4" rx="2.23" ry="3.28" fill="#6CC4EC" transform="rotate(40 572.2 402.4)"/>
<ellipse cx="592.8" cy="403.5" rx="4.5" ry="14" fill="#4A57A8" transform="rotate(52 592.8 403.5)"/><ellipse cx="589.6" cy="407.1" rx="3.82" ry="9.52" fill="#5A66B2" transform="rotate(52 589.6 407.1)"/><ellipse cx="587.2" cy="409.8" rx="3.38" ry="5.88" fill="#6A80C2" transform="rotate(52 587.2 409.8)"/><ellipse cx="583.2" cy="414.3" rx="4.03" ry="5.94" fill="#6D9BD4" transform="rotate(40 583.2 414.3)"/><ellipse cx="583.2" cy="414.3" rx="2.23" ry="3.28" fill="#6CC4EC" transform="rotate(40 583.2 414.3)"/>
<ellipse cx="603.8" cy="415.4" rx="4.5" ry="14" fill="#4A57A8" transform="rotate(52 603.8 415.4)"/><ellipse cx="600.6" cy="419" rx="3.82" ry="9.52" fill="#5A66B2" transform="rotate(52 600.6 419)"/><ellipse cx="598.2" cy="421.7" rx="3.38" ry="5.88" fill="#6A80C2" transform="rotate(52 598.2 421.7)"/><ellipse cx="594.2" cy="426.2" rx="4.03" ry="5.94" fill="#6D9BD4" transform="rotate(40 594.2 426.2)"/><ellipse cx="594.2" cy="426.2" rx="2.23" ry="3.28" fill="#6CC4EC" transform="rotate(40 594.2 426.2)"/>
<ellipse cx="614.8" cy="427.3" rx="4.5" ry="14" fill="#4A57A8" transform="rotate(52 614.8 427.3)"/><ellipse cx="611.6" cy="430.9" rx="3.82" ry="9.52" fill="#5A66B2" transform="rotate(52 611.6 430.9)"/><ellipse cx="605.2" cy="438.1" rx="4.03" ry="5.94" fill="#6A80C2" transform="rotate(40 605.2 438.1)"/>
<ellipse cx="621.75" cy="468.9" rx="5" ry="13" fill="#4A57A8" transform="rotate(-58.5 621.75 468.9)"/><ellipse cx="618.55" cy="465.7" rx="4.25" ry="8.84" fill="#5A66B2" transform="rotate(-58.5 618.55 465.7)"/><ellipse cx="612.15" cy="459.3" rx="4.03" ry="5.94" fill="#6A80C2" transform="rotate(-45 612.15 459.3)"/>
<ellipse cx="610.9" cy="480.4" rx="5" ry="13" fill="#4A57A8" transform="rotate(-58.5 610.9 480.4)"/><ellipse cx="607.7" cy="477.2" rx="4.25" ry="8.84" fill="#5A66B2" transform="rotate(-58.5 607.7 477.2)"/><ellipse cx="605.3" cy="474.8" rx="3.75" ry="5.46" fill="#6A80C2" transform="rotate(-58.5 605.3 474.8)"/><ellipse cx="601.3" cy="470.8" rx="4.03" ry="5.94" fill="#6D9BD4" transform="rotate(-45 601.3 470.8)"/><ellipse cx="601.3" cy="470.8" rx="2.23" ry="3.28" fill="#6CC4EC" transform="rotate(-45 601.3 470.8)"/>
<ellipse cx="600.05" cy="491.9" rx="5" ry="13" fill="#4A57A8" transform="rotate(-58.5 600.05 491.9)"/><ellipse cx="596.85" cy="488.7" rx="4.25" ry="8.84" fill="#5A66B2" transform="rotate(-58.5 596.85 488.7)"/><ellipse cx="594.45" cy="486.3" rx="3.75" ry="5.46" fill="#6A80C2" transform="rotate(-58.5 594.45 486.3)"/><ellipse cx="590.45" cy="482.3" rx="4.03" ry="5.94" fill="#6D9BD4" transform="rotate(-45 590.45 482.3)"/><ellipse cx="590.45" cy="482.3" rx="2.23" ry="3.28" fill="#6CC4EC" transform="rotate(-45 590.45 482.3)"/>
<ellipse cx="589.2" cy="503.4" rx="5" ry="13" fill="#4A57A8" transform="rotate(-58.5 589.2 503.4)"/><ellipse cx="586" cy="500.2" rx="4.25" ry="8.84" fill="#5A66B2" transform="rotate(-58.5 586 500.2)"/><ellipse cx="583.6" cy="497.8" rx="3.75" ry="5.46" fill="#6A80C2" transform="rotate(-58.5 583.6 497.8)"/><ellipse cx="579.6" cy="493.8" rx="4.03" ry="5.94" fill="#6D9BD4" transform="rotate(-45 579.6 493.8)"/><ellipse cx="579.6" cy="493.8" rx="2.23" ry="3.28" fill="#6CC4EC" transform="rotate(-45 579.6 493.8)"/>
<ellipse cx="578.35" cy="514.9" rx="5" ry="13" fill="#4A57A8" transform="rotate(-58.5 578.35 514.9)"/><ellipse cx="575.15" cy="511.7" rx="4.25" ry="8.84" fill="#5A66B2" transform="rotate(-58.5 575.15 511.7)"/><ellipse cx="572.75" cy="509.3" rx="3.75" ry="5.46" fill="#6A80C2" transform="rotate(-58.5 572.75 509.3)"/><ellipse cx="568.75" cy="505.3" rx="4.03" ry="5.94" fill="#6D9BD4" transform="rotate(-45 568.75 505.3)"/><ellipse cx="568.75" cy="505.3" rx="2.23" ry="3.28" fill="#6CC4EC" transform="rotate(-45 568.75 505.3)"/>
<ellipse cx="567.5" cy="526.4" rx="5" ry="13" fill="#4A57A8" transform="rotate(-58.5 567.5 526.4)"/><ellipse cx="564.3" cy="523.2" rx="4.25" ry="8.84" fill="#5A66B2" transform="rotate(-58.5 564.3 523.2)"/><ellipse cx="561.9" cy="520.8" rx="3.75" ry="5.46" fill="#6A80C2" transform="rotate(-58.5 561.9 520.8)"/><ellipse cx="557.9" cy="516.8" rx="4.03" ry="5.94" fill="#6D9BD4" transform="rotate(-45 557.9 516.8)"/><ellipse cx="557.9" cy="516.8" rx="2.23" ry="3.28" fill="#6CC4EC" transform="rotate(-45 557.9 516.8)"/>
<ellipse cx="556.65" cy="537.9" rx="5" ry="13" fill="#4A57A8" transform="rotate(-58.5 556.65 537.9)"/><ellipse cx="553.45" cy="534.7" rx="4.25" ry="8.84" fill="#5A66B2" transform="rotate(-58.5 553.45 534.7)"/><ellipse cx="551.05" cy="532.3" rx="3.75" ry="5.46" fill="#6A80C2" transform="rotate(-58.5 551.05 532.3)"/><ellipse cx="547.05" cy="528.3" rx="4.03" ry="5.94" fill="#6D9BD4" transform="rotate(-45 547.05 528.3)"/><ellipse cx="547.05" cy="528.3" rx="2.23" ry="3.28" fill="#6CC4EC" transform="rotate(-45 547.05 528.3)"/>
<ellipse cx="545.8" cy="549.4" rx="5" ry="13" fill="#4A57A8" transform="rotate(-58.5 545.8 549.4)"/><ellipse cx="542.6" cy="546.2" rx="4.25" ry="8.84" fill="#5A66B2" transform="rotate(-58.5 542.6 546.2)"/><ellipse cx="540.2" cy="543.8" rx="3.75" ry="5.46" fill="#6A80C2" transform="rotate(-58.5 540.2 543.8)"/><ellipse cx="536.2" cy="539.8" rx="4.03" ry="5.94" fill="#6D9BD4" transform="rotate(-45 536.2 539.8)"/><ellipse cx="536.2" cy="539.8" rx="2.23" ry="3.28" fill="#6CC4EC" transform="rotate(-45 536.2 539.8)"/>
<ellipse cx="534.95" cy="560.9" rx="5" ry="13" fill="#4A57A8" transform="rotate(-58.5 534.95 560.9)"/><ellipse cx="531.75" cy="557.7" rx="4.25" ry="8.84" fill="#5A66B2" transform="rotate(-58.5 531.75 557.7)"/><ellipse cx="529.35" cy="555.3" rx="3.75" ry="5.46" fill="#6A80C2" transform="rotate(-58.5 529.35 555.3)"/><ellipse cx="525.35" cy="551.3" rx="4.03" ry="5.94" fill="#6D9BD4" transform="rotate(-45 525.35 551.3)"/><ellipse cx="525.35" cy="551.3" rx="2.23" ry="3.28" fill="#6CC4EC" transform="rotate(-45 525.35 551.3)"/>
<ellipse cx="524.1" cy="572.4" rx="5" ry="13" fill="#4A57A8" transform="rotate(-58.5 524.1 572.4)"/><ellipse cx="520.9" cy="569.2" rx="4.25" ry="8.84" fill="#5A66B2" transform="rotate(-58.5 520.9 569.2)"/><ellipse cx="518.5" cy="566.8" rx="3.75" ry="5.46" fill="#6A80C2" transform="rotate(-58.5 518.5 566.8)"/><ellipse cx="514.5" cy="562.8" rx="4.03" ry="5.94" fill="#6D9BD4" transform="rotate(-45 514.5 562.8)"/><ellipse cx="514.5" cy="562.8" rx="2.23" ry="3.28" fill="#6CC4EC" transform="rotate(-45 514.5 562.8)"/>
<ellipse cx="513.25" cy="583.9" rx="5" ry="13" fill="#4A57A8" transform="rotate(-58.5 513.25 583.9)"/><ellipse cx="510.05" cy="580.7" rx="4.25" ry="8.84" fill="#5A66B2" transform="rotate(-58.5 510.05 580.7)"/><ellipse cx="503.65" cy="574.3" rx="4.03" ry="5.94" fill="#6A80C2" transform="rotate(-45 503.65 574.3)"/>
</g>
<g filter="url(#b1)">
<g fill="#3842a6"><circle cx="560.6" cy="392.9" r="5.6"/><circle cx="555.19" cy="398.63" r="5.6"/><circle cx="566.01" cy="398.63" r="5.6"/><circle cx="549.78" cy="404.36" r="5.6"/><circle cx="560.6" cy="404.36" r="5.6"/><circle cx="571.42" cy="404.36" r="5.6"/><circle cx="544.37" cy="410.09" r="5.6"/><circle cx="555.19" cy="410.09" r="5.6"/><circle cx="566.01" cy="410.09" r="5.6"/><circle cx="576.83" cy="410.09" r="5.6"/><circle cx="538.96" cy="415.82" r="5.6"/><circle cx="549.78" cy="415.82" r="5.6"/><circle cx="560.6" cy="415.82" r="5.6"/><circle cx="571.42" cy="415.82" r="5.6"/><circle cx="582.24" cy="415.82" r="5.6"/><circle cx="533.55" cy="421.55" r="5.6"/><circle cx="544.37" cy="421.55" r="5.6"/><circle cx="555.19" cy="421.55" r="5.6"/><circle cx="566.01" cy="421.55" r="5.6"/><circle cx="576.83" cy="421.55" r="5.6"/><circle cx="587.65" cy="421.55" r="5.6"/><circle cx="528.14" cy="427.28" r="5.6"/><circle cx="538.96" cy="427.28" r="5.6"/><circle cx="549.78" cy="427.28" r="5.6"/><circle cx="560.6" cy="427.28" r="5.6"/><circle cx="571.42" cy="427.28" r="5.6"/><circle cx="582.24" cy="427.28" r="5.6"/><circle cx="593.06" cy="427.28" r="5.6"/><circle cx="522.73" cy="433.01" r="5.6"/><circle cx="533.55" cy="433.01" r="5.6"/><circle cx="544.37" cy="433.01" r="5.6"/><circle cx="555.19" cy="433.01" r="5.6"/><circle cx="566.01" cy="433.01" r="5.6"/><circle cx="576.83" cy="433.01" r="5.6"/><circle cx="587.65" cy="433.01" r="5.6"/><circle cx="598.47" cy="433.01" r="5.6"/><circle cx="517.32" cy="438.74" r="5.6"/><circle cx="528.14" cy="438.74" r="5.6"/><circle cx="538.96" cy="438.74" r="5.6"/><circle cx="549.78" cy="438.74" r="5.6"/><circle cx="560.6" cy="438.74" r="5.6"/><circle cx="571.42" cy="438.74" r="5.6"/><circle cx="582.24" cy="438.74" r="5.6"/><circle cx="593.06" cy="438.74" r="5.6"/><circle cx="603.88" cy="438.74" r="5.6"/><circle cx="511.91" cy="444.47" r="5.6"/><circle cx="522.73" cy="444.47" r="5.6"/><circle cx="533.55" cy="444.47" r="5.6"/><circle cx="544.37" cy="444.47" r="5.6"/><circle cx="555.19" cy="444.47" r="5.6"/><circle cx="566.01" cy="444.47" r="5.6"/><circle cx="576.83" cy="444.47" r="5.6"/><circle cx="587.65" cy="444.47" r="5.6"/><circle cx="598.47" cy="444.47" r="5.6"/><circle cx="609.29" cy="444.47" r="5.6"/><circle cx="506.5" cy="450.2" r="5.6"/><circle cx="517.32" cy="450.2" r="5.6"/><circle cx="528.14" cy="450.2" r="5.6"/><circle cx="538.96" cy="450.2" r="5.6"/><circle cx="549.78" cy="450.2" r="5.6"/><circle cx="560.6" cy="450.2" r="5.6"/><circle cx="571.42" cy="450.2" r="5.6"/><circle cx="582.24" cy="450.2" r="5.6"/><circle cx="593.06" cy="450.2" r="5.6"/><circle cx="603.88" cy="450.2" r="5.6"/><circle cx="614.7" cy="450.2" r="5.6"/><circle cx="501.09" cy="455.93" r="5.6"/><circle cx="511.91" cy="455.93" r="5.6"/><circle cx="522.73" cy="455.93" r="5.6"/><circle cx="533.55" cy="455.93" r="5.6"/><circle cx="544.37" cy="455.93" r="5.6"/><circle cx="555.19" cy="455.93" r="5.6"/><circle cx="566.01" cy="455.93" r="5.6"/><circle cx="576.83" cy="455.93" r="5.6"/><circle cx="587.65" cy="455.93" r="5.6"/><circle cx="598.47" cy="455.93" r="5.6"/><circle cx="609.29" cy="455.93" r="5.6"/><circle cx="495.68" cy="461.66" r="5.6"/><circle cx="506.5" cy="461.66" r="5.6"/><circle cx="517.32" cy="461.66" r="5.6"/><circle cx="528.14" cy="461.66" r="5.6"/><circle cx="538.96" cy="461.66" r="5.6"/><circle cx="549.78" cy="461.66" r="5.6"/><circle cx="560.6" cy="461.66" r="5.6"/><circle cx="571.42" cy="461.66" r="5.6"/><circle cx="582.24" cy="461.66" r="5.6"/><circle cx="593.06" cy="461.66" r="5.6"/><circle cx="603.88" cy="461.66" r="5.6"/><circle cx="490.27" cy="467.39" r="5.6"/><circle cx="501.09" cy="467.39" r="5.6"/><circle cx="511.91" cy="467.39" r="5.6"/><circle cx="522.73" cy="467.39" r="5.6"/><circle cx="533.55" cy="467.39" r="5.6"/><circle cx="544.37" cy="467.39" r="5.6"/><circle cx="555.19" cy="467.39" r="5.6"/><circle cx="566.01" cy="467.39" r="5.6"/><circle cx="576.83" cy="467.39" r="5.6"/><circle cx="587.65" cy="467.39" r="5.6"/><circle cx="598.47" cy="467.39" r="5.6"/><circle cx="484.86" cy="473.12" r="5.6"/><circle cx="495.68" cy="473.12" r="5.6"/><circle cx="506.5" cy="473.12" r="5.6"/><circle cx="517.32" cy="473.12" r="5.6"/><circle cx="528.14" cy="473.12" r="5.6"/><circle cx="538.96" cy="473.12" r="5.6"/><circle cx="549.78" cy="473.12" r="5.6"/><circle cx="560.6" cy="473.12" r="5.6"/><circle cx="571.42" cy="473.12" r="5.6"/><circle cx="582.24" cy="473.12" r="5.6"/><circle cx="593.06" cy="473.12" r="5.6"/><circle cx="479.45" cy="478.85" r="5.6"/><circle cx="490.27" cy="478.85" r="5.6"/><circle cx="501.09" cy="478.85" r="5.6"/><circle cx="511.91" cy="478.85" r="5.6"/><circle cx="522.73" cy="478.85" r="5.6"/><circle cx="533.55" cy="478.85" r="5.6"/><circle cx="544.37" cy="478.85" r="5.6"/><circle cx="555.19" cy="478.85" r="5.6"/><circle cx="566.01" cy="478.85" r="5.6"/><circle cx="576.83" cy="478.85" r="5.6"/><circle cx="587.65" cy="478.85" r="5.6"/><circle cx="474.04" cy="484.58" r="5.6"/><circle cx="484.86" cy="484.58" r="5.6"/><circle cx="495.68" cy="484.58" r="5.6"/><circle cx="506.5" cy="484.58" r="5.6"/><circle cx="517.32" cy="484.58" r="5.6"/><circle cx="528.14" cy="484.58" r="5.6"/><circle cx="538.96" cy="484.58" r="5.6"/><circle cx="549.78" cy="484.58" r="5.6"/><circle cx="560.6" cy="484.58" r="5.6"/><circle cx="571.42" cy="484.58" r="5.6"/><circle cx="582.24" cy="484.58" r="5.6"/><circle cx="468.63" cy="490.31" r="5.6"/><circle cx="479.45" cy="490.31" r="5.6"/><circle cx="490.27" cy="490.31" r="5.6"/><circle cx="501.09" cy="490.31" r="5.6"/><circle cx="511.91" cy="490.31" r="5.6"/><circle cx="522.73" cy="490.31" r="5.6"/><circle cx="533.55" cy="490.31" r="5.6"/><circle cx="544.37" cy="490.31" r="5.6"/><circle cx="555.19" cy="490.31" r="5.6"/><circle cx="566.01" cy="490.31" r="5.6"/><circle cx="576.83" cy="490.31" r="5.6"/><circle cx="463.22" cy="496.04" r="5.6"/><circle cx="474.04" cy="496.04" r="5.6"/><circle cx="484.86" cy="496.04" r="5.6"/><circle cx="495.68" cy="496.04" r="5.6"/><circle cx="506.5" cy="496.04" r="5.6"/><circle cx="517.32" cy="496.04" r="5.6"/><circle cx="528.14" cy="496.04" r="5.6"/><circle cx="538.96" cy="496.04" r="5.6"/><circle cx="549.78" cy="496.04" r="5.6"/><circle cx="560.6" cy="496.04" r="5.6"/><circle cx="571.42" cy="496.04" r="5.6"/><circle cx="457.81" cy="501.77" r="5.6"/><circle cx="468.63" cy="501.77" r="5.6"/><circle cx="479.45" cy="501.77" r="5.6"/><circle cx="490.27" cy="501.77" r="5.6"/><circle cx="501.09" cy="501.77" r="5.6"/><circle cx="511.91" cy="501.77" r="5.6"/><circle cx="522.73" cy="501.77" r="5.6"/><circle cx="533.55" cy="501.77" r="5.6"/><circle cx="544.37" cy="501.77" r="5.6"/><circle cx="555.19" cy="501.77" r="5.6"/><circle cx="566.01" cy="501.77" r="5.6"/><circle cx="452.4" cy="507.5" r="5.6"/><circle cx="463.22" cy="507.5" r="5.6"/><circle cx="474.04" cy="507.5" r="5.6"/><circle cx="484.86" cy="507.5" r="5.6"/><circle cx="495.68" cy="507.5" r="5.6"/><circle cx="506.5" cy="507.5" r="5.6"/><circle cx="517.32" cy="507.5" r="5.6"/><circle cx="528.14" cy="507.5" r="5.6"/><circle cx="538.96" cy="507.5" r="5.6"/><circle cx="549.78" cy="507.5" r="5.6"/><circle cx="560.6" cy="507.5" r="5.6"/><circle cx="446.99" cy="513.23" r="5.6"/><circle cx="457.81" cy="513.23" r="5.6"/><circle cx="468.63" cy="513.23" r="5.6"/><circle cx="479.45" cy="513.23" r="5.6"/><circle cx="490.27" cy="513.23" r="5.6"/><circle cx="501.09" cy="513.23" r="5.6"/><circle cx="511.91" cy="513.23" r="5.6"/><circle cx="522.73" cy="513.23" r="5.6"/><circle cx="533.55" cy="513.23" r="5.6"/><circle cx="544.37" cy="513.23" r="5.6"/><circle cx="555.19" cy="513.23" r="5.6"/><circle cx="441.58" cy="518.96" r="5.6"/><circle cx="452.4" cy="518.96" r="5.6"/><circle cx="463.22" cy="518.96" r="5.6"/><circle cx="474.04" cy="518.96" r="5.6"/><circle cx="484.86" cy="518.96" r="5.6"/><circle cx="495.68" cy="518.96" r="5.6"/><circle cx="506.5" cy="518.96" r="5.6"/><circle cx="517.32" cy="518.96" r="5.6"/><circle cx="528.14" cy="518.96" r="5.6"/><circle cx="538.96" cy="518.96" r="5.6"/><circle cx="549.78" cy="518.96" r="5.6"/><circle cx="436.17" cy="524.69" r="5.6"/><circle cx="446.99" cy="524.69" r="5.6"/><circle cx="457.81" cy="524.69" r="5.6"/><circle cx="468.63" cy="524.69" r="5.6"/><circle cx="479.45" cy="524.69" r="5.6"/><circle cx="490.27" cy="524.69" r="5.6"/><circle cx="501.09" cy="524.69" r="5.6"/><circle cx="511.91" cy="524.69" r="5.6"/><circle cx="522.73" cy="524.69" r="5.6"/><circle cx="533.55" cy="524.69" r="5.6"/><circle cx="544.37" cy="524.69" r="5.6"/><circle cx="430.76" cy="530.42" r="5.6"/><circle cx="441.58" cy="530.42" r="5.6"/><circle cx="452.4" cy="530.42" r="5.6"/><circle cx="463.22" cy="530.42" r="5.6"/><circle cx="474.04" cy="530.42" r="5.6"/><circle cx="484.86" cy="530.42" r="5.6"/><circle cx="495.68" cy="530.42" r="5.6"/><circle cx="506.5" cy="530.42" r="5.6"/><circle cx="517.32" cy="530.42" r="5.6"/><circle cx="528.14" cy="530.42" r="5.6"/><circle cx="538.96" cy="530.42" r="5.6"/><circle cx="425.35" cy="536.15" r="5.6"/><circle cx="436.17" cy="536.15" r="5.6"/><circle cx="446.99" cy="536.15" r="5.6"/><circle cx="457.81" cy="536.15" r="5.6"/><circle cx="468.63" cy="536.15" r="5.6"/><circle cx="479.45" cy="536.15" r="5.6"/><circle cx="490.27" cy="536.15" r="5.6"/><circle cx="501.09" cy="536.15" r="5.6"/><circle cx="511.91" cy="536.15" r="5.6"/><circle cx="522.73" cy="536.15" r="5.6"/><circle cx="533.55" cy="536.15" r="5.6"/><circle cx="430.76" cy="541.88" r="5.6"/><circle cx="441.58" cy="541.88" r="5.6"/><circle cx="452.4" cy="541.88" r="5.6"/><circle cx="463.22" cy="541.88" r="5.6"/><circle cx="474.04" cy="541.88" r="5.6"/><circle cx="484.86" cy="541.88" r="5.6"/><circle cx="495.68" cy="541.88" r="5.6"/><circle cx="506.5" cy="541.88" r="5.6"/><circle cx="517.32" cy="541.88" r="5.6"/><circle cx="528.14" cy="541.88" r="5.6"/><circle cx="425.35" cy="547.61" r="5.6"/><circle cx="436.17" cy="547.61" r="5.6"/><circle cx="446.99" cy="547.61" r="5.6"/><circle cx="457.81" cy="547.61" r="5.6"/><circle cx="468.63" cy="547.61" r="5.6"/><circle cx="479.45" cy="547.61" r="5.6"/><circle cx="490.27" cy="547.61" r="5.6"/><circle cx="501.09" cy="547.61" r="5.6"/><circle cx="511.91" cy="547.61" r="5.6"/><circle cx="522.73" cy="547.61" r="5.6"/><circle cx="430.76" cy="553.34" r="5.6"/><circle cx="441.58" cy="553.34" r="5.6"/><circle cx="452.4" cy="553.34" r="5.6"/><circle cx="463.22" cy="553.34" r="5.6"/><circle cx="474.04" cy="553.34" r="5.6"/><circle cx="484.86" cy="553.34" r="5.6"/><circle cx="495.68" cy="553.34" r="5.6"/><circle cx="506.5" cy="553.34" r="5.6"/><circle cx="517.32" cy="553.34" r="5.6"/><circle cx="425.35" cy="559.07" r="5.6"/><circle cx="436.17" cy="559.07" r="5.6"/><circle cx="446.99" cy="559.07" r="5.6"/><circle cx="457.81" cy="559.07" r="5.6"/><circle cx="468.63" cy="559.07" r="5.6"/><circle cx="479.45" cy="559.07" r="5.6"/><circle cx="490.27" cy="559.07" r="5.6"/><circle cx="501.09" cy="559.07" r="5.6"/><circle cx="511.91" cy="559.07" r="5.6"/><circle cx="430.76" cy="564.8" r="5.6"/><circle cx="441.58" cy="564.8" r="5.6"/><circle cx="452.4" cy="564.8" r="5.6"/><circle cx="463.22" cy="564.8" r="5.6"/><circle cx="474.04" cy="564.8" r="5.6"/><circle cx="484.86" cy="564.8" r="5.6"/><circle cx="495.68" cy="564.8" r="5.6"/><circle cx="506.5" cy="564.8" r="5.6"/><circle cx="425.35" cy="570.53" r="5.6"/><circle cx="436.17" cy="570.53" r="5.6"/><circle cx="446.99" cy="570.53" r="5.6"/><circle cx="457.81" cy="570.53" r="5.6"/><circle cx="468.63" cy="570.53" r="5.6"/><circle cx="479.45" cy="570.53" r="5.6"/><circle cx="490.27" cy="570.53" r="5.6"/><circle cx="501.09" cy="570.53" r="5.6"/><circle cx="430.76" cy="576.26" r="5.6"/><circle cx="441.58" cy="576.26" r="5.6"/><circle cx="452.4" cy="576.26" r="5.6"/><circle cx="463.22" cy="576.26" r="5.6"/><circle cx="474.04" cy="576.26" r="5.6"/><circle cx="484.86" cy="576.26" r="5.6"/><circle cx="495.68" cy="576.26" r="5.6"/></g><g fill="#0b0d26"><circle cx="560.66" cy="387.59" r="1.68"/><circle cx="555.28" cy="392.58" r="1.71"/><circle cx="566.32" cy="393.09" r="1.43"/><circle cx="570.96" cy="399.01" r="1.76"/><circle cx="544.2" cy="404.45" r="1.52"/><circle cx="576.35" cy="404.54" r="1.53"/><circle cx="582.16" cy="409.8" r="1.56"/><circle cx="587.78" cy="415.87" r="1.81"/><circle cx="528.12" cy="421.13" r="1.43"/><circle cx="592.87" cy="421.19" r="1.44"/><circle cx="522.6" cy="426.82" r="1.96"/><circle cx="598.65" cy="426.98" r="1.5"/><circle cx="603.62" cy="432.65" r="1.43"/><circle cx="511.86" cy="438.87" r="1.79"/><circle cx="609.07" cy="439.16" r="1.53"/><circle cx="506.43" cy="444.01" r="1.72"/><circle cx="614.67" cy="444.1" r="1.66"/><circle cx="501.49" cy="450.18" r="1.59"/><circle cx="619.78" cy="449.86" r="1.57"/><circle cx="495.76" cy="455.56" r="1.81"/><circle cx="614.61" cy="455.61" r="1.45"/><circle cx="490.27" cy="461.37" r="1.47"/><circle cx="608.99" cy="461.21" r="1.72"/><circle cx="484.8" cy="467.56" r="1.67"/><circle cx="603.46" cy="467.19" r="1.83"/><circle cx="479.23" cy="472.76" r="1.61"/><circle cx="598.78" cy="473.45" r="1.93"/><circle cx="468.9" cy="484.87" r="1.43"/><circle cx="462.93" cy="490.43" r="1.57"/><circle cx="582.45" cy="490.8" r="1.71"/><circle cx="458.15" cy="495.74" r="1.97"/><circle cx="576.86" cy="495.97" r="1.94"/><circle cx="451.95" cy="502" r="1.94"/><circle cx="570.94" cy="501.91" r="1.82"/><circle cx="447.02" cy="507.24" r="1.97"/><circle cx="565.77" cy="507.54" r="1.91"/><circle cx="441.34" cy="512.93" r="1.98"/><circle cx="560.35" cy="513.28" r="1.55"/><circle cx="436.6" cy="518.82" r="1.6"/><circle cx="554.79" cy="518.83" r="1.77"/><circle cx="431.11" cy="524.94" r="1.69"/><circle cx="549.74" cy="524.64" r="1.98"/><circle cx="425.65" cy="530.6" r="1.56"/><circle cx="544.16" cy="530.57" r="1.98"/><circle cx="420.13" cy="536.44" r="1.96"/><circle cx="538.74" cy="536.59" r="1.92"/><circle cx="419.94" cy="541.88" r="3.2"/><circle cx="533.37" cy="542.13" r="1.47"/><circle cx="528.48" cy="547.76" r="1.96"/><circle cx="419.94" cy="553.34" r="3.2"/><circle cx="522.43" cy="552.91" r="1.56"/><circle cx="420.05" cy="558.85" r="1.48"/><circle cx="517.29" cy="558.93" r="1.68"/><circle cx="419.94" cy="564.8" r="3.2"/><circle cx="512.4" cy="564.89" r="1.5"/><circle cx="419.58" cy="570.93" r="1.89"/><circle cx="506.48" cy="570.39" r="1.66"/><circle cx="419.94" cy="576.26" r="3.2"/><circle cx="501.14" cy="576.69" r="1.78"/><circle cx="420.37" cy="582.24" r="1.75"/><circle cx="425.35" cy="581.99" r="3.2"/><circle cx="430.94" cy="582.47" r="1.95"/><circle cx="436.17" cy="581.99" r="3.2"/><circle cx="441.83" cy="581.87" r="1.67"/><circle cx="446.99" cy="581.99" r="3.2"/><circle cx="452.63" cy="581.56" r="1.47"/><circle cx="457.81" cy="581.99" r="3.2"/><circle cx="462.83" cy="581.61" r="1.59"/><circle cx="468.63" cy="581.99" r="3.2"/><circle cx="479.45" cy="581.99" r="3.2"/><circle cx="485.2" cy="581.61" r="1.92"/><circle cx="490.27" cy="581.99" r="3.2"/><circle cx="495.56" cy="582.16" r="1.96"/><circle cx="560.6" cy="392.9" r="3.4"/><circle cx="555.19" cy="398.63" r="3.4"/><circle cx="566.01" cy="398.63" r="3.4"/><circle cx="549.78" cy="404.36" r="3.4"/><circle cx="560.6" cy="404.36" r="3.4"/><circle cx="566.53" cy="404.39" r="1.32"/><circle cx="571.42" cy="404.36" r="3.4"/><circle cx="544.37" cy="410.09" r="3.4"/><circle cx="549.18" cy="410.44" r="1.54"/><circle cx="555.19" cy="410.09" r="3.4"/><circle cx="561.01" cy="409.11" r="1.63"/><circle cx="566.01" cy="410.09" r="3.4"/><circle cx="571.44" cy="411.06" r="1.84"/><circle cx="576.83" cy="410.09" r="3.4"/><circle cx="538.96" cy="415.82" r="3.4"/><circle cx="545.08" cy="416.1" r="1.37"/><circle cx="549.78" cy="415.82" r="3.4"/><circle cx="554.21" cy="416.04" r="1.88"/><circle cx="560.6" cy="415.82" r="3.4"/><circle cx="565.75" cy="416.06" r="1.39"/><circle cx="571.42" cy="415.82" r="3.4"/><circle cx="582.24" cy="415.82" r="3.4"/><circle cx="533.55" cy="421.55" r="3.4"/><circle cx="538.8" cy="422.36" r="1.64"/><circle cx="544.37" cy="421.55" r="3.4"/><circle cx="549.74" cy="421.86" r="1.73"/><circle cx="555.19" cy="421.55" r="3.4"/><circle cx="560.42" cy="421.05" r="1.33"/><circle cx="566.01" cy="421.55" r="3.4"/><circle cx="571.32" cy="421.21" r="1.81"/><circle cx="576.83" cy="421.55" r="3.4"/><circle cx="583.09" cy="421.5" r="1.55"/><circle cx="587.65" cy="421.55" r="3.4"/><circle cx="528.14" cy="427.28" r="3.4"/><circle cx="533.5" cy="426.44" r="1.9"/><circle cx="538.96" cy="427.28" r="3.4"/><circle cx="549.78" cy="427.28" r="3.4"/><circle cx="560.6" cy="427.28" r="3.4"/><circle cx="571.42" cy="427.28" r="3.4"/><circle cx="582.24" cy="427.28" r="3.4"/><circle cx="587.11" cy="427.68" r="1.65"/><circle cx="593.06" cy="427.28" r="3.4"/><circle cx="522.73" cy="433.01" r="3.4"/><circle cx="527.62" cy="432.82" r="1.48"/><circle cx="533.55" cy="433.01" r="3.4"/><circle cx="544.37" cy="433.01" r="3.4"/><circle cx="550.45" cy="433.71" r="1.8"/><circle cx="555.19" cy="433.01" r="3.4"/><circle cx="566.01" cy="433.01" r="3.4"/><circle cx="571.46" cy="433.35" r="1.8"/><circle cx="576.83" cy="433.01" r="3.4"/><circle cx="581.39" cy="432.07" r="1.91"/><circle cx="587.65" cy="433.01" r="3.4"/><circle cx="598.47" cy="433.01" r="3.4"/><circle cx="517.32" cy="438.74" r="3.4"/><circle cx="522.09" cy="437.76" r="1.63"/><circle cx="528.14" cy="438.74" r="3.4"/><circle cx="538.96" cy="438.74" r="3.4"/><circle cx="549.78" cy="438.74" r="3.4"/><circle cx="555.98" cy="438.52" r="1.62"/><circle cx="560.6" cy="438.74" r="3.4"/><circle cx="571.42" cy="438.74" r="3.4"/><circle cx="582.24" cy="438.74" r="3.4"/><circle cx="587.13" cy="438.52" r="1.36"/><circle cx="593.06" cy="438.74" r="3.4"/><circle cx="603.88" cy="438.74" r="3.4"/><circle cx="511.91" cy="444.47" r="3.4"/><circle cx="518.32" cy="445.27" r="1.66"/><circle cx="522.73" cy="444.47" r="3.4"/><circle cx="533.55" cy="444.47" r="3.4"/><circle cx="544.37" cy="444.47" r="3.4"/><circle cx="550.24" cy="444.75" r="1.67"/><circle cx="555.19" cy="444.47" r="3.4"/><circle cx="560.94" cy="445.38" r="1.91"/><circle cx="566.01" cy="444.47" r="3.4"/><circle cx="576.83" cy="444.47" r="3.4"/><circle cx="582.24" cy="444.29" r="1.38"/><circle cx="587.65" cy="444.47" r="3.4"/><circle cx="598.47" cy="444.47" r="3.4"/><circle cx="603.07" cy="443.8" r="1.95"/><circle cx="609.29" cy="444.47" r="3.4"/><circle cx="506.5" cy="450.2" r="3.4"/><circle cx="517.32" cy="450.2" r="3.4"/><circle cx="522.44" cy="450.44" r="1.37"/><circle cx="528.14" cy="450.2" r="3.4"/><circle cx="533.61" cy="450.07" r="1.56"/><circle cx="538.96" cy="450.2" r="3.4"/><circle cx="549.78" cy="450.2" r="3.4"/><circle cx="560.6" cy="450.2" r="3.4"/><circle cx="565.64" cy="451.05" r="1.45"/><circle cx="571.42" cy="450.2" r="3.4"/><circle cx="576.31" cy="450.65" r="1.48"/><circle cx="582.24" cy="450.2" r="3.4"/><circle cx="587.46" cy="450.57" r="1.31"/><circle cx="593.06" cy="450.2" r="3.4"/><circle cx="598.48" cy="450.72" r="1.65"/><circle cx="603.88" cy="450.2" r="3.4"/><circle cx="609.39" cy="450.23" r="1.7"/><circle cx="614.7" cy="450.2" r="3.4"/><circle cx="501.09" cy="455.93" r="3.4"/><circle cx="505.92" cy="455.68" r="1.74"/><circle cx="511.91" cy="455.93" r="3.4"/><circle cx="518.16" cy="456.14" r="1.37"/><circle cx="522.73" cy="455.93" r="3.4"/><circle cx="533.55" cy="455.93" r="3.4"/><circle cx="538.34" cy="456.1" r="1.54"/><circle cx="544.37" cy="455.93" r="3.4"/><circle cx="555.19" cy="455.93" r="3.4"/><circle cx="566.01" cy="455.93" r="3.4"/><circle cx="576.83" cy="455.93" r="3.4"/><circle cx="587.65" cy="455.93" r="3.4"/><circle cx="592.74" cy="455.87" r="1.31"/><circle cx="598.47" cy="455.93" r="3.4"/><circle cx="609.29" cy="455.93" r="3.4"/><circle cx="495.68" cy="461.66" r="3.4"/><circle cx="500.98" cy="461.67" r="1.83"/><circle cx="506.5" cy="461.66" r="3.4"/><circle cx="511.99" cy="461.49" r="1.66"/><circle cx="517.32" cy="461.66" r="3.4"/><circle cx="523.07" cy="462.57" r="1.57"/><circle cx="528.14" cy="461.66" r="3.4"/><circle cx="532.89" cy="461.65" r="1.73"/><circle cx="538.96" cy="461.66" r="3.4"/><circle cx="544.1" cy="461.23" r="1.76"/><circle cx="549.78" cy="461.66" r="3.4"/><circle cx="554.68" cy="460.75" r="1.41"/><circle cx="560.6" cy="461.66" r="3.4"/><circle cx="566.99" cy="462.55" r="1.35"/><circle cx="571.42" cy="461.66" r="3.4"/><circle cx="582.24" cy="461.66" r="3.4"/><circle cx="593.06" cy="461.66" r="3.4"/><circle cx="603.88" cy="461.66" r="3.4"/><circle cx="490.27" cy="467.39" r="3.4"/><circle cx="496.68" cy="468.3" r="1.81"/><circle cx="501.09" cy="467.39" r="3.4"/><circle cx="511.91" cy="467.39" r="3.4"/><circle cx="517.59" cy="467.9" r="1.43"/><circle cx="522.73" cy="467.39" r="3.4"/><circle cx="527.26" cy="466.93" r="1.6"/><circle cx="533.55" cy="467.39" r="3.4"/><circle cx="538.52" cy="467.9" r="1.94"/><circle cx="544.37" cy="467.39" r="3.4"/><circle cx="549.46" cy="467.38" r="1.39"/><circle cx="555.19" cy="467.39" r="3.4"/><circle cx="561.24" cy="468.07" r="1.84"/><circle cx="566.01" cy="467.39" r="3.4"/><circle cx="570.72" cy="466.7" r="1.89"/><circle cx="576.83" cy="467.39" r="3.4"/><circle cx="582.73" cy="468.23" r="1.6"/><circle cx="587.65" cy="467.39" r="3.4"/><circle cx="593.19" cy="467.36" r="1.78"/><circle cx="598.47" cy="467.39" r="3.4"/><circle cx="484.86" cy="473.12" r="3.4"/><circle cx="491.11" cy="474" r="1.94"/><circle cx="495.68" cy="473.12" r="3.4"/><circle cx="501.96" cy="473.91" r="1.47"/><circle cx="506.5" cy="473.12" r="3.4"/><circle cx="511.3" cy="473.25" r="1.86"/><circle cx="517.32" cy="473.12" r="3.4"/><circle cx="528.14" cy="473.12" r="3.4"/><circle cx="533.68" cy="474.05" r="1.76"/><circle cx="538.96" cy="473.12" r="3.4"/><circle cx="543.53" cy="473.59" r="1.93"/><circle cx="549.78" cy="473.12" r="3.4"/><circle cx="560.6" cy="473.12" r="3.4"/><circle cx="571.42" cy="473.12" r="3.4"/><circle cx="576.9" cy="473.56" r="1.8"/><circle cx="582.24" cy="473.12" r="3.4"/><circle cx="593.06" cy="473.12" r="3.4"/><circle cx="479.45" cy="478.85" r="3.4"/><circle cx="483.88" cy="478.07" r="1.95"/><circle cx="490.27" cy="478.85" r="3.4"/><circle cx="501.09" cy="478.85" r="3.4"/><circle cx="511.91" cy="478.85" r="3.4"/><circle cx="522.73" cy="478.85" r="3.4"/><circle cx="527.45" cy="479.69" r="1.94"/><circle cx="533.55" cy="478.85" r="3.4"/><circle cx="539.78" cy="477.92" r="1.38"/><circle cx="544.37" cy="478.85" r="3.4"/><circle cx="549.23" cy="478.22" r="1.5"/><circle cx="555.19" cy="478.85" r="3.4"/><circle cx="566.01" cy="478.85" r="3.4"/><circle cx="571.23" cy="479.76" r="1.76"/><circle cx="576.83" cy="478.85" r="3.4"/><circle cx="581.68" cy="477.95" r="1.96"/><circle cx="587.65" cy="478.85" r="3.4"/><circle cx="474.04" cy="484.58" r="3.4"/><circle cx="484.86" cy="484.58" r="3.4"/><circle cx="495.68" cy="484.58" r="3.4"/><circle cx="500.61" cy="485.32" r="1.66"/><circle cx="506.5" cy="484.58" r="3.4"/><circle cx="512.45" cy="483.58" r="1.87"/><circle cx="517.32" cy="484.58" r="3.4"/><circle cx="528.14" cy="484.58" r="3.4"/><circle cx="534.26" cy="484.19" r="1.85"/><circle cx="538.96" cy="484.58" r="3.4"/><circle cx="544.46" cy="484.63" r="1.41"/><circle cx="549.78" cy="484.58" r="3.4"/><circle cx="555.12" cy="485.01" r="1.55"/><circle cx="560.6" cy="484.58" r="3.4"/><circle cx="571.42" cy="484.58" r="3.4"/><circle cx="582.24" cy="484.58" r="3.4"/><circle cx="468.63" cy="490.31" r="3.4"/><circle cx="474.37" cy="489.82" r="1.44"/><circle cx="479.45" cy="490.31" r="3.4"/><circle cx="484.41" cy="490.25" r="1.75"/><circle cx="490.27" cy="490.31" r="3.4"/><circle cx="494.96" cy="489.5" r="1.77"/><circle cx="501.09" cy="490.31" r="3.4"/><circle cx="505.57" cy="490.24" r="1.79"/><circle cx="511.91" cy="490.31" r="3.4"/><circle cx="522.73" cy="490.31" r="3.4"/><circle cx="527.44" cy="490.69" r="1.64"/><circle cx="533.55" cy="490.31" r="3.4"/><circle cx="538.76" cy="490.71" r="1.99"/><circle cx="544.37" cy="490.31" r="3.4"/><circle cx="549.3" cy="489.69" r="1.51"/><circle cx="555.19" cy="490.31" r="3.4"/><circle cx="560.62" cy="490.89" r="1.88"/><circle cx="566.01" cy="490.31" r="3.4"/><circle cx="571.5" cy="489.91" r="1.46"/><circle cx="576.83" cy="490.31" r="3.4"/><circle cx="463.22" cy="496.04" r="3.4"/><circle cx="469.02" cy="495.7" r="1.95"/><circle cx="474.04" cy="496.04" r="3.4"/><circle cx="480.26" cy="496.13" r="1.69"/><circle cx="484.86" cy="496.04" r="3.4"/><circle cx="495.68" cy="496.04" r="3.4"/><circle cx="506.5" cy="496.04" r="3.4"/><circle cx="511.06" cy="495.1" r="1.43"/><circle cx="517.32" cy="496.04" r="3.4"/><circle cx="523.07" cy="496.52" r="1.57"/><circle cx="528.14" cy="496.04" r="3.4"/><circle cx="532.84" cy="495.81" r="1.7"/><circle cx="538.96" cy="496.04" r="3.4"/><circle cx="544.65" cy="495.12" r="1.77"/><circle cx="549.78" cy="496.04" r="3.4"/><circle cx="555.44" cy="496.42" r="1.83"/><circle cx="560.6" cy="496.04" r="3.4"/><circle cx="571.42" cy="496.04" r="3.4"/><circle cx="457.81" cy="501.77" r="3.4"/><circle cx="463.8" cy="502.54" r="1.91"/><circle cx="468.63" cy="501.77" r="3.4"/><circle cx="479.45" cy="501.77" r="3.4"/><circle cx="484.34" cy="501.38" r="1.58"/><circle cx="490.27" cy="501.77" r="3.4"/><circle cx="501.09" cy="501.77" r="3.4"/><circle cx="505.83" cy="502.07" r="1.6"/><circle cx="511.91" cy="501.77" r="3.4"/><circle cx="522.73" cy="501.77" r="3.4"/><circle cx="527.63" cy="501.37" r="1.53"/><circle cx="533.55" cy="501.77" r="3.4"/><circle cx="539.13" cy="500.86" r="1.32"/><circle cx="544.37" cy="501.77" r="3.4"/><circle cx="549.07" cy="502.32" r="1.84"/><circle cx="555.19" cy="501.77" r="3.4"/><circle cx="561.45" cy="502.56" r="1.44"/><circle cx="566.01" cy="501.77" r="3.4"/><circle cx="452.4" cy="507.5" r="3.4"/><circle cx="458.45" cy="508.42" r="1.49"/><circle cx="463.22" cy="507.5" r="3.4"/><circle cx="474.04" cy="507.5" r="3.4"/><circle cx="484.86" cy="507.5" r="3.4"/><circle cx="490.88" cy="507.55" r="1.38"/><circle cx="495.68" cy="507.5" r="3.4"/><circle cx="500.36" cy="507.84" r="1.62"/><circle cx="506.5" cy="507.5" r="3.4"/><circle cx="512.08" cy="507.57" r="1.6"/><circle cx="517.32" cy="507.5" r="3.4"/><circle cx="523.2" cy="506.56" r="1.85"/><circle cx="528.14" cy="507.5" r="3.4"/><circle cx="532.56" cy="508.28" r="1.34"/><circle cx="538.96" cy="507.5" r="3.4"/><circle cx="543.43" cy="507.08" r="1.88"/><circle cx="549.78" cy="507.5" r="3.4"/><circle cx="555.73" cy="506.72" r="1.6"/><circle cx="560.6" cy="507.5" r="3.4"/><circle cx="446.99" cy="513.23" r="3.4"/><circle cx="457.81" cy="513.23" r="3.4"/><circle cx="463.67" cy="513.94" r="1.32"/><circle cx="468.63" cy="513.23" r="3.4"/><circle cx="479.45" cy="513.23" r="3.4"/><circle cx="483.94" cy="512.86" r="1.73"/><circle cx="490.27" cy="513.23" r="3.4"/><circle cx="501.09" cy="513.23" r="3.4"/><circle cx="506.01" cy="512.55" r="1.78"/><circle cx="511.91" cy="513.23" r="3.4"/><circle cx="517.14" cy="512.96" r="1.45"/><circle cx="522.73" cy="513.23" r="3.4"/><circle cx="528.65" cy="513.43" r="1.39"/><circle cx="533.55" cy="513.23" r="3.4"/><circle cx="544.37" cy="513.23" r="3.4"/><circle cx="549.38" cy="513.08" r="1.35"/><circle cx="555.19" cy="513.23" r="3.4"/><circle cx="441.58" cy="518.96" r="3.4"/><circle cx="446.31" cy="519.13" r="2"/><circle cx="452.4" cy="518.96" r="3.4"/><circle cx="463.22" cy="518.96" r="3.4"/><circle cx="467.73" cy="518.8" r="1.47"/><circle cx="474.04" cy="518.96" r="3.4"/><circle cx="479.97" cy="518.91" r="1.64"/><circle cx="484.86" cy="518.96" r="3.4"/><circle cx="489.36" cy="518.51" r="1.96"/><circle cx="495.68" cy="518.96" r="3.4"/><circle cx="501.39" cy="518.4" r="1.37"/><circle cx="506.5" cy="518.96" r="3.4"/><circle cx="512.59" cy="518.2" r="2"/><circle cx="517.32" cy="518.96" r="3.4"/><circle cx="523.49" cy="519.3" r="1.51"/><circle cx="528.14" cy="518.96" r="3.4"/><circle cx="532.97" cy="518.78" r="1.64"/><circle cx="538.96" cy="518.96" r="3.4"/><circle cx="544.12" cy="519.72" r="1.88"/><circle cx="549.78" cy="518.96" r="3.4"/><circle cx="436.17" cy="524.69" r="3.4"/><circle cx="442.29" cy="524.81" r="1.55"/><circle cx="446.99" cy="524.69" r="3.4"/><circle cx="453" cy="523.93" r="1.65"/><circle cx="457.81" cy="524.69" r="3.4"/><circle cx="463.63" cy="524.13" r="1.95"/><circle cx="468.63" cy="524.69" r="3.4"/><circle cx="474.53" cy="525.51" r="1.86"/><circle cx="479.45" cy="524.69" r="3.4"/><circle cx="490.27" cy="524.69" r="3.4"/><circle cx="501.09" cy="524.69" r="3.4"/><circle cx="507.19" cy="524.29" r="1.8"/><circle cx="511.91" cy="524.69" r="3.4"/><circle cx="517.01" cy="525.47" r="1.7"/><circle cx="522.73" cy="524.69" r="3.4"/><circle cx="533.55" cy="524.69" r="3.4"/><circle cx="539.37" cy="524.12" r="1.35"/><circle cx="544.37" cy="524.69" r="3.4"/><circle cx="430.76" cy="530.42" r="3.4"/><circle cx="435.69" cy="529.86" r="1.66"/><circle cx="441.58" cy="530.42" r="3.4"/><circle cx="447.08" cy="531.12" r="1.84"/><circle cx="452.4" cy="530.42" r="3.4"/><circle cx="463.22" cy="530.42" r="3.4"/><circle cx="468.42" cy="529.73" r="1.43"/><circle cx="474.04" cy="530.42" r="3.4"/><circle cx="479.28" cy="530.15" r="1.77"/><circle cx="484.86" cy="530.42" r="3.4"/><circle cx="495.68" cy="530.42" r="3.4"/><circle cx="506.5" cy="530.42" r="3.4"/><circle cx="512.15" cy="530.25" r="1.64"/><circle cx="517.32" cy="530.42" r="3.4"/><circle cx="523" cy="530.16" r="1.78"/><circle cx="528.14" cy="530.42" r="3.4"/><circle cx="534.52" cy="530.7" r="1.39"/><circle cx="538.96" cy="530.42" r="3.4"/><circle cx="425.35" cy="536.15" r="3.4"/><circle cx="431.12" cy="535.43" r="1.41"/><circle cx="436.17" cy="536.15" r="3.4"/><circle cx="441.29" cy="536.23" r="1.86"/><circle cx="446.99" cy="536.15" r="3.4"/><circle cx="457.81" cy="536.15" r="3.4"/><circle cx="462.84" cy="536.75" r="1.89"/><circle cx="468.63" cy="536.15" r="3.4"/><circle cx="479.45" cy="536.15" r="3.4"/><circle cx="484.21" cy="535.36" r="1.95"/><circle cx="490.27" cy="536.15" r="3.4"/><circle cx="495.81" cy="535.44" r="1.74"/><circle cx="501.09" cy="536.15" r="3.4"/><circle cx="505.6" cy="535.28" r="1.92"/><circle cx="511.91" cy="536.15" r="3.4"/><circle cx="522.73" cy="536.15" r="3.4"/><circle cx="533.55" cy="536.15" r="3.4"/><circle cx="430.76" cy="541.88" r="3.4"/><circle cx="435.32" cy="541.6" r="1.83"/><circle cx="441.58" cy="541.88" r="3.4"/><circle cx="452.4" cy="541.88" r="3.4"/><circle cx="463.22" cy="541.88" r="3.4"/><circle cx="474.04" cy="541.88" r="3.4"/><circle cx="480.27" cy="540.93" r="1.7"/><circle cx="484.86" cy="541.88" r="3.4"/><circle cx="495.68" cy="541.88" r="3.4"/><circle cx="506.5" cy="541.88" r="3.4"/><circle cx="512.4" cy="541.97" r="1.78"/><circle cx="517.32" cy="541.88" r="3.4"/><circle cx="521.75" cy="541.89" r="1.58"/><circle cx="528.14" cy="541.88" r="3.4"/><circle cx="425.35" cy="547.61" r="3.4"/><circle cx="431.32" cy="548.39" r="1.87"/><circle cx="436.17" cy="547.61" r="3.4"/><circle cx="446.99" cy="547.61" r="3.4"/><circle cx="452.67" cy="547.37" r="1.75"/><circle cx="457.81" cy="547.61" r="3.4"/><circle cx="468.63" cy="547.61" r="3.4"/><circle cx="479.45" cy="547.61" r="3.4"/><circle cx="485.53" cy="547.61" r="1.56"/><circle cx="490.27" cy="547.61" r="3.4"/><circle cx="494.74" cy="547.86" r="1.61"/><circle cx="501.09" cy="547.61" r="3.4"/><circle cx="506.15" cy="547.68" r="1.53"/><circle cx="511.91" cy="547.61" r="3.4"/><circle cx="516.42" cy="548.55" r="1.83"/><circle cx="522.73" cy="547.61" r="3.4"/><circle cx="426.34" cy="552.47" r="1.91"/><circle cx="430.76" cy="553.34" r="3.4"/><circle cx="436.9" cy="552.73" r="1.5"/><circle cx="441.58" cy="553.34" r="3.4"/><circle cx="446.47" cy="553.94" r="1.9"/><circle cx="452.4" cy="553.34" r="3.4"/><circle cx="457.54" cy="552.54" r="1.33"/><circle cx="463.22" cy="553.34" r="3.4"/><circle cx="468.41" cy="554.04" r="1.73"/><circle cx="474.04" cy="553.34" r="3.4"/><circle cx="479.75" cy="553.4" r="1.52"/><circle cx="484.86" cy="553.34" r="3.4"/><circle cx="491.26" cy="553.1" r="1.87"/><circle cx="495.68" cy="553.34" r="3.4"/><circle cx="500.51" cy="553.87" r="1.42"/><circle cx="506.5" cy="553.34" r="3.4"/><circle cx="512.16" cy="552.95" r="1.31"/><circle cx="517.32" cy="553.34" r="3.4"/><circle cx="425.35" cy="559.07" r="3.4"/><circle cx="430" cy="558.32" r="1.91"/><circle cx="436.17" cy="559.07" r="3.4"/><circle cx="446.99" cy="559.07" r="3.4"/><circle cx="452.89" cy="559.27" r="1.61"/><circle cx="457.81" cy="559.07" r="3.4"/><circle cx="468.63" cy="559.07" r="3.4"/><circle cx="473.3" cy="559.86" r="1.48"/><circle cx="479.45" cy="559.07" r="3.4"/><circle cx="485.62" cy="559.61" r="1.37"/><circle cx="490.27" cy="559.07" r="3.4"/><circle cx="501.09" cy="559.07" r="3.4"/><circle cx="511.91" cy="559.07" r="3.4"/><circle cx="430.76" cy="564.8" r="3.4"/><circle cx="441.58" cy="564.8" r="3.4"/><circle cx="452.4" cy="564.8" r="3.4"/><circle cx="458.79" cy="564.22" r="1.56"/><circle cx="463.22" cy="564.8" r="3.4"/><circle cx="468.93" cy="565.05" r="1.82"/><circle cx="474.04" cy="564.8" r="3.4"/><circle cx="479.39" cy="563.83" r="1.9"/><circle cx="484.86" cy="564.8" r="3.4"/><circle cx="490.1" cy="564.92" r="1.98"/><circle cx="495.68" cy="564.8" r="3.4"/><circle cx="500.57" cy="565.13" r="1.66"/><circle cx="506.5" cy="564.8" r="3.4"/><circle cx="425.35" cy="570.53" r="3.4"/><circle cx="436.17" cy="570.53" r="3.4"/><circle cx="446.99" cy="570.53" r="3.4"/><circle cx="451.42" cy="569.84" r="1.87"/><circle cx="457.81" cy="570.53" r="3.4"/><circle cx="463.28" cy="569.59" r="1.38"/><circle cx="468.63" cy="570.53" r="3.4"/><circle cx="473.87" cy="569.69" r="1.48"/><circle cx="479.45" cy="570.53" r="3.4"/><circle cx="490.27" cy="570.53" r="3.4"/><circle cx="495.68" cy="571.34" r="1.58"/><circle cx="501.09" cy="570.53" r="3.4"/><circle cx="430.76" cy="576.26" r="3.4"/><circle cx="435.37" cy="576" r="1.52"/><circle cx="441.58" cy="576.26" r="3.4"/><circle cx="446.8" cy="577.19" r="1.3"/><circle cx="452.4" cy="576.26" r="3.4"/><circle cx="457.41" cy="576.48" r="1.71"/><circle cx="463.22" cy="576.26" r="3.4"/><circle cx="467.82" cy="575.76" r="1.49"/><circle cx="474.04" cy="576.26" r="3.4"/><circle cx="479.81" cy="575.43" r="1.99"/><circle cx="484.86" cy="576.26" r="3.4"/><circle cx="495.68" cy="576.26" r="3.4"/></g><g fill="#3f4aa6"><circle cx="420.34" cy="541.83" r="1.5"/><circle cx="420.2" cy="553.58" r="1.5"/><circle cx="419.79" cy="564.94" r="1.5"/><circle cx="419.9" cy="575.9" r="1.5"/><circle cx="424.95" cy="582.18" r="1.5"/><circle cx="435.83" cy="582.22" r="1.5"/><circle cx="446.94" cy="581.68" r="1.5"/><circle cx="458.08" cy="582.12" r="1.5"/><circle cx="468.99" cy="582.04" r="1.5"/><circle cx="479.22" cy="581.92" r="1.5"/><circle cx="490.25" cy="581.62" r="1.5"/></g><g><circle cx="555.19" cy="398.63" r="1.9" fill="#6ABD5A"/><circle cx="566.01" cy="398.63" r="1.9" fill="#A2DAD8"/><circle cx="566.01" cy="410.09" r="1.9" fill="#A2DAD8"/><circle cx="576.83" cy="410.09" r="1.9" fill="#F5852A"/><circle cx="549.78" cy="415.82" r="1.9" fill="#7CC57A"/><circle cx="544.37" cy="421.55" r="1.9" fill="#6ABD5A"/><circle cx="576.83" cy="421.55" r="1.9" fill="#72C162"/><circle cx="538.96" cy="427.28" r="1.9" fill="#6ABD5A"/><circle cx="522.73" cy="433.01" r="1.9" fill="#F05423"/><circle cx="533.55" cy="433.01" r="1.9" fill="#7CC57A"/><circle cx="555.19" cy="433.01" r="1.9" fill="#8FC548"/><circle cx="576.83" cy="433.01" r="1.9" fill="#6ABD5A"/><circle cx="549.78" cy="438.74" r="1.9" fill="#6ABD5A"/><circle cx="511.91" cy="444.47" r="1.9" fill="#72C162"/><circle cx="522.73" cy="444.47" r="1.9" fill="#F05423"/><circle cx="533.55" cy="444.47" r="1.9" fill="#6ABD5A"/><circle cx="544.37" cy="444.47" r="1.9" fill="#A2DAD8"/><circle cx="555.19" cy="444.47" r="1.9" fill="#A2DAD8"/><circle cx="566.01" cy="444.47" r="1.9" fill="#8FC548"/><circle cx="576.83" cy="444.47" r="1.9" fill="#A2DAD8"/><circle cx="598.47" cy="444.47" r="1.9" fill="#6ABD5A"/><circle cx="609.29" cy="444.47" r="1.9" fill="#F5852A"/><circle cx="571.42" cy="450.2" r="1.9" fill="#6ABD5A"/><circle cx="614.7" cy="450.2" r="1.9" fill="#72C162"/><circle cx="522.73" cy="455.93" r="1.9" fill="#FFDF20"/><circle cx="533.55" cy="455.93" r="1.9" fill="#F5852A"/><circle cx="544.37" cy="455.93" r="1.9" fill="#8FC548"/><circle cx="555.19" cy="455.93" r="1.9" fill="#72C162"/><circle cx="566.01" cy="455.93" r="1.9" fill="#FFDF20"/><circle cx="576.83" cy="455.93" r="1.9" fill="#F5852A"/><circle cx="587.65" cy="455.93" r="1.9" fill="#72C162"/><circle cx="609.29" cy="455.93" r="1.9" fill="#FFDF20"/><circle cx="528.14" cy="461.66" r="1.9" fill="#F5852A"/><circle cx="571.42" cy="461.66" r="1.9" fill="#F5852A"/><circle cx="593.06" cy="461.66" r="1.9" fill="#72C162"/><circle cx="533.55" cy="467.39" r="1.9" fill="#6ABD5A"/><circle cx="555.19" cy="467.39" r="1.9" fill="#6ABD5A"/><circle cx="566.01" cy="467.39" r="1.9" fill="#8FC548"/><circle cx="576.83" cy="467.39" r="1.9" fill="#8FC548"/><circle cx="582.24" cy="473.12" r="1.9" fill="#F5852A"/><circle cx="593.06" cy="473.12" r="1.9" fill="#FFDF20"/><circle cx="479.45" cy="478.85" r="1.9" fill="#A2DAD8"/><circle cx="490.27" cy="478.85" r="1.9" fill="#7CC57A"/><circle cx="501.09" cy="478.85" r="1.9" fill="#F5852A"/><circle cx="522.73" cy="478.85" r="1.9" fill="#6ABD5A"/><circle cx="533.55" cy="478.85" r="1.9" fill="#6ABD5A"/><circle cx="566.01" cy="478.85" r="1.9" fill="#8FC548"/><circle cx="576.83" cy="478.85" r="1.9" fill="#6ABD5A"/><circle cx="587.65" cy="478.85" r="1.9" fill="#F5852A"/><circle cx="474.04" cy="484.58" r="1.9" fill="#6ABD5A"/><circle cx="484.86" cy="484.58" r="1.9" fill="#F05423"/><circle cx="479.45" cy="490.31" r="1.9" fill="#FFDF20"/><circle cx="490.27" cy="490.31" r="1.9" fill="#F5852A"/><circle cx="501.09" cy="490.31" r="1.9" fill="#72C162"/><circle cx="533.55" cy="490.31" r="1.9" fill="#6ABD5A"/><circle cx="544.37" cy="490.31" r="1.9" fill="#6ABD5A"/><circle cx="555.19" cy="490.31" r="1.9" fill="#A2DAD8"/><circle cx="566.01" cy="490.31" r="1.9" fill="#72C162"/><circle cx="576.83" cy="490.31" r="1.9" fill="#A2DAD8"/><circle cx="517.32" cy="496.04" r="1.9" fill="#72C162"/><circle cx="457.81" cy="501.77" r="1.9" fill="#6ABD5A"/><circle cx="479.45" cy="501.77" r="1.9" fill="#6ABD5A"/><circle cx="501.09" cy="501.77" r="1.9" fill="#F5852A"/><circle cx="522.73" cy="501.77" r="1.9" fill="#F05423"/><circle cx="544.37" cy="501.77" r="1.9" fill="#8FC548"/><circle cx="555.19" cy="501.77" r="1.9" fill="#7CC57A"/><circle cx="566.01" cy="501.77" r="1.9" fill="#FFDF20"/><circle cx="452.4" cy="507.5" r="1.9" fill="#6ABD5A"/><circle cx="457.81" cy="513.23" r="1.9" fill="#F5852A"/><circle cx="479.45" cy="513.23" r="1.9" fill="#6ABD5A"/><circle cx="490.27" cy="513.23" r="1.9" fill="#8FC548"/><circle cx="501.09" cy="513.23" r="1.9" fill="#A2DAD8"/><circle cx="511.91" cy="513.23" r="1.9" fill="#F05423"/><circle cx="522.73" cy="513.23" r="1.9" fill="#6ABD5A"/><circle cx="533.55" cy="513.23" r="1.9" fill="#A2DAD8"/><circle cx="441.58" cy="518.96" r="1.9" fill="#6ABD5A"/><circle cx="457.81" cy="524.69" r="1.9" fill="#FFDF20"/><circle cx="479.45" cy="524.69" r="1.9" fill="#8FC548"/><circle cx="490.27" cy="524.69" r="1.9" fill="#6ABD5A"/><circle cx="511.91" cy="524.69" r="1.9" fill="#6ABD5A"/><circle cx="533.55" cy="524.69" r="1.9" fill="#FFDF20"/><circle cx="441.58" cy="530.42" r="1.9" fill="#F5852A"/><circle cx="436.17" cy="536.15" r="1.9" fill="#6ABD5A"/><circle cx="446.99" cy="536.15" r="1.9" fill="#6ABD5A"/><circle cx="457.81" cy="536.15" r="1.9" fill="#72C162"/><circle cx="425.35" cy="547.61" r="1.9" fill="#7CC57A"/><circle cx="446.99" cy="547.61" r="1.9" fill="#6ABD5A"/><circle cx="468.63" cy="547.61" r="1.9" fill="#6ABD5A"/><circle cx="490.27" cy="547.61" r="1.9" fill="#6ABD5A"/><circle cx="501.09" cy="547.61" r="1.9" fill="#6ABD5A"/><circle cx="522.73" cy="547.61" r="1.9" fill="#6ABD5A"/><circle cx="474.04" cy="553.34" r="1.9" fill="#6ABD5A"/><circle cx="484.86" cy="553.34" r="1.9" fill="#7CC57A"/><circle cx="436.17" cy="559.07" r="1.9" fill="#6ABD5A"/><circle cx="446.99" cy="559.07" r="1.9" fill="#F05423"/><circle cx="479.45" cy="559.07" r="1.9" fill="#FFDF20"/><circle cx="490.27" cy="559.07" r="1.9" fill="#F05423"/><circle cx="430.76" cy="564.8" r="1.9" fill="#6ABD5A"/><circle cx="484.86" cy="564.8" r="1.9" fill="#6ABD5A"/><circle cx="425.35" cy="570.53" r="1.9" fill="#72C162"/><circle cx="436.17" cy="570.53" r="1.9" fill="#F5852A"/><circle cx="446.99" cy="570.53" r="1.9" fill="#6ABD5A"/><circle cx="457.81" cy="570.53" r="1.9" fill="#F5852A"/><circle cx="490.27" cy="570.53" r="1.9" fill="#72C162"/></g><path d="M430.76 541.88L436.17 547.61M463.22 553.34L468.63 559.07M468.63 559.07L474.04 564.8M474.04 530.42L479.45 536.15M479.45 536.15L484.86 541.88M484.86 473.12L490.27 467.39M490.27 467.39L495.68 461.66M495.68 564.8L501.09 559.07M501.09 467.39L506.5 461.66M506.5 530.42L511.91 536.15M511.91 536.15L517.32 541.88M511.91 547.61L517.32 541.88M517.32 461.66L522.73 467.39M517.32 484.58L522.73 490.31M517.32 541.88L522.73 536.15M522.73 490.31L528.14 496.04M522.73 490.31L528.14 484.58M528.14 507.5L533.55 501.77M538.96 473.12L544.37 478.85M538.96 518.96L544.37 513.23M544.37 524.69L549.78 518.96M555.19 410.09L560.6 415.82M555.19 421.55L560.6 415.82M555.19 478.85L560.6 484.58M560.6 415.82L566.01 421.55M560.6 427.28L566.01 433.01M582.24 415.82L587.65 421.55M582.24 427.28L587.65 433.01M587.65 433.01L593.06 438.74" stroke="#f7d9bd" stroke-width="1.5" fill="none"/><g fill="#fff" stroke="#f5bd90" stroke-width="0.9"><circle cx="560.36" cy="392.78" r="2.29"/><circle cx="549.48" cy="404.11" r="2.01"/><circle cx="560.86" cy="404.11" r="2.15"/><circle cx="571.18" cy="404.23" r="1.91"/><circle cx="544.5" cy="410.04" r="2.06"/><circle cx="555.14" cy="410.34" r="1.86"/><circle cx="539.19" cy="415.65" r="2.02"/><circle cx="560.43" cy="415.9" r="1.89"/><circle cx="571.2" cy="415.75" r="2.31"/><circle cx="582.31" cy="415.96" r="1.98"/><circle cx="533.4" cy="421.69" r="2.13"/><circle cx="555.44" cy="421.7" r="1.97"/><circle cx="566.29" cy="421.31" r="2.14"/><circle cx="587.71" cy="421.29" r="1.87"/><circle cx="528.42" cy="427.18" r="1.92"/><circle cx="549.71" cy="427.33" r="2.19"/><circle cx="560.9" cy="427.51" r="2.2"/><circle cx="571.47" cy="427.24" r="2.25"/><circle cx="581.96" cy="427.34" r="2.26"/><circle cx="592.91" cy="426.99" r="2.36"/><circle cx="544.26" cy="432.79" r="2.17"/><circle cx="566.27" cy="433.21" r="2.11"/><circle cx="587.69" cy="432.9" r="2.24"/><circle cx="598.44" cy="432.72" r="1.92"/><circle cx="517.43" cy="438.56" r="2.38"/><circle cx="528" cy="438.65" r="1.95"/><circle cx="539.11" cy="438.68" r="2.19"/><circle cx="560.3" cy="438.77" r="2.34"/><circle cx="571.33" cy="438.64" r="2.3"/><circle cx="582.42" cy="438.99" r="2.33"/><circle cx="593.32" cy="438.6" r="2.39"/><circle cx="603.6" cy="438.65" r="2.13"/><circle cx="587.67" cy="444.2" r="2.06"/><circle cx="506.76" cy="449.98" r="2.19"/><circle cx="517.16" cy="450.31" r="1.96"/><circle cx="528.15" cy="450.05" r="1.92"/><circle cx="538.76" cy="450.02" r="2.14"/><circle cx="549.99" cy="450.27" r="2.14"/><circle cx="560.79" cy="450.44" r="2.26"/><circle cx="582.19" cy="450.37" r="2.31"/><circle cx="593.31" cy="450.48" r="2.23"/><circle cx="603.62" cy="449.96" r="1.95"/><circle cx="501.02" cy="455.89" r="1.9"/><circle cx="511.85" cy="455.85" r="1.96"/><circle cx="598.54" cy="455.77" r="2.2"/><circle cx="495.45" cy="461.42" r="2.17"/><circle cx="506.36" cy="461.53" r="1.86"/><circle cx="517.29" cy="461.75" r="1.9"/><circle cx="538.91" cy="461.68" r="2.37"/><circle cx="549.91" cy="461.54" r="2.01"/><circle cx="560.84" cy="461.81" r="2.06"/><circle cx="581.97" cy="461.42" r="2.27"/><circle cx="603.65" cy="461.73" r="2.18"/><circle cx="490.22" cy="467.56" r="2.17"/><circle cx="501.33" cy="467.56" r="1.91"/><circle cx="512.02" cy="467.43" r="2"/><circle cx="522.98" cy="467.62" r="2.39"/><circle cx="544.66" cy="467.38" r="1.98"/><circle cx="587.88" cy="467.14" r="1.9"/><circle cx="598.22" cy="467.22" r="2.28"/><circle cx="484.63" cy="473.25" r="2.05"/><circle cx="495.56" cy="473.01" r="2.29"/><circle cx="506.42" cy="473.06" r="2.05"/><circle cx="517.36" cy="472.93" r="2.31"/><circle cx="527.85" cy="473.13" r="2"/><circle cx="538.99" cy="473.29" r="1.89"/><circle cx="549.57" cy="473.27" r="2.2"/><circle cx="560.76" cy="473.13" r="1.97"/><circle cx="571.7" cy="473.22" r="2.04"/><circle cx="511.93" cy="478.71" r="2.06"/><circle cx="544.21" cy="478.98" r="1.97"/><circle cx="555.08" cy="478.88" r="2.27"/><circle cx="495.47" cy="484.37" r="2.18"/><circle cx="506.36" cy="484.6" r="2.4"/><circle cx="517.07" cy="484.44" r="2.3"/><circle cx="528.12" cy="484.85" r="2.11"/><circle cx="538.71" cy="484.78" r="2.35"/><circle cx="549.67" cy="484.33" r="2.02"/><circle cx="560.54" cy="484.56" r="1.91"/><circle cx="571.13" cy="484.51" r="2.21"/><circle cx="582.21" cy="484.29" r="2.16"/><circle cx="468.51" cy="490.21" r="2.15"/><circle cx="512.2" cy="490.27" r="1.87"/><circle cx="522.99" cy="490.09" r="2.3"/><circle cx="462.97" cy="495.89" r="1.96"/><circle cx="473.81" cy="496.32" r="2.1"/><circle cx="485.11" cy="496.34" r="2"/><circle cx="495.87" cy="495.91" r="1.92"/><circle cx="506.7" cy="495.85" r="2.17"/><circle cx="527.85" cy="495.86" r="2.29"/><circle cx="538.82" cy="496.08" r="2.14"/><circle cx="549.84" cy="496.02" r="2.38"/><circle cx="560.9" cy="496.24" r="2.12"/><circle cx="571.46" cy="496.28" r="2.09"/><circle cx="468.48" cy="501.99" r="2.31"/><circle cx="490.52" cy="502.05" r="1.89"/><circle cx="511.92" cy="501.55" r="1.89"/><circle cx="533.74" cy="501.71" r="2.34"/><circle cx="463.12" cy="507.77" r="2.33"/><circle cx="474.26" cy="507.27" r="1.94"/><circle cx="484.86" cy="507.38" r="2.25"/><circle cx="495.92" cy="507.31" r="2.39"/><circle cx="506.24" cy="507.74" r="2.35"/><circle cx="517.61" cy="507.31" r="1.94"/><circle cx="528.21" cy="507.75" r="2.34"/><circle cx="539.21" cy="507.39" r="2.28"/><circle cx="549.93" cy="507.52" r="2.39"/><circle cx="560.45" cy="507.63" r="2.15"/><circle cx="447.22" cy="513.13" r="2.1"/><circle cx="468.71" cy="513.28" r="1.95"/><circle cx="544.6" cy="513.01" r="1.98"/><circle cx="555.35" cy="513.37" r="2.4"/><circle cx="452.65" cy="519.19" r="2.16"/><circle cx="463.48" cy="518.79" r="2.32"/><circle cx="474.03" cy="518.9" r="2.29"/><circle cx="484.85" cy="518.98" r="1.95"/><circle cx="495.82" cy="518.97" r="2.14"/><circle cx="506.67" cy="518.74" r="2.25"/><circle cx="517.53" cy="518.89" r="2.1"/><circle cx="527.95" cy="518.97" r="2.12"/><circle cx="538.99" cy="518.85" r="2.13"/><circle cx="549.56" cy="518.97" r="2.1"/><circle cx="436.32" cy="524.79" r="2.27"/><circle cx="446.91" cy="524.86" r="2.28"/><circle cx="468.54" cy="524.82" r="2.27"/><circle cx="501.34" cy="524.55" r="2.35"/><circle cx="522.54" cy="524.67" r="2.22"/><circle cx="544.44" cy="524.43" r="2.15"/><circle cx="430.47" cy="530.48" r="2.11"/><circle cx="452.63" cy="530.53" r="2.3"/><circle cx="462.93" cy="530.6" r="1.91"/><circle cx="474.15" cy="530.6" r="2.03"/><circle cx="484.78" cy="530.54" r="2.21"/><circle cx="495.97" cy="530.61" r="2.33"/><circle cx="506.51" cy="530.53" r="2.32"/><circle cx="517.46" cy="530.54" r="2.07"/><circle cx="527.96" cy="530.46" r="2.32"/><circle cx="538.76" cy="530.24" r="2"/><circle cx="425.2" cy="536.25" r="2"/><circle cx="468.7" cy="536.31" r="2.07"/><circle cx="479.48" cy="536.33" r="2.23"/><circle cx="490.04" cy="536.04" r="2.12"/><circle cx="501.08" cy="536.07" r="1.98"/><circle cx="511.72" cy="536.14" r="1.89"/><circle cx="522.72" cy="536.1" r="2.33"/><circle cx="533.58" cy="536.24" r="1.88"/><circle cx="430.48" cy="541.68" r="1.95"/><circle cx="441.29" cy="541.71" r="2.13"/><circle cx="452.59" cy="542.06" r="2.14"/><circle cx="463.42" cy="542.04" r="2.29"/><circle cx="473.98" cy="542" r="2.37"/><circle cx="484.78" cy="541.97" r="2.06"/><circle cx="495.59" cy="541.75" r="2.2"/><circle cx="506.4" cy="542.02" r="1.9"/><circle cx="517.11" cy="541.79" r="1.91"/><circle cx="528.41" cy="541.7" r="2.15"/><circle cx="436.42" cy="547.84" r="2.06"/><circle cx="458.04" cy="547.82" r="2.19"/><circle cx="479.6" cy="547.57" r="2.26"/><circle cx="511.72" cy="547.59" r="2.19"/><circle cx="430.94" cy="553.31" r="1.99"/><circle cx="441.61" cy="553.51" r="1.89"/><circle cx="452.64" cy="553.52" r="2.15"/><circle cx="463.42" cy="553.11" r="2.33"/><circle cx="495.95" cy="553.43" r="2.31"/><circle cx="506.37" cy="553.2" r="1.87"/><circle cx="517.45" cy="553.56" r="1.96"/><circle cx="425.36" cy="559.02" r="1.9"/><circle cx="457.68" cy="559.03" r="2.08"/><circle cx="468.73" cy="558.92" r="2.23"/><circle cx="501.01" cy="559.2" r="2.05"/><circle cx="512.18" cy="558.78" r="2.34"/><circle cx="441.67" cy="564.92" r="2.31"/><circle cx="452.34" cy="564.89" r="2.1"/><circle cx="463.37" cy="564.55" r="2.07"/><circle cx="474.18" cy="564.97" r="2.3"/><circle cx="495.98" cy="564.84" r="1.9"/><circle cx="506.35" cy="564.85" r="2.04"/><circle cx="468.72" cy="570.74" r="2.38"/><circle cx="479.35" cy="570.52" r="2.36"/><circle cx="500.94" cy="570.45" r="2.26"/><circle cx="430.79" cy="576.2" r="2.14"/><circle cx="441.73" cy="576.25" r="1.98"/><circle cx="452.32" cy="576.32" r="2.38"/><circle cx="463.23" cy="576.41" r="2.12"/><circle cx="474.26" cy="576.2" r="2.08"/><circle cx="484.75" cy="576.45" r="2.03"/><circle cx="495.84" cy="575.99" r="1.88"/></g>
</g>
<g fill="#A87ABB">
<polygon points="577.3,412.25 554.7,412.25 554.7,408.7 540.7,413.9 554.7,419.1 554.7,415.55 577.3,415.55"/>
<polygon points="583.15,478.6 583.15,443.1 586.7,443.1 581.5,424.7 576.3,443.1 579.85,443.1 579.85,478.6"/>
<polygon points="527.95,429.5 527.95,510.6 523.7,510.6 529.6,530.6 535.5,510.6 531.25,510.6 531.25,429.5"/>
<polygon points="475.2,486.65 549.7,486.65 549.7,491.3 567.9,485 549.7,478.7 549.7,483.35 475.2,483.35"/>
<polygon points="460.25,565.5 460.25,523.9 464.5,523.9 458.6,501 452.7,523.9 456.95,523.9 456.95,565.5"/>
<polygon points="512.8,548.25 445.7,548.25 445.7,543.2 426.9,549.9 445.7,556.6 445.7,551.55 512.8,551.55"/>
</g>
</g>
<rect x="365.6" y="359.7" width="283.8" height="266.6" fill="none" stroke="#222" stroke-width="1"/>
<path d="M380.9 626.3v5.2M419.15 626.3v2.8M457.4 626.3v5.2M495.65 626.3v2.8M533.9 626.3v5.2M572.15 626.3v2.8M610.4 626.3v5.2M648.65 626.3v2.8M365.6 623.05h-2.8M365.6 586.6h-5.2M365.6 550.15h-2.8M365.6 513.7h-5.2M365.6 477.25h-2.8M365.6 440.8h-5.2M365.6 404.35h-2.8M365.6 367.9h-5.2" stroke="#1a1a1a" stroke-width="1.1" fill="none"/>
<text transform="translate(367.77 651.1) scale(1.28 1)" font-size="15.5">−</text><text transform="translate(379.67 649.5) scale(0.9 1)" font-size="15.5">10</text>
<text transform="translate(453.91 649.5) scale(0.9 1)" font-size="15.5">0</text>
<text transform="translate(526.92 649.5) scale(0.9 1)" font-size="15.5">10</text>
<text transform="translate(603.42 649.5) scale(0.9 1)" font-size="15.5">20</text>
<text transform="translate(346.22 591.8) scale(0.9 1)" font-size="15.5">0</text>
<text transform="translate(346.22 518.9) scale(0.9 1)" font-size="15.5">9</text>
<text transform="translate(339.25 446) scale(0.9 1)" font-size="15.5">18</text>
<text transform="translate(339.25 373.1) scale(0.9 1)" font-size="15.5">27</text>
<text x="523" y="665" font-size="14.5" text-anchor="middle"><tspan font-style="italic">X</tspan>(<tspan font-style="italic">a</tspan>)</text>
<text transform="translate(340.2 481.1) rotate(-90)" font-size="14.5" text-anchor="middle"><tspan font-style="italic">Y</tspan>(<tspan font-style="italic">a</tspan>)</text>
<text x="523" y="349.3" font-size="14.7" text-anchor="middle">(d)</text>
<rect x="655.2" y="360.5" width="11.9" height="10.52" fill="#EF4A24"/><rect x="655.2" y="370.72" width="11.9" height="10.52" fill="#F05423"/><rect x="655.2" y="380.94" width="11.9" height="10.52" fill="#F26A22"/><rect x="655.2" y="391.16" width="11.9" height="10.52" fill="#F5852A"/><rect x="655.2" y="401.38" width="11.9" height="10.52" fill="#F89E28"/><rect x="655.2" y="411.6" width="11.9" height="10.52" fill="#FDC525"/><rect x="655.2" y="421.82" width="11.9" height="10.52" fill="#FFDF20"/><rect x="655.2" y="432.03" width="11.9" height="10.52" fill="#CEDC36"/><rect x="655.2" y="442.25" width="11.9" height="10.52" fill="#A9CF43"/><rect x="655.2" y="452.47" width="11.9" height="10.52" fill="#8FC548"/><rect x="655.2" y="462.69" width="11.9" height="10.52" fill="#7FC14E"/><rect x="655.2" y="472.91" width="11.9" height="10.52" fill="#74BF54"/><rect x="655.2" y="483.13" width="11.9" height="10.52" fill="#6DBE58"/><rect x="655.2" y="493.35" width="11.9" height="10.52" fill="#6ABD5A"/><rect x="655.2" y="503.57" width="11.9" height="10.52" fill="#72C162"/><rect x="655.2" y="513.79" width="11.9" height="10.52" fill="#7CC57A"/><rect x="655.2" y="524.01" width="11.9" height="10.52" fill="#8ACDA0"/><rect x="655.2" y="534.23" width="11.9" height="10.52" fill="#98D5BE"/><rect x="655.2" y="544.45" width="11.9" height="10.52" fill="#A2DAD8"/><rect x="655.2" y="554.67" width="11.9" height="10.52" fill="#6CC4EC"/><rect x="655.2" y="564.88" width="11.9" height="10.52" fill="#6D9BD4"/><rect x="655.2" y="575.1" width="11.9" height="10.52" fill="#6A80C2"/><rect x="655.2" y="585.32" width="11.9" height="10.52" fill="#5A66B2"/><rect x="655.2" y="595.54" width="11.9" height="10.52" fill="#4A57A8"/><rect x="655.2" y="605.76" width="11.9" height="10.52" fill="#4551A2"/><rect x="655.2" y="615.98" width="11.9" height="10.22" fill="#000000"/>
<text transform="translate(677.51 404.1) scale(0.9 1)" font-size="15.5">2</text>
<text transform="translate(677.51 513.8) scale(0.9 1)" font-size="15.5">1</text>
<text transform="translate(677.51 620.1) scale(0.9 1)" font-size="15.5">0</text>
</svg>
</body></html>
